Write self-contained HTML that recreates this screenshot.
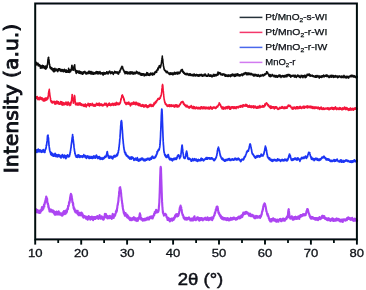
<!DOCTYPE html>
<html><head><meta charset="utf-8"><title>XRD</title>
<style>
html,body{margin:0;padding:0;background:#fff;}
body{width:366px;height:290px;overflow:hidden;}
svg{display:block;font-family:"Liberation Sans",Arial,sans-serif;fill:#0c1216;}
</style></head><body>
<svg width="366" height="290" viewBox="0 0 366 290">
<defs><filter id="b" x="-5%" y="-5%" width="110%" height="110%"><feGaussianBlur stdDeviation="0.5"/></filter></defs>
<rect width="366" height="290" fill="#fff"/>
<g filter="url(#b)">
<polyline fill="none" stroke="#ac44f2" stroke-width="2.1" stroke-linejoin="round" points="36.0,213.0 36.1,211.3 36.2,211.2 36.3,209.4 36.4,211.7 36.5,211.5 36.6,211.4 36.7,212.2 36.8,212.3 36.9,211.0 37.0,211.1 37.1,211.4 37.2,212.2 37.3,212.0 37.4,210.3 37.5,210.3 37.6,211.7 37.7,212.3 37.8,210.9 37.9,210.3 38.0,211.8 38.1,210.7 38.2,211.7 38.3,212.6 38.4,211.9 38.5,211.6 38.6,212.3 38.7,211.3 38.8,211.8 38.9,211.5 39.0,211.9 39.1,211.6 39.2,211.9 39.3,211.7 39.4,212.0 39.5,212.0 39.6,212.1 39.7,213.0 39.8,210.5 39.9,212.8 40.0,211.6 40.1,210.8 40.2,211.7 40.3,211.9 40.4,212.8 40.5,211.0 40.6,212.0 40.7,211.8 40.8,210.1 40.9,210.3 41.0,211.5 41.1,211.2 41.2,211.2 41.3,210.4 41.4,209.9 41.5,209.4 41.6,210.0 41.7,208.1 41.8,208.5 41.9,208.8 42.0,207.1 42.1,209.4 42.2,207.7 42.3,208.3 42.4,210.1 42.5,207.7 42.6,208.0 42.7,209.7 42.8,207.5 42.9,207.9 43.0,208.6 43.1,208.5 43.2,208.4 43.3,208.1 43.4,208.7 43.5,208.2 43.6,207.6 43.7,206.3 43.8,206.1 43.9,204.8 44.0,206.7 44.1,204.3 44.2,206.2 44.3,206.6 44.4,203.9 44.5,203.8 44.6,203.6 44.7,204.2 44.8,202.4 44.9,202.6 45.0,201.9 45.1,201.8 45.2,202.7 45.3,200.5 45.4,201.0 45.5,200.8 45.6,200.9 45.7,198.8 45.8,200.2 45.9,199.3 46.0,199.2 46.1,198.2 46.2,196.5 46.3,197.0 46.4,198.1 46.5,197.5 46.6,197.6 46.7,199.4 46.8,200.2 46.9,198.9 47.0,201.1 47.1,198.6 47.2,199.2 47.3,202.2 47.4,201.9 47.5,203.1 47.6,203.6 47.7,203.5 47.8,204.5 47.9,204.5 48.0,203.5 48.1,205.2 48.2,205.5 48.3,207.2 48.4,205.2 48.5,206.5 48.6,206.5 48.7,207.1 48.8,208.9 48.9,208.3 49.0,208.0 49.1,208.9 49.2,209.8 49.3,208.7 49.4,209.7 49.5,211.4 49.6,211.2 49.7,210.7 49.8,210.5 49.9,210.9 50.0,209.8 50.1,211.7 50.2,211.2 50.3,210.9 50.4,209.6 50.5,209.8 50.6,210.7 50.7,210.4 50.8,209.8 50.9,210.5 51.0,210.9 51.1,209.8 51.2,210.0 51.3,209.9 51.4,209.8 51.5,211.5 51.6,211.3 51.7,211.3 51.8,210.1 51.9,210.2 52.0,211.0 52.1,210.7 52.2,211.1 52.3,210.5 52.4,211.5 52.5,212.3 52.6,212.1 52.7,212.2 52.8,210.9 52.9,211.6 53.0,210.6 53.1,211.7 53.2,210.7 53.3,210.8 53.4,210.7 53.5,211.9 53.6,211.8 53.7,211.9 53.8,211.1 53.9,212.3 54.0,211.2 54.1,213.7 54.2,212.6 54.3,213.0 54.4,213.0 54.5,211.9 54.6,212.2 54.7,213.4 54.8,214.6 54.9,212.7 55.0,213.1 55.1,213.7 55.2,212.5 55.3,212.5 55.4,213.5 55.5,213.8 55.6,213.4 55.7,214.8 55.8,213.4 55.9,213.7 56.0,214.4 56.1,214.4 56.2,211.7 56.3,212.5 56.4,213.7 56.5,211.7 56.6,212.0 56.7,211.8 56.8,211.8 56.9,212.1 57.0,213.2 57.1,214.2 57.2,214.5 57.3,213.4 57.4,212.0 57.5,213.6 57.6,213.4 57.7,214.0 57.8,213.6 57.9,212.3 58.0,213.9 58.1,211.9 58.2,212.9 58.3,213.6 58.4,213.5 58.5,214.4 58.6,211.3 58.7,213.4 58.8,213.6 58.9,212.8 59.0,213.6 59.1,212.3 59.2,213.6 59.3,213.6 59.4,212.4 59.5,212.7 59.6,213.1 59.7,212.8 59.8,214.2 59.9,213.6 60.0,214.6 60.1,214.6 60.2,213.9 60.3,213.8 60.4,213.4 60.5,213.6 60.6,213.7 60.7,214.6 60.8,213.7 60.9,214.4 61.0,214.5 61.1,213.9 61.2,214.0 61.3,215.1 61.4,215.2 61.5,213.3 61.6,213.7 61.7,213.6 61.8,213.7 61.9,215.1 62.0,214.6 62.1,215.2 62.2,215.7 62.3,214.1 62.4,214.4 62.5,214.6 62.6,215.3 62.7,214.4 62.8,214.8 62.9,214.9 63.0,214.7 63.1,213.9 63.2,212.7 63.3,211.8 63.4,213.6 63.5,212.9 63.6,211.7 63.7,211.9 63.8,211.9 63.9,211.0 64.0,212.4 64.1,211.7 64.2,212.1 64.3,212.9 64.4,212.4 64.5,212.9 64.6,212.9 64.7,212.7 64.8,212.8 64.9,214.2 65.0,212.7 65.1,214.0 65.2,212.1 65.3,213.3 65.4,212.8 65.5,212.1 65.6,210.6 65.7,213.7 65.8,211.6 65.9,211.7 66.0,212.4 66.1,212.3 66.2,212.4 66.3,212.0 66.4,210.9 66.5,212.6 66.6,211.1 66.7,211.8 66.8,211.8 66.9,212.0 67.0,210.8 67.1,210.5 67.2,210.2 67.3,208.8 67.4,209.3 67.5,208.8 67.6,208.3 67.7,208.9 67.8,208.2 67.9,209.2 68.0,208.7 68.1,205.9 68.2,206.9 68.3,205.8 68.4,206.5 68.5,205.9 68.6,206.2 68.7,205.4 68.8,205.4 68.9,204.3 69.0,202.3 69.1,202.9 69.2,202.6 69.3,202.4 69.4,201.5 69.5,202.9 69.6,201.0 69.7,201.5 69.8,199.7 69.9,200.6 70.0,197.9 70.1,198.7 70.2,196.7 70.3,197.5 70.4,197.8 70.5,195.0 70.6,195.1 70.7,195.5 70.8,194.9 70.9,193.8 71.0,195.6 71.1,194.8 71.2,195.9 71.3,195.5 71.4,194.8 71.5,195.7 71.6,197.6 71.7,196.1 71.8,197.4 71.9,198.7 72.0,199.6 72.1,200.0 72.2,199.0 72.3,202.1 72.4,201.1 72.5,201.7 72.6,202.3 72.7,202.7 72.8,202.7 72.9,203.6 73.0,205.3 73.1,203.8 73.2,203.5 73.3,206.1 73.4,206.3 73.5,207.0 73.6,208.1 73.7,206.8 73.8,207.8 73.9,208.4 74.0,209.2 74.1,209.4 74.2,208.4 74.3,208.3 74.4,209.3 74.5,208.6 74.6,210.7 74.7,209.9 74.8,210.1 74.9,209.9 75.0,211.8 75.1,211.1 75.2,210.8 75.3,211.7 75.4,211.3 75.5,211.9 75.6,212.4 75.7,211.3 75.8,211.8 75.9,211.7 76.0,212.1 76.1,211.7 76.2,211.3 76.3,210.9 76.4,211.7 76.5,210.8 76.6,212.2 76.7,212.0 76.8,212.5 76.9,211.9 77.0,211.9 77.1,211.9 77.2,213.4 77.3,212.6 77.4,212.7 77.5,211.7 77.6,213.0 77.7,210.8 77.8,214.3 77.9,213.4 78.0,213.7 78.1,212.9 78.2,213.3 78.3,214.6 78.4,214.2 78.5,214.7 78.6,215.3 78.7,214.9 78.8,213.1 78.9,213.7 79.0,213.5 79.1,213.6 79.2,212.7 79.3,212.7 79.4,213.6 79.5,213.6 79.6,214.4 79.7,213.8 79.8,215.1 79.9,212.9 80.0,213.2 80.1,214.4 80.2,214.1 80.3,213.7 80.4,214.9 80.5,215.2 80.6,215.3 80.7,214.1 80.8,214.3 80.9,214.4 81.0,214.2 81.1,214.8 81.2,213.8 81.3,214.3 81.4,212.5 81.5,214.6 81.6,215.2 81.7,214.0 81.8,214.8 81.9,213.0 82.0,213.9 82.1,213.2 82.2,214.5 82.3,214.7 82.4,213.5 82.5,214.0 82.6,214.3 82.7,216.6 82.8,215.1 82.9,215.4 83.0,215.8 83.1,216.0 83.2,215.9 83.3,215.3 83.4,215.9 83.5,217.6 83.6,216.8 83.7,216.4 83.8,215.8 83.9,216.6 84.0,216.7 84.1,216.2 84.2,217.2 84.3,216.1 84.4,216.4 84.5,217.1 84.6,216.6 84.7,217.2 84.8,216.3 84.9,216.2 85.0,216.8 85.1,216.7 85.2,217.5 85.3,217.0 85.4,216.9 85.5,217.3 85.6,217.6 85.7,216.6 85.8,217.4 85.9,217.4 86.0,218.6 86.1,217.5 86.2,218.7 86.3,217.1 86.4,218.0 86.5,218.8 86.6,217.9 86.7,218.8 86.8,216.7 86.9,218.2 87.0,218.3 87.1,218.3 87.2,217.5 87.3,219.1 87.4,217.2 87.5,219.6 87.6,219.3 87.7,219.8 87.8,219.0 87.9,218.3 88.0,218.6 88.1,218.5 88.2,219.0 88.3,218.2 88.4,218.4 88.5,218.2 88.6,218.6 88.7,216.0 88.8,216.9 88.9,217.5 89.0,217.4 89.1,216.6 89.2,216.8 89.3,217.0 89.4,217.3 89.5,217.0 89.6,217.1 89.7,216.9 89.8,217.6 89.9,218.9 90.0,217.5 90.1,218.8 90.2,219.5 90.3,218.3 90.4,219.7 90.5,218.0 90.6,219.1 90.7,217.9 90.8,217.0 90.9,217.9 91.0,218.9 91.1,217.1 91.2,217.8 91.3,216.7 91.4,216.8 91.5,217.6 91.6,217.2 91.7,217.6 91.8,218.1 91.9,216.5 92.0,216.9 92.1,217.4 92.2,219.0 92.3,217.4 92.4,217.4 92.5,218.2 92.6,219.4 92.7,217.8 92.8,218.2 92.9,218.5 93.0,219.1 93.1,220.2 93.2,217.9 93.3,217.6 93.4,218.8 93.5,219.0 93.6,217.0 93.7,218.0 93.8,218.9 93.9,217.8 94.0,218.3 94.1,218.0 94.2,218.2 94.3,217.9 94.4,217.7 94.5,218.3 94.6,217.1 94.7,217.6 94.8,218.2 94.9,217.2 95.0,217.3 95.1,217.1 95.2,217.0 95.3,219.0 95.4,218.0 95.5,218.9 95.6,218.2 95.7,217.7 95.8,217.4 95.9,217.8 96.0,217.5 96.1,218.1 96.2,216.9 96.3,217.5 96.4,217.7 96.5,217.2 96.6,217.1 96.7,217.6 96.8,217.5 96.9,217.0 97.0,217.0 97.1,216.6 97.2,217.3 97.3,216.9 97.4,216.0 97.5,216.9 97.6,217.6 97.7,217.5 97.8,216.9 97.9,218.1 98.0,218.1 98.1,218.2 98.2,218.9 98.3,217.7 98.4,218.3 98.5,217.7 98.6,218.4 98.7,218.4 98.8,217.8 98.9,217.9 99.0,216.7 99.1,217.5 99.2,216.2 99.3,218.3 99.4,217.6 99.5,215.8 99.6,215.1 99.7,217.7 99.8,216.3 99.9,217.3 100.0,216.2 100.1,217.2 100.2,216.9 100.3,217.8 100.4,217.3 100.5,218.6 100.6,217.2 100.7,218.6 100.8,217.8 100.9,218.2 101.0,216.8 101.1,216.6 101.2,218.4 101.3,216.8 101.4,217.3 101.5,217.2 101.6,216.8 101.7,217.5 101.8,216.4 101.9,216.6 102.0,218.0 102.1,217.0 102.2,218.1 102.3,218.2 102.4,218.9 102.5,218.3 102.6,217.0 102.7,218.0 102.8,218.3 102.9,219.5 103.0,219.1 103.1,218.7 103.2,219.4 103.3,218.9 103.4,219.5 103.5,219.2 103.6,219.7 103.7,219.1 103.8,219.3 103.9,218.4 104.0,218.5 104.1,217.6 104.2,217.8 104.3,217.2 104.4,216.6 104.5,216.1 104.6,215.9 104.7,216.1 104.8,214.1 104.9,216.2 105.0,213.8 105.1,215.1 105.2,215.0 105.3,215.7 105.4,215.4 105.5,215.3 105.6,215.4 105.7,216.0 105.8,216.9 105.9,215.7 106.0,214.1 106.1,215.2 106.2,215.8 106.3,217.7 106.4,215.2 106.5,215.6 106.6,216.4 106.7,216.4 106.8,215.6 106.9,217.2 107.0,216.0 107.1,216.9 107.2,218.0 107.3,216.5 107.4,217.2 107.5,218.5 107.6,217.3 107.7,216.7 107.8,217.0 107.9,217.8 108.0,216.2 108.1,216.8 108.2,216.2 108.3,216.4 108.4,218.0 108.5,217.2 108.6,217.0 108.7,217.7 108.8,217.0 108.9,216.8 109.0,218.3 109.1,218.1 109.2,217.0 109.3,217.9 109.4,218.3 109.5,217.6 109.6,217.5 109.7,216.3 109.8,216.9 109.9,215.8 110.0,217.7 110.1,216.9 110.2,217.9 110.3,216.6 110.4,217.8 110.5,216.3 110.6,217.1 110.7,217.7 110.8,217.7 110.9,217.4 111.0,216.5 111.1,218.3 111.2,217.9 111.3,218.2 111.4,218.2 111.5,217.2 111.6,217.6 111.7,219.0 111.8,216.7 111.9,217.3 112.0,216.5 112.1,217.7 112.2,216.5 112.3,215.5 112.4,215.6 112.5,214.9 112.6,214.2 112.7,213.9 112.8,215.1 112.9,214.9 113.0,215.7 113.1,215.2 113.2,216.0 113.3,217.1 113.4,215.4 113.5,215.5 113.6,217.0 113.7,217.9 113.8,215.9 113.9,215.3 114.0,216.2 114.1,216.0 114.2,216.6 114.3,215.3 114.4,215.6 114.5,215.4 114.6,214.5 114.7,214.3 114.8,215.4 114.9,215.3 115.0,214.3 115.1,215.6 115.2,215.0 115.3,214.4 115.4,214.3 115.5,213.8 115.6,213.8 115.7,213.6 115.8,212.9 115.9,211.4 116.0,212.4 116.1,211.7 116.2,211.3 116.3,212.2 116.4,210.5 116.5,211.8 116.6,210.5 116.7,209.6 116.8,209.4 116.9,210.8 117.0,209.7 117.1,208.0 117.2,208.2 117.3,208.0 117.4,205.8 117.5,205.5 117.6,205.7 117.7,204.7 117.8,203.7 117.9,204.3 118.0,203.0 118.1,202.5 118.2,202.8 118.3,200.8 118.4,201.4 118.5,199.0 118.6,197.9 118.7,197.1 118.8,196.6 118.9,195.5 119.0,194.4 119.1,192.3 119.2,191.6 119.3,191.3 119.4,191.1 119.5,190.9 119.6,187.8 119.7,188.7 119.8,188.1 119.9,188.0 120.0,188.1 120.1,187.4 120.2,187.2 120.3,189.0 120.4,189.2 120.5,188.9 120.6,189.7 120.7,190.0 120.8,190.3 120.9,192.4 121.0,192.4 121.1,193.0 121.2,194.2 121.3,196.5 121.4,196.7 121.5,197.6 121.6,198.4 121.7,199.8 121.8,200.6 121.9,200.2 122.0,201.7 122.1,202.3 122.2,203.6 122.3,204.1 122.4,203.7 122.5,206.3 122.6,206.4 122.7,205.9 122.8,208.3 122.9,208.3 123.0,209.2 123.1,209.5 123.2,210.1 123.3,210.3 123.4,210.0 123.5,211.1 123.6,212.1 123.7,212.4 123.8,213.1 123.9,213.0 124.0,211.9 124.1,214.0 124.2,213.3 124.3,213.2 124.4,214.0 124.5,213.5 124.6,214.7 124.7,214.0 124.8,215.8 124.9,214.4 125.0,214.2 125.1,214.1 125.2,213.1 125.3,213.9 125.4,214.0 125.5,214.2 125.6,213.1 125.7,214.5 125.8,215.4 125.9,214.4 126.0,214.8 126.1,215.2 126.2,214.5 126.3,214.9 126.4,215.8 126.5,215.4 126.6,214.6 126.7,214.4 126.8,216.9 126.9,215.9 127.0,214.7 127.1,215.9 127.2,216.4 127.3,216.2 127.4,215.1 127.5,217.6 127.6,217.0 127.7,216.7 127.8,217.4 127.9,216.9 128.0,217.0 128.1,217.8 128.2,216.1 128.3,217.9 128.4,217.6 128.5,217.9 128.6,218.0 128.7,218.5 128.8,218.5 128.9,218.2 129.0,217.6 129.1,218.4 129.2,217.8 129.3,217.6 129.4,218.7 129.5,218.8 129.6,219.4 129.7,217.6 129.8,219.4 129.9,219.5 130.0,219.3 130.1,220.1 130.2,218.7 130.3,219.5 130.4,219.0 130.5,219.2 130.6,218.5 130.7,218.9 130.8,219.3 130.9,218.9 131.0,219.0 131.1,218.3 131.2,219.7 131.3,218.4 131.4,218.9 131.5,219.3 131.6,218.9 131.7,219.6 131.8,219.3 131.9,220.3 132.0,219.7 132.1,219.6 132.2,218.8 132.3,219.6 132.4,219.8 132.5,219.4 132.6,218.4 132.7,218.6 132.8,218.6 132.9,218.7 133.0,217.7 133.1,219.6 133.2,218.3 133.3,218.3 133.4,217.9 133.5,218.1 133.6,219.2 133.7,217.4 133.8,217.7 133.9,217.3 134.0,217.7 134.1,219.0 134.2,217.8 134.3,218.1 134.4,217.5 134.5,218.5 134.6,219.1 134.7,218.9 134.8,219.1 134.9,219.9 135.0,219.9 135.1,219.5 135.2,219.1 135.3,218.6 135.4,220.4 135.5,218.3 135.6,219.5 135.7,219.0 135.8,218.6 135.9,219.5 136.0,218.6 136.1,219.8 136.2,218.5 136.3,219.5 136.4,220.1 136.5,218.9 136.6,220.8 136.7,220.2 136.8,218.5 136.9,220.7 137.0,221.1 137.1,219.9 137.2,220.0 137.3,220.3 137.4,219.0 137.5,220.1 137.6,220.5 137.7,219.5 137.8,220.3 137.9,220.8 138.0,218.1 138.1,218.0 138.2,218.5 138.3,219.1 138.4,218.8 138.5,217.9 138.6,217.7 138.7,217.8 138.8,219.2 138.9,217.5 139.0,217.6 139.1,218.2 139.2,217.2 139.3,216.3 139.4,217.2 139.5,215.9 139.6,214.6 139.7,214.1 139.8,214.4 139.9,213.4 140.0,213.9 140.1,214.8 140.2,215.5 140.3,214.6 140.4,216.0 140.5,216.7 140.6,217.4 140.7,218.2 140.8,218.7 140.9,217.9 141.0,217.7 141.1,218.6 141.2,218.1 141.3,219.6 141.4,218.8 141.5,218.6 141.6,219.2 141.7,218.3 141.8,218.5 141.9,218.7 142.0,219.4 142.1,219.9 142.2,219.8 142.3,219.9 142.4,219.5 142.5,220.0 142.6,219.7 142.7,220.6 142.8,219.5 142.9,219.9 143.0,220.0 143.1,220.3 143.2,219.4 143.3,219.7 143.4,219.3 143.5,219.0 143.6,220.5 143.7,220.1 143.8,219.0 143.9,219.3 144.0,220.2 144.1,219.5 144.2,219.2 144.3,220.4 144.4,219.3 144.5,219.2 144.6,219.7 144.7,218.8 144.8,219.2 144.9,219.2 145.0,219.6 145.1,218.7 145.2,219.8 145.3,219.4 145.4,220.3 145.5,219.5 145.6,219.0 145.7,219.0 145.8,218.6 145.9,219.2 146.0,219.1 146.1,219.6 146.2,219.0 146.3,218.4 146.4,219.5 146.5,218.6 146.6,218.9 146.7,219.6 146.8,219.4 146.9,218.3 147.0,218.6 147.1,219.4 147.2,219.2 147.3,219.0 147.4,219.2 147.5,217.5 147.6,218.6 147.7,218.0 147.8,218.5 147.9,218.6 148.0,219.1 148.1,219.5 148.2,219.3 148.3,218.9 148.4,218.5 148.5,219.4 148.6,218.8 148.7,217.6 148.8,218.6 148.9,218.9 149.0,218.0 149.1,218.7 149.2,219.4 149.3,218.2 149.4,218.2 149.5,218.1 149.6,217.4 149.7,217.5 149.8,217.1 149.9,217.4 150.0,216.9 150.1,217.9 150.2,217.2 150.3,217.7 150.4,216.5 150.5,217.3 150.6,217.7 150.7,217.9 150.8,217.2 150.9,217.6 151.0,217.8 151.1,217.6 151.2,217.6 151.3,218.2 151.4,217.2 151.5,216.8 151.6,217.5 151.7,217.9 151.8,216.3 151.9,218.3 152.0,217.6 152.1,217.8 152.2,216.9 152.3,217.4 152.4,218.5 152.5,218.5 152.6,217.7 152.7,217.2 152.8,217.2 152.9,218.0 153.0,216.6 153.1,216.3 153.2,216.6 153.3,217.0 153.4,215.6 153.5,216.1 153.6,215.9 153.7,215.5 153.8,215.1 153.9,215.5 154.0,215.1 154.1,213.7 154.2,215.3 154.3,214.4 154.4,214.2 154.5,213.6 154.6,213.5 154.7,212.1 154.8,213.2 154.9,213.6 155.0,213.4 155.1,212.6 155.2,211.5 155.3,212.0 155.4,212.3 155.5,213.0 155.6,211.2 155.7,211.9 155.8,212.1 155.9,211.9 156.0,211.3 156.1,209.7 156.2,211.5 156.3,211.2 156.4,211.5 156.5,210.7 156.6,211.0 156.7,212.2 156.8,211.4 156.9,211.5 157.0,211.2 157.1,212.4 157.2,210.7 157.3,211.4 157.4,211.9 157.5,211.6 157.6,212.1 157.7,211.8 157.8,212.3 157.9,211.3 158.0,211.3 158.1,211.4 158.2,210.1 158.3,211.7 158.4,210.2 158.5,211.0 158.6,210.7 158.7,209.8 158.8,208.6 158.9,207.2 159.0,205.2 159.1,205.4 159.2,203.3 159.3,202.6 159.4,199.4 159.5,197.6 159.6,194.5 159.7,192.1 159.8,188.7 159.9,185.7 160.0,181.4 160.1,178.8 160.2,175.9 160.3,173.8 160.4,170.6 160.5,167.7 160.6,168.0 160.7,166.8 160.8,167.6 160.9,167.7 161.0,168.3 161.1,172.2 161.2,175.0 161.3,178.8 161.4,181.0 161.5,184.6 161.6,187.5 161.7,191.4 161.8,193.6 161.9,197.6 162.0,199.6 162.1,201.9 162.2,203.2 162.3,205.2 162.4,207.1 162.5,207.4 162.6,209.7 162.7,209.9 162.8,211.4 162.9,212.7 163.0,212.9 163.1,211.9 163.2,213.6 163.3,213.1 163.4,213.4 163.5,213.9 163.6,213.6 163.7,214.7 163.8,214.4 163.9,215.6 164.0,215.3 164.1,213.8 164.2,214.7 164.3,214.7 164.4,214.8 164.5,214.8 164.6,215.1 164.7,214.8 164.8,214.1 164.9,214.8 165.0,214.9 165.1,214.3 165.2,214.9 165.3,214.4 165.4,213.8 165.5,213.9 165.6,214.2 165.7,214.6 165.8,214.6 165.9,215.2 166.0,215.6 166.1,214.6 166.2,214.9 166.3,215.8 166.4,216.4 166.5,217.0 166.6,217.1 166.7,217.4 166.8,216.7 166.9,217.7 167.0,217.3 167.1,218.1 167.2,218.5 167.3,217.8 167.4,218.2 167.5,219.9 167.6,218.2 167.7,218.5 167.8,218.3 167.9,218.2 168.0,219.7 168.1,218.8 168.2,218.9 168.3,218.9 168.4,217.8 168.5,219.8 168.6,219.1 168.7,219.4 168.8,220.2 168.9,219.4 169.0,219.7 169.1,219.8 169.2,220.5 169.3,219.1 169.4,219.7 169.5,218.9 169.6,220.2 169.7,220.6 169.8,220.0 169.9,221.4 170.0,220.8 170.1,221.3 170.2,220.2 170.3,221.0 170.4,219.6 170.5,220.0 170.6,219.7 170.7,219.2 170.8,220.2 170.9,219.9 171.0,218.7 171.1,219.4 171.2,219.0 171.3,219.1 171.4,219.3 171.5,218.7 171.6,219.2 171.7,219.3 171.8,218.8 171.9,219.0 172.0,219.8 172.1,219.4 172.2,220.8 172.3,220.7 172.4,219.2 172.5,219.8 172.6,218.6 172.7,219.4 172.8,219.2 172.9,219.3 173.0,218.5 173.1,219.8 173.2,219.6 173.3,219.0 173.4,219.3 173.5,219.7 173.6,219.9 173.7,218.2 173.8,219.6 173.9,217.6 174.0,218.0 174.1,218.1 174.2,219.0 174.3,218.4 174.4,218.2 174.5,218.6 174.6,217.6 174.7,217.0 174.8,217.9 174.9,216.7 175.0,216.0 175.1,215.5 175.2,216.3 175.3,217.1 175.4,216.3 175.5,215.7 175.6,216.2 175.7,214.6 175.8,215.5 175.9,214.8 176.0,215.8 176.1,214.5 176.2,215.4 176.3,215.0 176.4,214.9 176.5,215.3 176.6,215.0 176.7,215.9 176.8,215.1 176.9,214.1 177.0,216.2 177.1,216.2 177.2,215.8 177.3,216.4 177.4,216.0 177.5,215.2 177.6,214.5 177.7,215.0 177.8,215.4 177.9,215.7 178.0,214.6 178.1,214.7 178.2,215.9 178.3,214.5 178.4,214.2 178.5,213.9 178.6,215.0 178.7,214.2 178.8,213.9 178.9,213.9 179.0,213.1 179.1,212.8 179.2,211.8 179.3,211.6 179.4,210.9 179.5,210.4 179.6,208.7 179.7,208.7 179.8,208.1 179.9,207.4 180.0,207.3 180.1,207.9 180.2,207.1 180.3,206.4 180.4,206.4 180.5,207.0 180.6,205.6 180.7,206.6 180.8,207.6 180.9,207.9 181.0,207.8 181.1,208.1 181.2,207.2 181.3,208.4 181.4,209.3 181.5,210.1 181.6,210.7 181.7,209.8 181.8,211.3 181.9,212.3 182.0,212.1 182.1,212.8 182.2,213.6 182.3,213.8 182.4,214.0 182.5,214.6 182.6,215.1 182.7,214.6 182.8,214.5 182.9,215.0 183.0,215.4 183.1,215.9 183.2,215.4 183.3,216.1 183.4,216.6 183.5,217.7 183.6,217.5 183.7,217.3 183.8,218.1 183.9,217.9 184.0,218.1 184.1,218.7 184.2,218.4 184.3,218.4 184.4,218.8 184.5,218.2 184.6,218.6 184.7,217.5 184.8,218.4 184.9,219.5 185.0,218.5 185.1,218.8 185.2,218.6 185.3,218.2 185.4,219.0 185.5,218.7 185.6,219.3 185.7,218.2 185.8,218.6 185.9,218.3 186.0,218.1 186.1,219.0 186.2,217.9 186.3,217.9 186.4,219.7 186.5,218.3 186.6,218.3 186.7,218.7 186.8,218.0 186.9,218.8 187.0,218.0 187.1,218.4 187.2,218.3 187.3,219.4 187.4,218.9 187.5,219.5 187.6,219.3 187.7,218.0 187.8,218.6 187.9,218.0 188.0,217.9 188.1,218.9 188.2,219.0 188.3,218.3 188.4,218.4 188.5,218.4 188.6,218.3 188.7,218.3 188.8,217.5 188.9,218.4 189.0,217.7 189.1,217.4 189.2,218.0 189.3,218.3 189.4,218.7 189.5,218.6 189.6,218.7 189.7,218.4 189.8,219.2 189.9,219.2 190.0,219.5 190.1,219.1 190.2,220.5 190.3,220.1 190.4,220.2 190.5,219.9 190.6,219.7 190.7,220.3 190.8,219.1 190.9,219.5 191.0,219.5 191.1,219.9 191.2,219.4 191.3,220.3 191.4,218.6 191.5,220.4 191.6,219.7 191.7,220.1 191.8,219.3 191.9,220.2 192.0,219.5 192.1,219.8 192.2,218.9 192.3,220.1 192.4,219.9 192.5,218.9 192.6,219.9 192.7,219.8 192.8,220.4 192.9,219.5 193.0,219.9 193.1,220.4 193.2,219.0 193.3,220.3 193.4,219.2 193.5,218.7 193.6,217.8 193.7,217.4 193.8,218.6 193.9,217.6 194.0,217.2 194.1,218.0 194.2,217.7 194.3,217.3 194.4,216.5 194.5,216.3 194.6,218.0 194.7,217.6 194.8,217.7 194.9,219.1 195.0,218.1 195.1,218.8 195.2,220.0 195.3,219.4 195.4,218.9 195.5,218.9 195.6,220.1 195.7,218.8 195.8,219.9 195.9,220.3 196.0,219.3 196.1,219.7 196.2,219.2 196.3,219.8 196.4,219.1 196.5,218.5 196.6,218.9 196.7,218.7 196.8,218.2 196.9,218.3 197.0,217.8 197.1,217.9 197.2,218.7 197.3,217.4 197.4,218.5 197.5,218.4 197.6,218.1 197.7,219.2 197.8,218.8 197.9,218.1 198.0,218.5 198.1,218.9 198.2,217.6 198.3,218.6 198.4,218.5 198.5,218.9 198.6,220.0 198.7,218.7 198.8,219.1 198.9,218.8 199.0,219.7 199.1,220.0 199.2,218.4 199.3,220.6 199.4,220.6 199.5,218.2 199.6,218.8 199.7,219.7 199.8,219.4 199.9,219.9 200.0,219.0 200.1,219.8 200.2,218.3 200.3,219.3 200.4,218.8 200.5,218.8 200.6,218.2 200.7,219.0 200.8,220.0 200.9,218.9 201.0,219.1 201.1,219.3 201.2,218.7 201.3,219.3 201.4,219.4 201.5,219.0 201.6,218.0 201.7,219.8 201.8,219.0 201.9,219.0 202.0,218.9 202.1,218.7 202.2,218.2 202.3,219.2 202.4,219.4 202.5,219.9 202.6,220.3 202.7,219.1 202.8,220.4 202.9,219.6 203.0,219.9 203.1,219.0 203.2,219.7 203.3,219.0 203.4,219.8 203.5,218.7 203.6,219.2 203.7,218.9 203.8,219.2 203.9,219.0 204.0,218.9 204.1,218.4 204.2,219.1 204.3,218.9 204.4,218.2 204.5,219.1 204.6,218.4 204.7,218.8 204.8,218.7 204.9,218.8 205.0,219.3 205.1,217.9 205.2,219.5 205.3,217.9 205.4,219.5 205.5,219.1 205.6,218.0 205.7,219.0 205.8,218.7 205.9,218.3 206.0,219.6 206.1,219.5 206.2,219.2 206.3,219.9 206.4,219.1 206.5,218.9 206.6,219.7 206.7,218.6 206.8,219.4 206.9,219.6 207.0,219.1 207.1,219.1 207.2,219.3 207.3,219.2 207.4,218.7 207.5,217.2 207.6,218.8 207.7,218.3 207.8,219.6 207.9,218.8 208.0,219.2 208.1,219.5 208.2,219.6 208.3,218.5 208.4,220.2 208.5,219.5 208.6,219.4 208.7,218.5 208.8,220.1 208.9,219.4 209.0,219.6 209.1,218.8 209.2,219.9 209.3,219.6 209.4,218.7 209.5,219.7 209.6,218.0 209.7,219.0 209.8,218.9 209.9,218.9 210.0,218.2 210.1,218.4 210.2,219.2 210.3,219.2 210.4,218.7 210.5,218.6 210.6,218.4 210.7,219.4 210.8,218.6 210.9,218.4 211.0,217.7 211.1,217.7 211.2,218.1 211.3,217.6 211.4,218.5 211.5,218.6 211.6,218.2 211.7,218.6 211.8,218.8 211.9,218.0 212.0,219.3 212.1,217.5 212.2,220.1 212.3,218.2 212.4,219.0 212.5,218.7 212.6,219.0 212.7,218.3 212.8,218.9 212.9,217.6 213.0,218.7 213.1,218.0 213.2,218.1 213.3,218.3 213.4,216.8 213.5,216.9 213.6,216.5 213.7,216.5 213.8,216.4 213.9,216.3 214.0,215.8 214.1,215.3 214.2,215.3 214.3,215.3 214.4,215.0 214.5,215.4 214.6,213.7 214.7,213.9 214.8,212.8 214.9,212.9 215.0,213.3 215.1,213.4 215.2,212.2 215.3,212.4 215.4,211.9 215.5,211.8 215.6,211.3 215.7,210.6 215.8,209.3 215.9,209.3 216.0,210.0 216.1,209.4 216.2,210.1 216.3,208.7 216.4,208.8 216.5,207.3 216.6,206.9 216.7,207.4 216.8,207.9 216.9,207.1 217.0,206.5 217.1,206.8 217.2,207.0 217.3,207.0 217.4,207.0 217.5,206.7 217.6,207.0 217.7,207.8 217.8,208.5 217.9,208.4 218.0,210.5 218.1,210.5 218.2,210.4 218.3,211.6 218.4,213.0 218.5,212.2 218.6,212.6 218.7,213.3 218.8,212.3 218.9,213.0 219.0,213.1 219.1,214.1 219.2,213.0 219.3,214.2 219.4,214.0 219.5,214.3 219.6,214.3 219.7,215.6 219.8,214.6 219.9,214.7 220.0,215.7 220.1,215.4 220.2,216.1 220.3,216.0 220.4,216.1 220.5,216.3 220.6,215.5 220.7,215.4 220.8,217.6 220.9,216.1 221.0,217.1 221.1,216.4 221.2,217.1 221.3,217.1 221.4,218.2 221.5,217.4 221.6,216.8 221.7,216.9 221.8,217.9 221.9,218.2 222.0,218.8 222.1,218.9 222.2,217.1 222.3,217.9 222.4,217.3 222.5,218.2 222.6,218.5 222.7,217.2 222.8,218.7 222.9,218.8 223.0,218.3 223.1,218.2 223.2,219.5 223.3,218.6 223.4,218.2 223.5,218.9 223.6,219.5 223.7,219.3 223.8,218.0 223.9,218.3 224.0,218.8 224.1,219.1 224.2,219.1 224.3,218.4 224.4,219.5 224.5,219.3 224.6,218.2 224.7,218.5 224.8,218.9 224.9,218.2 225.0,219.0 225.1,219.0 225.2,218.6 225.3,219.1 225.4,219.7 225.5,218.4 225.6,219.0 225.7,218.5 225.8,219.6 225.9,219.4 226.0,218.8 226.1,218.6 226.2,219.3 226.3,218.9 226.4,218.4 226.5,218.5 226.6,219.0 226.7,220.2 226.8,219.6 226.9,219.8 227.0,219.5 227.1,219.7 227.2,219.8 227.3,218.5 227.4,219.4 227.5,219.5 227.6,219.5 227.7,219.6 227.8,218.1 227.9,219.6 228.0,218.9 228.1,220.2 228.2,219.5 228.3,219.7 228.4,219.9 228.5,218.8 228.6,219.8 228.7,219.3 228.8,220.4 228.9,219.6 229.0,219.2 229.1,220.4 229.2,219.5 229.3,219.1 229.4,219.5 229.5,219.4 229.6,219.6 229.7,218.9 229.8,219.9 229.9,219.5 230.0,220.2 230.1,219.6 230.2,218.8 230.3,219.8 230.4,219.1 230.5,219.3 230.6,217.9 230.7,218.5 230.8,219.8 230.9,219.7 231.0,218.2 231.1,219.3 231.2,219.3 231.3,219.8 231.4,218.6 231.5,218.3 231.6,219.3 231.7,218.8 231.8,218.8 231.9,218.6 232.0,219.6 232.1,218.4 232.2,219.2 232.3,218.9 232.4,218.2 232.5,219.0 232.6,219.1 232.7,218.6 232.8,218.3 232.9,218.8 233.0,218.0 233.1,218.7 233.2,219.3 233.3,217.8 233.4,217.5 233.5,218.8 233.6,218.0 233.7,218.2 233.8,218.4 233.9,218.0 234.0,218.3 234.1,217.7 234.2,217.9 234.3,218.1 234.4,218.4 234.5,217.9 234.6,218.3 234.7,218.4 234.8,218.4 234.9,218.2 235.0,219.0 235.1,218.0 235.2,219.1 235.3,219.2 235.4,219.3 235.5,218.7 235.6,219.6 235.7,219.4 235.8,218.6 235.9,219.0 236.0,218.4 236.1,219.2 236.2,219.6 236.3,219.3 236.4,218.2 236.5,218.1 236.6,218.5 236.7,218.4 236.8,218.9 236.9,218.3 237.0,219.1 237.1,218.2 237.2,219.1 237.3,217.8 237.4,218.2 237.5,218.5 237.6,218.8 237.7,218.6 237.8,217.7 237.9,217.4 238.0,217.9 238.1,217.8 238.2,217.6 238.3,217.7 238.4,216.9 238.5,217.8 238.6,218.1 238.7,217.1 238.8,217.1 238.9,218.2 239.0,218.1 239.1,217.1 239.2,217.2 239.3,216.6 239.4,217.8 239.5,217.6 239.6,217.4 239.7,218.5 239.8,217.2 239.9,217.2 240.0,217.3 240.1,216.9 240.2,217.5 240.3,216.8 240.4,216.8 240.5,217.9 240.6,216.3 240.7,216.0 240.8,216.6 240.9,216.1 241.0,216.1 241.1,216.5 241.2,216.8 241.3,215.6 241.4,216.2 241.5,215.2 241.6,216.8 241.7,215.7 241.8,216.5 241.9,217.1 242.0,216.8 242.1,216.2 242.2,214.9 242.3,216.8 242.4,215.5 242.5,215.9 242.6,215.1 242.7,215.1 242.8,215.8 242.9,213.9 243.0,213.9 243.1,214.2 243.2,214.6 243.3,212.6 243.4,214.3 243.5,213.2 243.6,213.6 243.7,214.5 243.8,213.3 243.9,213.5 244.0,213.7 244.1,212.8 244.2,213.1 244.3,213.0 244.4,213.3 244.5,213.1 244.6,213.1 244.7,213.1 244.8,213.8 244.9,212.7 245.0,213.4 245.1,214.0 245.2,212.5 245.3,212.2 245.4,213.4 245.5,212.5 245.6,212.5 245.7,213.1 245.8,212.8 245.9,212.2 246.0,212.3 246.1,211.7 246.2,212.1 246.3,212.4 246.4,212.7 246.5,212.8 246.6,213.4 246.7,212.6 246.8,213.2 246.9,212.9 247.0,212.4 247.1,213.1 247.2,213.2 247.3,213.4 247.4,213.3 247.5,213.2 247.6,212.6 247.7,213.0 247.8,213.3 247.9,213.5 248.0,213.7 248.1,213.5 248.2,213.8 248.3,214.3 248.4,213.8 248.5,213.6 248.6,213.4 248.7,214.3 248.8,214.8 248.9,214.5 249.0,215.7 249.1,214.6 249.2,215.0 249.3,215.2 249.4,214.6 249.5,215.7 249.6,214.7 249.7,214.4 249.8,213.9 249.9,215.2 250.0,215.3 250.1,214.1 250.2,213.8 250.3,214.3 250.4,214.6 250.5,214.4 250.6,215.1 250.7,214.4 250.8,216.1 250.9,215.4 251.0,215.8 251.1,215.1 251.2,215.9 251.3,216.3 251.4,215.1 251.5,215.5 251.6,216.0 251.7,215.8 251.8,215.2 251.9,215.4 252.0,216.0 252.1,215.9 252.2,215.5 252.3,216.0 252.4,214.7 252.5,215.9 252.6,216.3 252.7,216.3 252.8,215.7 252.9,216.0 253.0,216.0 253.1,215.9 253.2,215.7 253.3,215.4 253.4,216.0 253.5,215.8 253.6,215.5 253.7,217.3 253.8,216.1 253.9,216.7 254.0,216.8 254.1,216.4 254.2,217.5 254.3,216.5 254.4,218.3 254.5,216.6 254.6,216.9 254.7,217.2 254.8,217.1 254.9,217.1 255.0,217.6 255.1,217.7 255.2,218.2 255.3,216.4 255.4,217.6 255.5,217.3 255.6,216.8 255.7,216.3 255.8,218.1 255.9,217.5 256.0,215.9 256.1,217.6 256.2,217.0 256.3,216.9 256.4,217.2 256.5,216.4 256.6,216.7 256.7,217.3 256.8,216.3 256.9,216.2 257.0,216.1 257.1,217.5 257.2,216.6 257.3,217.0 257.4,216.9 257.5,217.5 257.6,217.3 257.7,216.7 257.8,217.8 257.9,217.3 258.0,217.3 258.1,216.9 258.2,216.9 258.3,216.9 258.4,217.1 258.5,217.3 258.6,217.2 258.7,216.8 258.8,216.9 258.9,217.2 259.0,217.4 259.1,217.4 259.2,216.7 259.3,216.0 259.4,216.7 259.5,216.8 259.6,216.7 259.7,217.0 259.8,216.5 259.9,216.9 260.0,215.8 260.1,217.9 260.2,217.0 260.3,216.8 260.4,217.2 260.5,216.8 260.6,216.4 260.7,217.0 260.8,216.5 260.9,215.9 261.0,216.4 261.1,216.0 261.2,215.7 261.3,215.1 261.4,215.5 261.5,214.2 261.6,214.7 261.7,214.7 261.8,213.1 261.9,213.3 262.0,211.9 262.1,212.4 262.2,211.1 262.3,210.9 262.4,211.2 262.5,211.2 262.6,210.5 262.7,209.7 262.8,208.9 262.9,208.9 263.0,209.6 263.1,208.7 263.2,206.8 263.3,206.7 263.4,206.0 263.5,206.6 263.6,205.8 263.7,204.9 263.8,205.3 263.9,204.9 264.0,204.3 264.1,204.5 264.2,204.9 264.3,203.9 264.4,204.0 264.5,203.4 264.6,203.8 264.7,204.7 264.8,204.3 264.9,203.7 265.0,204.0 265.1,205.2 265.2,204.8 265.3,205.0 265.4,206.3 265.5,206.0 265.6,206.4 265.7,207.5 265.8,207.1 265.9,208.1 266.0,208.4 266.1,209.3 266.2,209.6 266.3,211.1 266.4,210.9 266.5,211.0 266.6,211.7 266.7,211.7 266.8,212.4 266.9,212.9 267.0,213.2 267.1,214.0 267.2,213.9 267.3,213.5 267.4,214.3 267.5,213.8 267.6,215.6 267.7,213.9 267.8,215.0 267.9,215.5 268.0,215.0 268.1,215.5 268.2,216.4 268.3,215.5 268.4,216.9 268.5,216.5 268.6,216.7 268.7,218.2 268.8,217.9 268.9,218.0 269.0,217.9 269.1,218.4 269.2,218.5 269.3,219.8 269.4,219.2 269.5,219.0 269.6,219.3 269.7,220.0 269.8,219.4 269.9,219.7 270.0,219.3 270.1,219.1 270.2,221.4 270.3,220.2 270.4,221.2 270.5,220.6 270.6,220.4 270.7,219.7 270.8,220.2 270.9,220.3 271.0,219.8 271.1,220.5 271.2,220.8 271.3,220.3 271.4,220.2 271.5,219.1 271.6,221.4 271.7,220.3 271.8,219.3 271.9,219.2 272.0,219.4 272.1,219.1 272.2,219.6 272.3,219.0 272.4,219.4 272.5,219.0 272.6,219.0 272.7,218.5 272.8,219.1 272.9,219.1 273.0,218.6 273.1,218.2 273.2,219.1 273.3,218.3 273.4,218.9 273.5,219.7 273.6,220.2 273.7,219.5 273.8,219.9 273.9,220.5 274.0,219.4 274.1,219.7 274.2,220.1 274.3,220.7 274.4,219.4 274.5,219.4 274.6,220.5 274.7,220.7 274.8,219.8 274.9,220.2 275.0,220.7 275.1,220.1 275.2,219.3 275.3,220.5 275.4,220.9 275.5,219.8 275.6,221.2 275.7,220.4 275.8,219.7 275.9,220.8 276.0,219.9 276.1,221.5 276.2,221.1 276.3,221.8 276.4,220.0 276.5,221.0 276.6,221.7 276.7,221.5 276.8,221.2 276.9,221.0 277.0,221.0 277.1,221.1 277.2,221.4 277.3,219.5 277.4,219.9 277.5,220.0 277.6,220.4 277.7,220.5 277.8,220.1 277.9,220.3 278.0,220.7 278.1,221.0 278.2,220.0 278.3,220.2 278.4,220.4 278.5,221.6 278.6,219.9 278.7,220.4 278.8,220.2 278.9,219.8 279.0,220.5 279.1,219.9 279.2,219.6 279.3,219.8 279.4,219.8 279.5,219.3 279.6,219.2 279.7,220.1 279.8,219.2 279.9,220.0 280.0,219.5 280.1,219.2 280.2,219.1 280.3,218.9 280.4,220.2 280.5,220.3 280.6,219.8 280.7,219.6 280.8,220.0 280.9,220.4 281.0,221.1 281.1,220.2 281.2,219.7 281.3,220.7 281.4,220.4 281.5,220.2 281.6,219.6 281.7,220.8 281.8,221.2 281.9,219.8 282.0,219.5 282.1,219.8 282.2,219.8 282.3,220.2 282.4,219.8 282.5,218.8 282.6,219.8 282.7,219.7 282.8,219.3 282.9,219.7 283.0,218.8 283.1,219.4 283.2,218.9 283.3,219.6 283.4,220.0 283.5,218.6 283.6,219.6 283.7,220.0 283.8,219.7 283.9,220.4 284.0,219.6 284.1,220.8 284.2,219.8 284.3,219.1 284.4,219.7 284.5,219.4 284.6,220.4 284.7,220.6 284.8,220.7 284.9,220.2 285.0,219.7 285.1,219.4 285.2,219.1 285.3,219.9 285.4,218.9 285.5,219.3 285.6,219.5 285.7,219.5 285.8,218.4 285.9,218.4 286.0,218.3 286.1,219.1 286.2,218.0 286.3,217.9 286.4,218.5 286.5,218.5 286.6,218.9 286.7,217.7 286.8,218.1 286.9,216.6 287.0,217.7 287.1,217.7 287.2,217.6 287.3,216.7 287.4,217.6 287.5,217.5 287.6,216.4 287.7,216.1 287.8,215.4 287.9,214.8 288.0,214.2 288.1,212.6 288.2,211.6 288.3,211.1 288.4,210.1 288.5,210.2 288.6,209.4 288.7,209.2 288.8,209.4 288.9,210.9 289.0,211.6 289.1,212.2 289.2,215.0 289.3,213.9 289.4,216.4 289.5,217.7 289.6,216.7 289.7,216.8 289.8,217.6 289.9,217.0 290.0,217.8 290.1,218.2 290.2,217.2 290.3,218.7 290.4,218.0 290.5,218.0 290.6,218.5 290.7,217.1 290.8,217.1 290.9,217.7 291.0,217.7 291.1,217.2 291.2,217.2 291.3,217.0 291.4,216.6 291.5,216.3 291.6,216.6 291.7,217.0 291.8,217.2 291.9,216.4 292.0,218.1 292.1,218.6 292.2,217.8 292.3,217.5 292.4,218.0 292.5,218.7 292.6,218.5 292.7,219.6 292.8,218.6 292.9,219.3 293.0,219.0 293.1,219.8 293.2,218.8 293.3,218.7 293.4,217.8 293.5,218.0 293.6,217.3 293.7,219.5 293.8,217.8 293.9,217.7 294.0,217.8 294.1,218.0 294.2,218.2 294.3,217.1 294.4,218.8 294.5,218.2 294.6,218.2 294.7,219.1 294.8,218.3 294.9,217.6 295.0,217.5 295.1,218.1 295.2,217.6 295.3,217.5 295.4,216.7 295.5,217.3 295.6,216.9 295.7,216.8 295.8,217.9 295.9,217.5 296.0,217.3 296.1,218.0 296.2,218.6 296.3,217.0 296.4,218.3 296.5,218.1 296.6,218.0 296.7,218.9 296.8,218.7 296.9,218.0 297.0,218.9 297.1,218.2 297.2,218.2 297.3,217.5 297.4,218.1 297.5,218.3 297.6,217.8 297.7,217.8 297.8,218.4 297.9,217.6 298.0,217.3 298.1,218.5 298.2,217.2 298.3,216.3 298.4,216.9 298.5,217.4 298.6,216.9 298.7,216.9 298.8,217.2 298.9,217.3 299.0,217.3 299.1,217.4 299.2,217.9 299.3,219.0 299.4,217.8 299.5,217.5 299.6,216.7 299.7,216.9 299.8,216.2 299.9,216.5 300.0,215.8 300.1,216.7 300.2,217.0 300.3,216.3 300.4,217.0 300.5,215.0 300.6,216.0 300.7,215.5 300.8,215.6 300.9,215.0 301.0,215.6 301.1,215.6 301.2,215.3 301.3,216.3 301.4,216.2 301.5,216.4 301.6,215.5 301.7,215.5 301.8,215.2 301.9,216.1 302.0,216.1 302.1,215.6 302.2,215.1 302.3,215.5 302.4,215.6 302.5,215.5 302.6,215.0 302.7,215.6 302.8,215.6 302.9,214.4 303.0,214.9 303.1,214.7 303.2,214.0 303.3,214.4 303.4,214.8 303.5,215.3 303.6,214.4 303.7,214.6 303.8,214.8 303.9,214.7 304.0,214.2 304.1,215.4 304.2,214.9 304.3,215.2 304.4,215.3 304.5,214.7 304.6,214.4 304.7,214.5 304.8,214.6 304.9,214.4 305.0,214.6 305.1,214.1 305.2,214.5 305.3,214.4 305.4,214.7 305.5,214.8 305.6,215.3 305.7,214.7 305.8,214.2 305.9,213.6 306.0,213.4 306.1,213.2 306.2,212.6 306.3,212.4 306.4,211.6 306.5,211.9 306.6,210.9 306.7,210.8 306.8,210.4 306.9,211.7 307.0,210.2 307.1,210.4 307.2,209.0 307.3,209.8 307.4,209.3 307.5,209.9 307.6,209.3 307.7,209.1 307.8,210.3 307.9,210.2 308.0,209.8 308.1,210.8 308.2,210.7 308.3,212.0 308.4,212.0 308.5,212.5 308.6,212.2 308.7,213.7 308.8,213.1 308.9,213.8 309.0,213.8 309.1,214.3 309.2,213.9 309.3,214.8 309.4,215.2 309.5,214.7 309.6,216.1 309.7,215.3 309.8,215.8 309.9,216.0 310.0,217.2 310.1,216.5 310.2,216.8 310.3,217.4 310.4,217.5 310.5,218.2 310.6,217.6 310.7,217.6 310.8,217.7 310.9,217.8 311.0,218.6 311.1,218.6 311.2,218.2 311.3,218.2 311.4,217.1 311.5,218.6 311.6,218.3 311.7,216.9 311.8,217.6 311.9,217.8 312.0,218.5 312.1,217.9 312.2,218.3 312.3,218.5 312.4,218.1 312.5,217.3 312.6,217.1 312.7,217.7 312.8,218.2 312.9,218.1 313.0,217.3 313.1,218.4 313.2,217.7 313.3,218.0 313.4,218.8 313.5,218.5 313.6,218.2 313.7,218.2 313.8,218.6 313.9,218.8 314.0,218.6 314.1,218.3 314.2,218.9 314.3,219.0 314.4,218.0 314.5,218.9 314.6,218.3 314.7,218.5 314.8,219.1 314.9,218.0 315.0,218.6 315.1,219.6 315.2,219.5 315.3,218.5 315.4,218.3 315.5,219.4 315.6,218.9 315.7,218.9 315.8,218.0 315.9,218.8 316.0,218.0 316.1,218.6 316.2,219.6 316.3,219.3 316.4,219.5 316.5,218.8 316.6,218.9 316.7,218.5 316.8,219.7 316.9,218.5 317.0,218.0 317.1,218.5 317.2,219.3 317.3,218.6 317.4,219.0 317.5,218.3 317.6,218.7 317.7,218.5 317.8,218.6 317.9,219.1 318.0,219.5 318.1,220.1 318.2,219.4 318.3,218.5 318.4,218.4 318.5,218.0 318.6,218.6 318.7,218.0 318.8,218.2 318.9,217.7 319.0,218.9 319.1,217.8 319.2,218.3 319.3,217.7 319.4,219.0 319.5,217.1 319.6,218.1 319.7,218.6 319.8,217.9 319.9,218.5 320.0,218.1 320.1,218.8 320.2,218.4 320.3,219.3 320.4,217.8 320.5,219.0 320.6,218.4 320.7,218.4 320.8,218.9 320.9,218.2 321.0,218.1 321.1,218.6 321.2,217.6 321.3,217.9 321.4,218.4 321.5,217.3 321.6,218.2 321.7,216.8 321.8,217.3 321.9,217.1 322.0,216.1 322.1,217.1 322.2,215.9 322.3,217.2 322.4,217.2 322.5,216.1 322.6,216.5 322.7,216.4 322.8,215.9 322.9,216.3 323.0,216.9 323.1,217.0 323.2,217.8 323.3,217.0 323.4,217.1 323.5,217.7 323.6,217.8 323.7,217.3 323.8,217.5 323.9,217.0 324.0,217.1 324.1,216.1 324.2,216.2 324.3,217.5 324.4,216.7 324.5,216.5 324.6,217.4 324.7,218.3 324.8,217.9 324.9,217.8 325.0,217.7 325.1,218.8 325.2,218.9 325.3,218.3 325.4,218.1 325.5,218.4 325.6,218.7 325.7,218.5 325.8,218.4 325.9,218.5 326.0,218.2 326.1,218.8 326.2,219.2 326.3,218.5 326.4,218.7 326.5,219.7 326.6,218.8 326.7,219.4 326.8,218.7 326.9,218.3 327.0,219.4 327.1,219.6 327.2,219.4 327.3,219.3 327.4,220.1 327.5,219.3 327.6,219.1 327.7,219.7 327.8,220.1 327.9,219.7 328.0,220.0 328.1,220.2 328.2,219.0 328.3,219.2 328.4,219.0 328.5,219.4 328.6,218.2 328.7,219.4 328.8,218.3 328.9,219.2 329.0,218.9 329.1,219.0 329.2,219.6 329.3,218.8 329.4,219.9 329.5,219.5 329.6,219.1 329.7,220.4 329.8,219.3 329.9,220.3 330.0,219.8 330.1,219.9 330.2,220.7 330.3,220.2 330.4,220.0 330.5,220.5 330.6,219.9 330.7,220.9 330.8,219.8 330.9,220.3 331.0,219.7 331.1,220.3 331.2,219.4 331.3,219.7 331.4,220.0 331.5,218.9 331.6,219.3 331.7,219.5 331.8,219.0 331.9,219.1 332.0,219.6 332.1,219.7 332.2,218.6 332.3,219.0 332.4,218.3 332.5,219.6 332.6,220.1 332.7,219.4 332.8,219.3 332.9,220.1 333.0,219.7 333.1,220.9 333.2,220.6 333.3,218.9 333.4,220.2 333.5,220.2 333.6,220.2 333.7,219.8 333.8,219.1 333.9,220.0 334.0,219.7 334.1,220.9 334.2,220.4 334.3,220.8 334.4,219.7 334.5,220.3 334.6,220.2 334.7,219.9 334.8,220.1 334.9,219.6 335.0,220.4 335.1,219.9 335.2,220.4 335.3,220.5 335.4,220.2 335.5,220.0 335.6,220.7 335.7,220.7 335.8,220.0 335.9,220.6 336.0,218.7 336.1,219.9 336.2,220.0 336.3,219.6 336.4,218.6 336.5,219.4 336.6,219.7 336.7,219.4 336.8,218.5 336.9,219.2 337.0,220.1 337.1,219.9 337.2,220.1 337.3,219.4 337.4,219.9 337.5,219.6 337.6,219.6 337.7,219.2 337.8,219.7 337.9,220.2 338.0,219.8 338.1,218.8 338.2,220.0 338.3,219.1 338.4,219.9 338.5,219.3 338.6,220.4 338.7,219.6 338.8,220.2 338.9,219.0 339.0,219.7 339.1,219.9 339.2,219.2 339.3,219.7 339.4,219.8 339.5,220.3 339.6,220.3 339.7,219.6 339.8,221.1 339.9,221.0 340.0,220.5 340.1,221.4 340.2,220.8 340.3,220.7 340.4,220.4 340.5,219.7 340.6,221.1 340.7,221.5 340.8,221.1 340.9,221.0 341.0,221.5 341.1,219.7 341.2,220.7 341.3,221.2 341.4,220.2 341.5,221.2 341.6,220.2 341.7,220.2 341.8,219.6 341.9,221.0 342.0,221.2 342.1,221.2 342.2,221.0 342.3,221.3 342.4,220.8 342.5,220.0 342.6,221.0 342.7,221.0 342.8,222.0 342.9,220.3 343.0,220.5 343.1,219.4 343.2,219.3 343.3,219.5 343.4,220.7 343.5,220.0 343.6,219.9 343.7,219.6 343.8,219.9 343.9,220.2 344.0,220.0 344.1,219.7 344.2,219.9 344.3,220.0 344.4,220.2 344.5,220.1 344.6,219.9 344.7,219.4 344.8,220.2 344.9,220.2 345.0,220.2 345.1,220.0 345.2,219.7 345.3,220.7 345.4,219.9 345.5,220.1 345.6,219.9 345.7,219.4 345.8,220.3 345.9,219.2 346.0,219.9 346.1,219.6 346.2,219.7 346.3,219.1 346.4,220.0 346.5,220.1 346.6,219.7 346.7,219.0 346.8,218.5 346.9,220.1 347.0,218.0 347.1,218.3 347.2,219.0 347.3,219.0 347.4,218.1 347.5,218.8 347.6,217.8 347.7,218.8 347.8,218.6 347.9,218.4 348.0,218.9 348.1,218.6 348.2,217.2 348.3,218.8 348.4,218.6 348.5,218.9 348.6,218.3 348.7,218.8 348.8,218.2 348.9,218.5 349.0,218.7 349.1,218.0 349.2,217.9 349.3,218.3 349.4,218.7 349.5,218.5 349.6,218.5 349.7,218.8 349.8,218.7 349.9,218.1 350.0,219.4 350.1,219.5 350.2,219.5 350.3,218.2 350.4,219.7 350.5,218.5 350.6,219.1 350.7,219.0 350.8,219.9 350.9,219.5 351.0,219.0 351.1,219.2 351.2,218.6 351.3,218.3 351.4,219.2 351.5,219.2 351.6,218.8 351.7,219.5 351.8,219.6 351.9,218.5 352.0,218.9 352.1,219.1 352.2,217.9 352.3,219.5 352.4,219.5 352.5,219.3 352.6,219.2 352.7,219.2 352.8,220.2 352.9,219.3 353.0,219.9 353.1,219.8 353.2,220.6 353.3,220.8 353.4,220.3 353.5,220.3 353.6,219.8 353.7,219.9 353.8,220.7 353.9,220.7 354.0,220.5 354.1,219.9 354.2,219.9 354.3,218.9 354.4,220.1 354.5,218.9 354.6,219.1 354.7,219.4 354.8,220.3 354.9,219.2 355.0,220.0 355.1,220.6 355.2,220.0 355.3,219.9 355.4,219.0 355.5,219.4 355.6,218.7 355.7,219.9 355.8,219.9 355.9,220.4 356.0,219.8 356.1,220.0 356.2,219.5 356.3,220.2 356.4,220.7 356.5,220.4 356.6,220.6 356.7,220.4 356.8,220.6 356.9,220.5 357.0,220.1 357.1,220.5 357.2,220.9 357.3,220.7"/>
<polyline fill="none" stroke="#1c34f4" stroke-width="1.7" stroke-linejoin="round" points="36.0,150.7 36.1,151.1 36.2,151.0 36.3,151.7 36.4,150.0 36.5,151.7 36.6,151.0 36.7,152.4 36.8,152.0 36.9,151.5 37.0,152.5 37.1,149.9 37.2,151.3 37.3,152.0 37.4,150.7 37.5,149.9 37.6,150.6 37.7,150.4 37.8,150.6 37.9,150.4 38.0,149.4 38.1,150.2 38.2,150.2 38.3,149.2 38.4,150.2 38.5,151.0 38.6,151.4 38.7,151.2 38.8,151.5 38.9,151.8 39.0,149.8 39.1,150.6 39.2,151.4 39.3,151.6 39.4,151.3 39.5,151.3 39.6,150.5 39.7,149.9 39.8,150.3 39.9,151.5 40.0,151.8 40.1,151.4 40.2,150.9 40.3,151.0 40.4,151.3 40.5,150.0 40.6,150.5 40.7,151.1 40.8,150.8 40.9,150.8 41.0,151.7 41.1,151.6 41.2,152.2 41.3,150.9 41.4,151.1 41.5,150.8 41.6,152.3 41.7,151.0 41.8,150.5 41.9,151.1 42.0,151.4 42.1,151.5 42.2,151.0 42.3,151.1 42.4,151.9 42.5,151.7 42.6,150.8 42.7,150.3 42.8,150.1 42.9,151.9 43.0,151.8 43.1,151.2 43.2,151.6 43.3,149.6 43.4,152.0 43.5,150.3 43.6,151.3 43.7,150.3 43.8,150.4 43.9,150.8 44.0,151.6 44.1,151.9 44.2,151.8 44.3,150.8 44.4,151.7 44.5,151.5 44.6,152.0 44.7,152.5 44.8,150.7 44.9,152.4 45.0,151.0 45.1,150.2 45.2,150.5 45.3,149.4 45.4,149.6 45.5,149.2 45.6,149.2 45.7,149.1 45.8,149.1 45.9,148.3 46.0,147.7 46.1,148.1 46.2,146.9 46.3,145.0 46.4,145.0 46.5,145.0 46.6,145.4 46.7,144.6 46.8,142.6 46.9,143.3 47.0,141.9 47.1,140.8 47.2,140.2 47.3,139.1 47.4,137.7 47.5,135.9 47.6,136.4 47.7,135.7 47.8,136.2 47.9,136.6 48.0,135.0 48.1,135.7 48.2,136.9 48.3,137.8 48.4,138.4 48.5,138.0 48.6,141.0 48.7,141.3 48.8,141.8 48.9,144.5 49.0,145.4 49.1,145.4 49.2,146.9 49.3,147.4 49.4,148.3 49.5,148.7 49.6,150.1 49.7,149.7 49.8,150.1 49.9,150.9 50.0,151.3 50.1,152.2 50.2,151.9 50.3,152.4 50.4,152.7 50.5,151.5 50.6,153.1 50.7,153.8 50.8,154.2 50.9,152.8 51.0,153.1 51.1,153.7 51.2,155.0 51.3,154.0 51.4,153.2 51.5,154.2 51.6,152.8 51.7,154.1 51.8,153.9 51.9,153.2 52.0,155.4 52.1,153.3 52.2,154.3 52.3,154.4 52.4,154.0 52.5,154.2 52.6,154.3 52.7,154.0 52.8,155.2 52.9,155.9 53.0,156.0 53.1,154.9 53.2,154.6 53.3,156.0 53.4,154.4 53.5,155.4 53.6,155.4 53.7,154.9 53.8,156.1 53.9,154.2 54.0,154.7 54.1,154.9 54.2,154.4 54.3,155.0 54.4,154.7 54.5,155.0 54.6,154.1 54.7,154.8 54.8,154.5 54.9,154.2 55.0,155.1 55.1,153.3 55.2,155.4 55.3,156.3 55.4,155.2 55.5,156.0 55.6,154.8 55.7,155.6 55.8,156.0 55.9,156.5 56.0,154.7 56.1,155.3 56.2,154.5 56.3,155.0 56.4,156.5 56.5,156.0 56.6,156.1 56.7,156.7 56.8,156.6 56.9,154.9 57.0,156.3 57.1,156.0 57.2,156.4 57.3,156.3 57.4,155.7 57.5,156.9 57.6,155.6 57.7,156.3 57.8,156.7 57.9,156.2 58.0,156.2 58.1,155.2 58.2,156.2 58.3,154.6 58.4,155.4 58.5,155.5 58.6,155.9 58.7,155.6 58.8,156.3 58.9,155.8 59.0,155.7 59.1,155.0 59.2,155.3 59.3,155.5 59.4,155.4 59.5,155.6 59.6,155.1 59.7,155.2 59.8,156.1 59.9,156.6 60.0,156.8 60.1,156.0 60.2,156.7 60.3,157.1 60.4,156.4 60.5,156.7 60.6,157.3 60.7,157.6 60.8,157.5 60.9,157.4 61.0,158.0 61.1,157.4 61.2,156.9 61.3,157.0 61.4,155.6 61.5,156.9 61.6,155.4 61.7,156.4 61.8,156.0 61.9,156.6 62.0,155.2 62.1,155.4 62.2,156.0 62.3,155.9 62.4,154.6 62.5,156.3 62.6,155.3 62.7,155.9 62.8,155.6 62.9,155.8 63.0,155.9 63.1,155.5 63.2,156.2 63.3,157.5 63.4,156.1 63.5,157.5 63.6,157.3 63.7,156.9 63.8,156.7 63.9,157.8 64.0,156.4 64.1,156.8 64.2,156.2 64.3,157.2 64.4,155.0 64.5,155.7 64.6,155.5 64.7,156.3 64.8,155.6 64.9,157.0 65.0,156.8 65.1,156.0 65.2,155.6 65.3,156.9 65.4,156.1 65.5,156.4 65.6,157.8 65.7,158.3 65.8,158.6 65.9,157.1 66.0,157.4 66.1,156.9 66.2,156.7 66.3,156.6 66.4,157.8 66.5,157.2 66.6,156.6 66.7,155.5 66.8,155.9 66.9,156.2 67.0,155.7 67.1,155.3 67.2,155.3 67.3,155.2 67.4,155.1 67.5,155.3 67.6,154.9 67.7,155.9 67.8,155.2 67.9,156.3 68.0,156.7 68.1,156.7 68.2,155.9 68.3,156.3 68.4,157.0 68.5,156.0 68.6,155.9 68.7,156.5 68.8,155.9 68.9,156.6 69.0,155.5 69.1,156.7 69.2,155.3 69.3,156.1 69.4,156.4 69.5,155.8 69.6,154.9 69.7,154.7 69.8,154.9 69.9,154.3 70.0,152.8 70.1,152.8 70.2,152.4 70.3,152.6 70.4,151.0 70.5,150.7 70.6,150.5 70.7,149.5 70.8,148.7 70.9,147.9 71.0,147.8 71.1,147.0 71.2,145.3 71.3,144.6 71.4,144.4 71.5,143.1 71.6,142.4 71.7,142.4 71.8,140.8 71.9,140.3 72.0,139.7 72.1,138.2 72.2,137.7 72.3,137.3 72.4,137.0 72.5,136.0 72.6,134.7 72.7,135.7 72.8,136.1 72.9,136.6 73.0,137.1 73.1,138.4 73.2,139.2 73.3,140.5 73.4,140.9 73.5,142.1 73.6,143.1 73.7,144.3 73.8,144.2 73.9,145.2 74.0,147.0 74.1,147.7 74.2,148.0 74.3,149.2 74.4,149.9 74.5,150.5 74.6,151.3 74.7,152.0 74.8,151.9 74.9,153.6 75.0,153.0 75.1,153.3 75.2,154.3 75.3,154.3 75.4,155.0 75.5,154.8 75.6,155.9 75.7,155.5 75.8,155.7 75.9,155.8 76.0,155.7 76.1,155.9 76.2,157.1 76.3,157.1 76.4,155.9 76.5,156.8 76.6,156.7 76.7,156.9 76.8,155.9 76.9,156.8 77.0,156.4 77.1,156.3 77.2,155.9 77.3,157.4 77.4,155.4 77.5,155.2 77.6,156.1 77.7,155.9 77.8,155.9 77.9,156.0 78.0,155.1 78.1,155.4 78.2,156.1 78.3,156.7 78.4,155.9 78.5,156.0 78.6,157.0 78.7,156.0 78.8,154.9 78.9,156.3 79.0,156.4 79.1,156.2 79.2,157.2 79.3,157.0 79.4,155.6 79.5,156.4 79.6,156.4 79.7,157.3 79.8,157.4 79.9,156.9 80.0,157.0 80.1,156.2 80.2,156.8 80.3,156.4 80.4,155.9 80.5,156.6 80.6,156.1 80.7,156.5 80.8,156.3 80.9,156.2 81.0,156.3 81.1,156.0 81.2,156.8 81.3,156.1 81.4,156.7 81.5,156.5 81.6,156.0 81.7,156.5 81.8,156.2 81.9,156.9 82.0,156.4 82.1,156.5 82.2,156.3 82.3,157.1 82.4,156.6 82.5,156.4 82.6,155.8 82.7,157.4 82.8,156.9 82.9,157.0 83.0,156.7 83.1,156.8 83.2,156.0 83.3,156.1 83.4,156.4 83.5,156.5 83.6,156.2 83.7,155.9 83.8,154.7 83.9,156.2 84.0,155.8 84.1,155.7 84.2,155.4 84.3,155.9 84.4,156.4 84.5,156.4 84.6,155.7 84.7,155.9 84.8,156.7 84.9,156.2 85.0,156.5 85.1,157.3 85.2,157.2 85.3,156.3 85.4,155.7 85.5,156.7 85.6,157.1 85.7,157.7 85.8,157.5 85.9,157.3 86.0,157.1 86.1,157.0 86.2,157.0 86.3,156.7 86.4,157.1 86.5,158.4 86.6,157.3 86.7,157.3 86.8,156.3 86.9,156.0 87.0,157.2 87.1,157.0 87.2,157.1 87.3,157.0 87.4,156.6 87.5,156.7 87.6,156.5 87.7,156.7 87.8,157.1 87.9,155.9 88.0,157.1 88.1,156.7 88.2,156.7 88.3,157.7 88.4,157.0 88.5,157.7 88.6,157.1 88.7,157.1 88.8,158.3 88.9,157.9 89.0,158.0 89.1,157.2 89.2,158.1 89.3,158.0 89.4,157.3 89.5,156.9 89.6,157.7 89.7,158.3 89.8,157.5 89.9,156.4 90.0,157.3 90.1,157.1 90.2,157.2 90.3,157.6 90.4,158.1 90.5,157.1 90.6,157.9 90.7,157.5 90.8,157.3 90.9,158.2 91.0,157.0 91.1,157.7 91.2,157.1 91.3,157.1 91.4,157.2 91.5,157.1 91.6,156.6 91.7,156.9 91.8,156.7 91.9,157.5 92.0,157.5 92.1,158.5 92.2,157.2 92.3,157.4 92.4,158.3 92.5,157.3 92.6,157.4 92.7,158.3 92.8,157.3 92.9,157.4 93.0,157.7 93.1,157.8 93.2,157.1 93.3,157.3 93.4,156.1 93.5,156.2 93.6,156.9 93.7,156.0 93.8,156.2 93.9,157.0 94.0,156.3 94.1,157.2 94.2,156.7 94.3,157.8 94.4,156.8 94.5,156.0 94.6,156.2 94.7,157.3 94.8,156.9 94.9,157.4 95.0,157.1 95.1,157.6 95.2,156.7 95.3,157.1 95.4,158.1 95.5,157.2 95.6,156.9 95.7,157.2 95.8,156.6 95.9,155.9 96.0,156.1 96.1,155.6 96.2,156.2 96.3,156.2 96.4,155.1 96.5,156.1 96.6,156.6 96.7,155.7 96.8,157.4 96.9,156.4 97.0,157.2 97.1,156.3 97.2,156.7 97.3,157.3 97.4,157.3 97.5,157.2 97.6,156.7 97.7,158.4 97.8,157.8 97.9,158.6 98.0,158.3 98.1,157.8 98.2,158.0 98.3,157.9 98.4,156.9 98.5,158.1 98.6,157.6 98.7,157.4 98.8,157.6 98.9,157.0 99.0,156.8 99.1,157.0 99.2,157.7 99.3,156.6 99.4,157.9 99.5,157.8 99.6,158.1 99.7,157.9 99.8,157.3 99.9,158.4 100.0,158.3 100.1,159.5 100.2,158.0 100.3,158.6 100.4,157.9 100.5,158.2 100.6,158.6 100.7,158.2 100.8,157.7 100.9,158.5 101.0,158.0 101.1,158.6 101.2,158.2 101.3,158.8 101.4,158.3 101.5,158.6 101.6,158.0 101.7,158.4 101.8,158.9 101.9,158.8 102.0,159.2 102.1,159.2 102.2,158.7 102.3,159.4 102.4,158.3 102.5,158.1 102.6,158.4 102.7,158.3 102.8,158.2 102.9,158.4 103.0,157.6 103.1,159.0 103.2,159.0 103.3,158.1 103.4,157.8 103.5,158.2 103.6,158.1 103.7,158.8 103.8,158.6 103.9,158.2 104.0,158.5 104.1,158.4 104.2,157.9 104.3,158.0 104.4,158.0 104.5,157.9 104.6,157.4 104.7,156.6 104.8,157.4 104.9,156.3 105.0,156.9 105.1,156.4 105.2,156.4 105.3,157.3 105.4,156.3 105.5,156.2 105.6,156.9 105.7,156.1 105.8,156.3 105.9,156.4 106.0,156.6 106.1,157.0 106.2,156.2 106.3,155.2 106.4,155.9 106.5,155.6 106.6,154.2 106.7,154.2 106.8,154.1 106.9,153.3 107.0,152.3 107.1,151.9 107.2,153.4 107.3,151.7 107.4,152.3 107.5,153.2 107.6,153.4 107.7,155.0 107.8,154.6 107.9,155.8 108.0,155.1 108.1,155.1 108.2,156.4 108.3,156.9 108.4,156.9 108.5,156.9 108.6,157.8 108.7,157.4 108.8,156.9 108.9,157.7 109.0,157.1 109.1,157.0 109.2,158.0 109.3,158.2 109.4,157.2 109.5,156.9 109.6,157.2 109.7,157.7 109.8,156.2 109.9,156.7 110.0,156.4 110.1,157.8 110.2,157.1 110.3,156.7 110.4,157.7 110.5,157.4 110.6,156.6 110.7,157.0 110.8,157.2 110.9,156.3 111.0,157.0 111.1,156.5 111.2,157.1 111.3,156.7 111.4,156.8 111.5,157.4 111.6,156.6 111.7,157.1 111.8,157.6 111.9,158.4 112.0,157.5 112.1,158.0 112.2,158.0 112.3,157.7 112.4,157.9 112.5,158.2 112.6,157.9 112.7,159.0 112.8,157.5 112.9,157.1 113.0,157.9 113.1,156.9 113.2,157.8 113.3,157.1 113.4,156.2 113.5,157.0 113.6,157.4 113.7,156.2 113.8,156.3 113.9,156.2 114.0,156.7 114.1,155.7 114.2,155.8 114.3,155.5 114.4,155.7 114.5,155.9 114.6,155.5 114.7,156.5 114.8,156.5 114.9,156.4 115.0,156.8 115.1,156.3 115.2,156.9 115.3,156.2 115.4,156.0 115.5,155.5 115.6,156.5 115.7,155.5 115.8,156.1 115.9,155.5 116.0,155.4 116.1,156.4 116.2,155.4 116.3,156.2 116.4,155.3 116.5,155.7 116.6,154.7 116.7,154.5 116.8,155.7 116.9,155.2 117.0,154.5 117.1,154.4 117.2,154.5 117.3,155.0 117.4,155.6 117.5,154.3 117.6,153.7 117.7,153.8 117.8,154.1 117.9,152.9 118.0,152.6 118.1,152.5 118.2,152.2 118.3,152.6 118.4,150.7 118.5,150.5 118.6,150.5 118.7,149.9 118.8,149.8 118.9,147.7 119.0,147.1 119.1,147.1 119.2,146.0 119.3,144.5 119.4,144.7 119.5,142.9 119.6,142.1 119.7,140.6 119.8,138.9 119.9,138.5 120.0,137.9 120.1,135.4 120.2,134.2 120.3,133.0 120.4,130.7 120.5,129.7 120.6,128.7 120.7,126.1 120.8,125.2 120.9,124.7 121.0,122.5 121.1,121.5 121.2,121.1 121.3,121.1 121.4,121.2 121.5,120.7 121.6,122.8 121.7,121.8 121.8,122.4 121.9,124.2 122.0,126.0 122.1,126.8 122.2,128.5 122.3,129.9 122.4,130.9 122.5,133.1 122.6,133.9 122.7,136.0 122.8,137.3 122.9,139.1 123.0,139.1 123.1,140.8 123.2,141.4 123.3,143.4 123.4,143.6 123.5,144.5 123.6,145.6 123.7,146.4 123.8,147.8 123.9,147.6 124.0,149.1 124.1,149.2 124.2,149.8 124.3,150.0 124.4,150.1 124.5,151.7 124.6,151.2 124.7,152.7 124.8,152.2 124.9,152.3 125.0,152.0 125.1,152.1 125.2,152.8 125.3,153.0 125.4,154.2 125.5,153.5 125.6,154.6 125.7,152.8 125.8,154.5 125.9,154.3 126.0,154.0 126.1,154.6 126.2,155.0 126.3,154.7 126.4,154.9 126.5,155.9 126.6,155.6 126.7,155.5 126.8,155.3 126.9,155.6 127.0,156.2 127.1,155.9 127.2,156.0 127.3,156.1 127.4,155.6 127.5,156.7 127.6,155.8 127.7,156.3 127.8,156.9 127.9,156.0 128.0,157.1 128.1,156.8 128.2,157.1 128.3,156.3 128.4,156.6 128.5,158.0 128.6,157.4 128.7,156.5 128.8,157.4 128.9,157.1 129.0,157.8 129.1,157.5 129.2,157.3 129.3,157.4 129.4,157.6 129.5,158.0 129.6,158.5 129.7,158.5 129.8,157.7 129.9,158.9 130.0,159.1 130.1,157.9 130.2,158.1 130.3,158.4 130.4,157.6 130.5,158.6 130.6,158.1 130.7,157.6 130.8,158.0 130.9,157.9 131.0,157.3 131.1,156.9 131.2,158.2 131.3,159.2 131.4,158.4 131.5,158.8 131.6,158.3 131.7,158.2 131.8,158.6 131.9,157.8 132.0,158.4 132.1,158.2 132.2,158.2 132.3,157.8 132.4,158.5 132.5,157.0 132.6,158.4 132.7,157.9 132.8,158.5 132.9,157.8 133.0,157.7 133.1,158.0 133.2,157.9 133.3,158.6 133.4,158.2 133.5,158.6 133.6,159.3 133.7,159.1 133.8,160.3 133.9,159.4 134.0,160.4 134.1,159.6 134.2,159.8 134.3,159.6 134.4,159.2 134.5,159.8 134.6,159.1 134.7,159.0 134.8,158.9 134.9,159.6 135.0,159.4 135.1,158.3 135.2,158.9 135.3,158.6 135.4,159.0 135.5,158.6 135.6,158.2 135.7,159.0 135.8,159.2 135.9,159.7 136.0,158.5 136.1,160.2 136.2,159.8 136.3,159.2 136.4,158.8 136.5,159.8 136.6,159.4 136.7,159.5 136.8,158.5 136.9,158.8 137.0,159.3 137.1,158.7 137.2,159.7 137.3,157.6 137.4,159.4 137.5,159.2 137.6,160.2 137.7,160.3 137.8,160.2 137.9,160.5 138.0,159.5 138.1,160.2 138.2,160.6 138.3,160.6 138.4,161.0 138.5,159.9 138.6,160.7 138.7,160.7 138.8,161.2 138.9,160.8 139.0,159.2 139.1,160.1 139.2,159.5 139.3,159.6 139.4,160.1 139.5,159.3 139.6,159.8 139.7,160.0 139.8,160.1 139.9,159.9 140.0,159.3 140.1,159.6 140.2,159.3 140.3,160.4 140.4,159.1 140.5,158.8 140.6,159.3 140.7,159.5 140.8,158.9 140.9,159.6 141.0,158.6 141.1,159.3 141.2,158.4 141.3,158.6 141.4,159.0 141.5,158.4 141.6,159.5 141.7,159.3 141.8,158.5 141.9,158.9 142.0,159.6 142.1,158.6 142.2,158.3 142.3,158.3 142.4,158.9 142.5,158.4 142.6,159.0 142.7,158.4 142.8,159.6 142.9,159.4 143.0,159.8 143.1,159.7 143.2,159.7 143.3,159.7 143.4,159.7 143.5,159.5 143.6,159.6 143.7,160.7 143.8,159.4 143.9,159.6 144.0,159.7 144.1,159.5 144.2,159.4 144.3,159.6 144.4,159.6 144.5,159.4 144.6,159.4 144.7,159.6 144.8,159.8 144.9,160.7 145.0,160.8 145.1,159.7 145.2,160.1 145.3,160.5 145.4,159.6 145.5,159.2 145.6,160.5 145.7,159.4 145.8,160.2 145.9,160.2 146.0,159.9 146.1,159.9 146.2,159.1 146.3,160.2 146.4,159.9 146.5,159.6 146.6,158.9 146.7,160.2 146.8,158.8 146.9,159.4 147.0,159.6 147.1,158.7 147.2,159.3 147.3,158.9 147.4,158.4 147.5,158.9 147.6,158.7 147.7,158.7 147.8,158.9 147.9,159.3 148.0,158.9 148.1,158.6 148.2,158.7 148.3,158.9 148.4,158.3 148.5,158.8 148.6,158.5 148.7,158.7 148.8,159.7 148.9,159.4 149.0,159.8 149.1,159.4 149.2,159.1 149.3,159.4 149.4,158.6 149.5,159.5 149.6,160.1 149.7,159.1 149.8,159.7 149.9,159.3 150.0,159.2 150.1,159.4 150.2,159.6 150.3,158.1 150.4,159.1 150.5,158.5 150.6,159.0 150.7,158.6 150.8,158.7 150.9,158.6 151.0,158.8 151.1,158.7 151.2,158.4 151.3,158.1 151.4,159.1 151.5,157.2 151.6,158.2 151.7,157.1 151.8,157.1 151.9,157.1 152.0,156.8 152.1,156.7 152.2,156.3 152.3,157.3 152.4,156.9 152.5,157.1 152.6,157.2 152.7,156.3 152.8,157.1 152.9,157.1 153.0,156.9 153.1,158.2 153.2,157.7 153.3,157.9 153.4,157.4 153.5,157.6 153.6,157.9 153.7,157.8 153.8,157.8 153.9,157.7 154.0,158.3 154.1,157.7 154.2,157.5 154.3,157.5 154.4,157.6 154.5,157.5 154.6,157.2 154.7,157.1 154.8,157.0 154.9,157.5 155.0,157.6 155.1,157.2 155.2,157.6 155.3,156.9 155.4,156.8 155.5,156.7 155.6,155.9 155.7,156.4 155.8,156.8 155.9,156.3 156.0,155.5 156.1,156.2 156.2,154.8 156.3,154.9 156.4,154.7 156.5,154.6 156.6,154.0 156.7,154.8 156.8,154.8 156.9,153.6 157.0,153.8 157.1,151.6 157.2,153.1 157.3,152.1 157.4,152.8 157.5,151.7 157.6,151.0 157.7,151.0 157.8,150.8 157.9,150.8 158.0,150.0 158.1,151.2 158.2,150.6 158.3,150.1 158.4,149.8 158.5,150.4 158.6,150.0 158.7,149.4 158.8,149.4 158.9,149.5 159.0,150.1 159.1,148.9 159.2,149.3 159.3,149.4 159.4,148.0 159.5,147.8 159.6,147.9 159.7,147.4 159.8,146.5 159.9,145.7 160.0,144.7 160.1,143.4 160.2,141.5 160.3,140.7 160.4,139.2 160.5,137.3 160.6,134.9 160.7,132.0 160.8,130.3 160.9,127.9 161.0,124.7 161.1,121.9 161.2,120.5 161.3,116.3 161.4,114.8 161.5,112.5 161.6,111.2 161.7,109.5 161.8,109.0 161.9,110.0 162.0,109.7 162.1,112.0 162.2,113.8 162.3,116.6 162.4,119.7 162.5,122.8 162.6,125.5 162.7,128.5 162.8,131.1 162.9,133.8 163.0,136.7 163.1,138.5 163.2,141.4 163.3,142.5 163.4,144.6 163.5,145.3 163.6,146.8 163.7,148.3 163.8,149.6 163.9,151.1 164.0,151.2 164.1,152.0 164.2,152.9 164.3,152.5 164.4,153.2 164.5,153.7 164.6,154.3 164.7,154.8 164.8,154.4 164.9,155.0 165.0,155.6 165.1,155.1 165.2,155.3 165.3,155.7 165.4,154.5 165.5,155.2 165.6,156.7 165.7,156.0 165.8,155.8 165.9,155.7 166.0,156.5 166.1,156.9 166.2,157.4 166.3,156.5 166.4,156.8 166.5,157.0 166.6,156.9 166.7,157.5 166.8,156.9 166.9,156.9 167.0,156.9 167.1,156.8 167.2,157.2 167.3,156.1 167.4,155.9 167.5,156.1 167.6,155.3 167.7,155.7 167.8,155.5 167.9,155.2 168.0,154.8 168.1,154.5 168.2,155.3 168.3,154.5 168.4,155.7 168.5,156.5 168.6,156.2 168.7,157.2 168.8,156.3 168.9,157.7 169.0,158.3 169.1,157.8 169.2,157.8 169.3,159.3 169.4,159.1 169.5,158.3 169.6,159.7 169.7,159.3 169.8,158.9 169.9,159.2 170.0,158.8 170.1,159.4 170.2,159.1 170.3,159.4 170.4,158.4 170.5,158.8 170.6,158.9 170.7,159.2 170.8,159.9 170.9,159.0 171.0,158.9 171.1,159.2 171.2,159.6 171.3,159.2 171.4,159.2 171.5,159.8 171.6,158.7 171.7,159.1 171.8,159.7 171.9,160.4 172.0,160.3 172.1,160.4 172.2,160.4 172.3,160.2 172.4,160.1 172.5,160.8 172.6,159.1 172.7,160.0 172.8,160.1 172.9,159.7 173.0,159.8 173.1,159.7 173.2,159.2 173.3,160.0 173.4,158.9 173.5,159.1 173.6,158.7 173.7,158.5 173.8,158.7 173.9,159.6 174.0,158.5 174.1,159.6 174.2,159.1 174.3,158.6 174.4,158.8 174.5,158.7 174.6,158.9 174.7,158.5 174.8,159.1 174.9,158.1 175.0,158.3 175.1,158.7 175.2,159.5 175.3,158.3 175.4,158.3 175.5,158.5 175.6,158.1 175.7,158.6 175.8,158.9 175.9,158.6 176.0,158.3 176.1,158.5 176.2,158.9 176.3,157.9 176.4,159.3 176.5,158.3 176.6,158.0 176.7,158.8 176.8,158.1 176.9,157.2 177.0,158.4 177.1,157.1 177.2,157.4 177.3,157.5 177.4,156.5 177.5,156.7 177.6,155.7 177.7,156.5 177.8,155.4 177.9,155.9 178.0,155.8 178.1,155.5 178.2,155.9 178.3,155.5 178.4,155.7 178.5,155.1 178.6,156.0 178.7,154.9 178.8,155.6 178.9,155.8 179.0,155.7 179.1,156.5 179.2,156.1 179.3,157.0 179.4,157.1 179.5,157.1 179.6,158.6 179.7,157.7 179.8,158.0 179.9,157.4 180.0,157.1 180.1,156.8 180.2,157.5 180.3,156.7 180.4,157.0 180.5,156.9 180.6,156.9 180.7,156.3 180.8,155.3 180.9,154.9 181.0,153.6 181.1,153.3 181.2,152.6 181.3,151.3 181.4,150.5 181.5,149.8 181.6,148.7 181.7,147.9 181.8,147.0 181.9,145.7 182.0,146.5 182.1,145.0 182.2,145.5 182.3,146.5 182.4,147.5 182.5,148.4 182.6,149.8 182.7,149.4 182.8,151.4 182.9,151.9 183.0,152.6 183.1,153.8 183.2,153.9 183.3,154.2 183.4,155.2 183.5,155.8 183.6,156.3 183.7,156.8 183.8,157.6 183.9,157.7 184.0,157.5 184.1,157.7 184.2,158.3 184.3,158.3 184.4,157.8 184.5,158.5 184.6,158.5 184.7,158.5 184.8,158.3 184.9,158.2 185.0,158.5 185.1,158.2 185.2,157.8 185.3,157.5 185.4,157.0 185.5,156.6 185.6,156.5 185.7,156.4 185.8,155.3 185.9,154.4 186.0,153.6 186.1,153.4 186.2,153.1 186.3,152.3 186.4,151.9 186.5,151.7 186.6,151.1 186.7,152.0 186.8,152.8 186.9,152.1 187.0,153.7 187.1,154.2 187.2,154.1 187.3,155.2 187.4,156.1 187.5,155.8 187.6,156.9 187.7,157.3 187.8,158.8 187.9,157.8 188.0,158.6 188.1,159.1 188.2,158.5 188.3,159.5 188.4,158.4 188.5,158.9 188.6,158.7 188.7,158.7 188.8,159.2 188.9,159.0 189.0,158.5 189.1,158.2 189.2,158.4 189.3,158.6 189.4,158.4 189.5,158.3 189.6,158.8 189.7,158.7 189.8,158.9 189.9,159.1 190.0,159.4 190.1,159.1 190.2,159.3 190.3,159.0 190.4,159.3 190.5,159.7 190.6,159.2 190.7,159.6 190.8,159.7 190.9,159.6 191.0,160.0 191.1,161.1 191.2,160.1 191.3,160.6 191.4,160.7 191.5,160.6 191.6,160.6 191.7,160.9 191.8,160.9 191.9,161.0 192.0,159.7 192.1,160.3 192.2,159.7 192.3,160.1 192.4,159.1 192.5,159.8 192.6,158.5 192.7,159.2 192.8,159.3 192.9,159.7 193.0,159.0 193.1,159.4 193.2,159.8 193.3,159.6 193.4,160.2 193.5,160.7 193.6,159.6 193.7,160.1 193.8,159.3 193.9,159.8 194.0,160.1 194.1,160.4 194.2,159.0 194.3,159.4 194.4,159.3 194.5,159.7 194.6,159.1 194.7,158.7 194.8,159.7 194.9,158.9 195.0,159.2 195.1,159.2 195.2,159.8 195.3,159.0 195.4,159.7 195.5,160.2 195.6,159.6 195.7,160.3 195.8,160.6 195.9,160.0 196.0,159.9 196.1,160.3 196.2,160.6 196.3,159.1 196.4,160.8 196.5,160.4 196.6,160.5 196.7,160.1 196.8,160.4 196.9,159.9 197.0,160.3 197.1,160.2 197.2,160.6 197.3,160.5 197.4,160.4 197.5,161.4 197.6,160.8 197.7,159.9 197.8,160.8 197.9,160.7 198.0,159.7 198.1,160.7 198.2,160.8 198.3,160.3 198.4,159.8 198.5,159.5 198.6,160.1 198.7,160.4 198.8,160.1 198.9,159.7 199.0,160.3 199.1,160.7 199.2,160.4 199.3,159.8 199.4,160.5 199.5,160.7 199.6,160.4 199.7,160.6 199.8,160.7 199.9,160.4 200.0,160.3 200.1,160.3 200.2,159.5 200.3,160.7 200.4,160.3 200.5,160.0 200.6,160.3 200.7,159.8 200.8,159.1 200.9,158.7 201.0,159.4 201.1,158.4 201.2,160.3 201.3,160.4 201.4,159.8 201.5,158.3 201.6,159.4 201.7,158.6 201.8,159.0 201.9,159.5 202.0,159.0 202.1,159.3 202.2,159.0 202.3,159.8 202.4,159.4 202.5,158.8 202.6,158.8 202.7,159.5 202.8,159.7 202.9,159.8 203.0,160.3 203.1,160.1 203.2,159.5 203.3,160.8 203.4,160.3 203.5,160.2 203.6,160.1 203.7,160.6 203.8,160.5 203.9,159.8 204.0,159.8 204.1,160.1 204.2,159.9 204.3,159.9 204.4,159.5 204.5,160.0 204.6,159.2 204.7,159.4 204.8,159.6 204.9,159.5 205.0,159.0 205.1,159.3 205.2,158.5 205.3,159.2 205.4,158.7 205.5,158.6 205.6,158.4 205.7,158.3 205.8,158.2 205.9,158.4 206.0,158.4 206.1,159.0 206.2,157.6 206.3,157.9 206.4,159.1 206.5,157.8 206.6,158.4 206.7,157.9 206.8,158.4 206.9,158.0 207.0,158.3 207.1,157.7 207.2,158.1 207.3,158.6 207.4,158.5 207.5,159.1 207.6,158.1 207.7,158.6 207.8,158.2 207.9,158.4 208.0,158.6 208.1,158.0 208.2,157.9 208.3,158.0 208.4,158.2 208.5,158.2 208.6,158.1 208.7,158.2 208.8,158.4 208.9,157.9 209.0,158.5 209.1,158.6 209.2,158.6 209.3,158.0 209.4,157.8 209.5,158.6 209.6,158.4 209.7,159.0 209.8,158.5 209.9,158.6 210.0,158.6 210.1,159.1 210.2,158.4 210.3,159.0 210.4,158.6 210.5,158.8 210.6,158.9 210.7,158.6 210.8,158.9 210.9,158.8 211.0,157.9 211.1,159.0 211.2,158.7 211.3,158.8 211.4,158.7 211.5,158.5 211.6,158.2 211.7,158.0 211.8,158.5 211.9,157.9 212.0,158.7 212.1,158.1 212.2,158.2 212.3,159.0 212.4,158.4 212.5,158.3 212.6,158.7 212.7,159.1 212.8,159.2 212.9,158.8 213.0,159.2 213.1,159.6 213.2,159.6 213.3,159.7 213.4,159.2 213.5,159.2 213.6,159.8 213.7,160.5 213.8,159.5 213.9,160.6 214.0,160.1 214.1,160.1 214.2,160.7 214.3,160.0 214.4,160.1 214.5,159.3 214.6,159.4 214.7,159.1 214.8,160.0 214.9,159.4 215.0,160.0 215.1,158.8 215.2,158.7 215.3,159.4 215.4,159.0 215.5,158.7 215.6,158.7 215.7,158.6 215.8,158.1 215.9,157.6 216.0,157.6 216.1,157.5 216.2,157.2 216.3,157.4 216.4,156.4 216.5,156.2 216.6,155.9 216.7,155.3 216.8,155.8 216.9,154.3 217.0,154.2 217.1,153.3 217.2,153.8 217.3,152.2 217.4,150.9 217.5,150.5 217.6,150.1 217.7,150.0 217.8,148.9 217.9,148.7 218.0,148.4 218.1,149.0 218.2,148.4 218.3,148.4 218.4,147.2 218.5,148.0 218.6,148.7 218.7,148.2 218.8,148.3 218.9,149.3 219.0,149.6 219.1,150.0 219.2,150.4 219.3,151.2 219.4,150.5 219.5,151.5 219.6,151.7 219.7,152.9 219.8,153.1 219.9,153.1 220.0,154.5 220.1,154.6 220.2,155.4 220.3,154.9 220.4,155.9 220.5,156.2 220.6,156.0 220.7,156.4 220.8,156.2 220.9,157.0 221.0,156.9 221.1,157.5 221.2,157.7 221.3,157.8 221.4,158.2 221.5,158.3 221.6,158.5 221.7,158.2 221.8,158.5 221.9,158.5 222.0,158.2 222.1,159.4 222.2,158.4 222.3,158.3 222.4,158.7 222.5,158.1 222.6,158.8 222.7,158.6 222.8,159.8 222.9,159.1 223.0,158.9 223.1,159.2 223.2,159.2 223.3,159.4 223.4,159.8 223.5,160.2 223.6,159.7 223.7,159.3 223.8,159.9 223.9,160.0 224.0,160.1 224.1,159.9 224.2,160.7 224.3,160.5 224.4,161.2 224.5,160.6 224.6,160.4 224.7,160.9 224.8,160.2 224.9,160.9 225.0,160.6 225.1,160.1 225.2,161.2 225.3,160.4 225.4,159.8 225.5,160.1 225.6,161.0 225.7,159.7 225.8,160.2 225.9,160.1 226.0,160.4 226.1,160.4 226.2,159.7 226.3,159.9 226.4,160.3 226.5,159.6 226.6,159.7 226.7,160.5 226.8,160.5 226.9,159.8 227.0,159.9 227.1,159.6 227.2,160.3 227.3,159.7 227.4,159.7 227.5,159.7 227.6,160.0 227.7,159.6 227.8,159.3 227.9,159.2 228.0,159.6 228.1,159.0 228.2,158.7 228.3,159.2 228.4,159.2 228.5,159.1 228.6,158.9 228.7,159.1 228.8,159.8 228.9,159.1 229.0,159.5 229.1,159.2 229.2,159.3 229.3,159.4 229.4,158.7 229.5,159.2 229.6,159.6 229.7,159.7 229.8,159.2 229.9,160.5 230.0,160.5 230.1,159.8 230.2,159.3 230.3,159.8 230.4,160.4 230.5,159.9 230.6,159.7 230.7,160.5 230.8,160.3 230.9,159.9 231.0,159.4 231.1,160.0 231.2,159.5 231.3,159.2 231.4,159.7 231.5,159.7 231.6,160.0 231.7,159.8 231.8,159.6 231.9,159.8 232.0,159.1 232.1,159.9 232.2,159.6 232.3,159.4 232.4,159.0 232.5,158.8 232.6,159.0 232.7,159.3 232.8,159.6 232.9,159.9 233.0,159.6 233.1,160.0 233.2,159.3 233.3,159.8 233.4,159.6 233.5,160.2 233.6,159.5 233.7,159.6 233.8,160.1 233.9,160.1 234.0,159.2 234.1,159.3 234.2,159.4 234.3,159.6 234.4,159.6 234.5,159.0 234.6,159.6 234.7,159.5 234.8,159.5 234.9,159.0 235.0,158.7 235.1,158.0 235.2,159.1 235.3,158.7 235.4,159.3 235.5,158.6 235.6,159.0 235.7,159.1 235.8,159.4 235.9,159.0 236.0,159.3 236.1,159.5 236.2,158.9 236.3,160.0 236.4,159.1 236.5,158.9 236.6,159.6 236.7,158.7 236.8,159.2 236.9,159.4 237.0,158.9 237.1,159.9 237.2,159.2 237.3,159.6 237.4,158.9 237.5,159.4 237.6,158.7 237.7,159.4 237.8,158.9 237.9,159.1 238.0,158.7 238.1,159.7 238.2,158.0 238.3,159.0 238.4,159.0 238.5,158.4 238.6,159.0 238.7,159.1 238.8,158.8 238.9,158.7 239.0,159.0 239.1,158.9 239.2,159.1 239.3,159.2 239.4,159.6 239.5,159.8 239.6,159.7 239.7,160.2 239.8,159.5 239.9,160.3 240.0,160.4 240.1,160.7 240.2,160.7 240.3,161.0 240.4,160.8 240.5,160.4 240.6,160.9 240.7,161.7 240.8,160.9 240.9,160.7 241.0,160.4 241.1,160.9 241.2,161.1 241.3,160.2 241.4,160.7 241.5,160.5 241.6,159.3 241.7,159.9 241.8,159.6 241.9,159.6 242.0,159.9 242.1,159.6 242.2,159.5 242.3,159.3 242.4,159.5 242.5,159.5 242.6,159.3 242.7,159.1 242.8,159.4 242.9,159.7 243.0,159.1 243.1,159.6 243.2,159.4 243.3,159.3 243.4,159.8 243.5,159.2 243.6,158.9 243.7,158.6 243.8,158.2 243.9,158.8 244.0,158.8 244.1,158.7 244.2,157.0 244.3,157.5 244.4,157.6 244.5,157.4 244.6,156.6 244.7,157.3 244.8,157.2 244.9,156.6 245.0,156.6 245.1,156.3 245.2,156.3 245.3,156.6 245.4,156.5 245.5,155.6 245.6,155.0 245.7,155.4 245.8,154.9 245.9,154.5 246.0,154.4 246.1,154.2 246.2,154.0 246.3,153.7 246.4,153.2 246.5,153.1 246.6,152.2 246.7,151.8 246.8,152.5 246.9,152.3 247.0,151.6 247.1,151.6 247.2,151.5 247.3,151.7 247.4,150.5 247.5,150.8 247.6,150.5 247.7,150.7 247.8,150.8 247.9,151.1 248.0,150.4 248.1,150.3 248.2,150.8 248.3,150.4 248.4,151.2 248.5,150.3 248.6,150.1 248.7,149.5 248.8,148.8 248.9,148.9 249.0,148.6 249.1,148.1 249.2,147.8 249.3,146.6 249.4,146.7 249.5,146.0 249.6,145.9 249.7,145.2 249.8,144.6 249.9,144.0 250.0,144.5 250.1,145.0 250.2,144.4 250.3,144.1 250.4,145.1 250.5,144.8 250.6,145.0 250.7,146.3 250.8,146.4 250.9,146.4 251.0,147.0 251.1,147.4 251.2,148.5 251.3,148.9 251.4,149.0 251.5,149.8 251.6,149.9 251.7,151.1 251.8,151.6 251.9,151.8 252.0,153.1 252.1,152.5 252.2,153.4 252.3,153.6 252.4,153.3 252.5,153.6 252.6,154.5 252.7,153.9 252.8,154.5 252.9,153.9 253.0,154.2 253.1,154.9 253.2,154.5 253.3,154.5 253.4,155.2 253.5,154.9 253.6,155.1 253.7,155.6 253.8,155.4 253.9,155.7 254.0,156.4 254.1,156.4 254.2,156.0 254.3,156.5 254.4,156.2 254.5,157.2 254.6,156.2 254.7,157.2 254.8,157.2 254.9,157.2 255.0,157.3 255.1,157.9 255.2,157.7 255.3,157.6 255.4,157.6 255.5,157.5 255.6,158.2 255.7,157.3 255.8,157.1 255.9,157.5 256.0,156.5 256.1,157.2 256.2,157.4 256.3,157.3 256.4,156.9 256.5,156.8 256.6,156.9 256.7,156.5 256.8,156.5 256.9,156.3 257.0,156.9 257.1,155.5 257.2,156.6 257.3,156.7 257.4,156.7 257.5,156.5 257.6,156.5 257.7,156.2 257.8,157.1 257.9,156.8 258.0,155.8 258.1,156.4 258.2,156.7 258.3,156.5 258.4,156.2 258.5,156.0 258.6,155.6 258.7,156.4 258.8,156.2 258.9,156.5 259.0,156.3 259.1,155.8 259.2,156.0 259.3,156.4 259.4,155.9 259.5,156.5 259.6,157.0 259.7,157.2 259.8,157.2 259.9,156.0 260.0,156.4 260.1,156.7 260.2,155.6 260.3,156.3 260.4,156.3 260.5,155.6 260.6,155.5 260.7,155.4 260.8,155.0 260.9,155.4 261.0,155.6 261.1,155.8 261.2,154.1 261.3,154.5 261.4,155.1 261.5,155.1 261.6,155.1 261.7,154.9 261.8,155.2 261.9,155.9 262.0,155.0 262.1,155.4 262.2,155.3 262.3,155.7 262.4,155.0 262.5,155.0 262.6,155.4 262.7,155.4 262.8,155.4 262.9,156.0 263.0,155.5 263.1,155.5 263.2,154.3 263.3,154.9 263.4,155.1 263.5,154.7 263.6,154.7 263.7,154.5 263.8,154.2 263.9,153.1 264.0,153.5 264.1,152.6 264.2,152.0 264.3,151.8 264.4,151.3 264.5,150.8 264.6,151.1 264.7,150.3 264.8,149.2 264.9,149.0 265.0,148.6 265.1,147.7 265.2,148.1 265.3,147.1 265.4,146.2 265.5,147.6 265.6,147.0 265.7,147.1 265.8,147.9 265.9,147.5 266.0,148.1 266.1,148.5 266.2,149.3 266.3,150.4 266.4,150.3 266.5,150.1 266.6,150.7 266.7,152.3 266.8,153.1 266.9,152.8 267.0,153.7 267.1,154.9 267.2,154.5 267.3,154.5 267.4,155.4 267.5,156.9 267.6,156.0 267.7,156.6 267.8,157.1 267.9,157.6 268.0,157.4 268.1,157.5 268.2,158.2 268.3,157.4 268.4,157.6 268.5,157.8 268.6,158.2 268.7,158.2 268.8,158.5 268.9,158.7 269.0,158.9 269.1,159.1 269.2,158.8 269.3,159.1 269.4,158.5 269.5,159.7 269.6,157.9 269.7,158.3 269.8,159.2 269.9,158.9 270.0,158.9 270.1,159.4 270.2,159.1 270.3,159.6 270.4,160.0 270.5,159.8 270.6,159.9 270.7,160.3 270.8,160.1 270.9,160.3 271.0,159.9 271.1,160.7 271.2,160.0 271.3,160.9 271.4,159.6 271.5,160.2 271.6,160.7 271.7,159.6 271.8,160.3 271.9,160.3 272.0,160.3 272.1,159.6 272.2,159.8 272.3,161.4 272.4,161.2 272.5,160.6 272.6,160.5 272.7,161.2 272.8,160.6 272.9,160.4 273.0,160.4 273.1,161.0 273.2,159.8 273.3,161.0 273.4,160.1 273.5,160.2 273.6,159.8 273.7,159.5 273.8,159.9 273.9,160.4 274.0,160.0 274.1,160.1 274.2,160.0 274.3,159.7 274.4,159.5 274.5,160.5 274.6,160.2 274.7,159.6 274.8,160.1 274.9,160.1 275.0,160.0 275.1,160.0 275.2,160.2 275.3,160.1 275.4,159.8 275.5,160.2 275.6,160.2 275.7,159.8 275.8,160.9 275.9,160.0 276.0,159.7 276.1,160.5 276.2,160.3 276.3,160.3 276.4,160.2 276.5,160.5 276.6,160.3 276.7,160.0 276.8,160.3 276.9,160.1 277.0,160.8 277.1,160.7 277.2,160.3 277.3,159.9 277.4,160.7 277.5,159.8 277.6,158.9 277.7,159.4 277.8,159.7 277.9,159.8 278.0,159.8 278.1,159.5 278.2,160.0 278.3,159.5 278.4,159.4 278.5,160.0 278.6,159.8 278.7,160.3 278.8,160.4 278.9,160.5 279.0,160.2 279.1,159.9 279.2,160.0 279.3,159.5 279.4,160.0 279.5,160.1 279.6,160.0 279.7,159.7 279.8,160.1 279.9,160.4 280.0,160.3 280.1,160.3 280.2,160.2 280.3,160.2 280.4,160.2 280.5,161.3 280.6,160.5 280.7,160.5 280.8,160.5 280.9,160.7 281.0,160.0 281.1,160.5 281.2,160.3 281.3,160.5 281.4,160.3 281.5,160.4 281.6,160.6 281.7,160.2 281.8,159.7 281.9,159.7 282.0,159.8 282.1,160.2 282.2,159.6 282.3,160.2 282.4,160.4 282.5,160.6 282.6,160.4 282.7,159.5 282.8,160.1 282.9,160.2 283.0,160.6 283.1,160.3 283.2,159.8 283.3,160.1 283.4,160.0 283.5,160.6 283.6,160.0 283.7,160.8 283.8,160.0 283.9,160.8 284.0,160.8 284.1,160.3 284.2,159.5 284.3,160.0 284.4,159.6 284.5,159.5 284.6,159.6 284.7,159.5 284.8,159.1 284.9,159.9 285.0,159.1 285.1,160.4 285.2,159.7 285.3,159.8 285.4,159.4 285.5,160.2 285.6,159.8 285.7,160.1 285.8,159.8 285.9,159.5 286.0,160.4 286.1,160.5 286.2,159.9 286.3,160.3 286.4,159.5 286.5,160.5 286.6,160.2 286.7,160.3 286.8,161.0 286.9,159.7 287.0,159.9 287.1,159.5 287.2,159.8 287.3,160.2 287.4,160.6 287.5,159.9 287.6,159.1 287.7,159.6 287.8,159.9 287.9,158.7 288.0,158.4 288.1,158.6 288.2,158.9 288.3,158.9 288.4,157.9 288.5,157.9 288.6,156.9 288.7,157.5 288.8,156.2 288.9,155.8 289.0,155.5 289.1,155.3 289.2,154.5 289.3,154.5 289.4,154.1 289.5,154.2 289.6,154.1 289.7,154.6 289.8,155.2 289.9,155.2 290.0,156.1 290.1,156.2 290.2,155.4 290.3,156.5 290.4,155.9 290.5,157.3 290.6,157.8 290.7,157.7 290.8,158.1 290.9,157.9 291.0,158.9 291.1,159.2 291.2,159.3 291.3,159.7 291.4,160.1 291.5,159.9 291.6,160.1 291.7,159.7 291.8,160.5 291.9,159.6 292.0,160.1 292.1,160.4 292.2,159.7 292.3,159.5 292.4,159.2 292.5,159.3 292.6,160.2 292.7,159.2 292.8,159.5 292.9,159.4 293.0,159.2 293.1,160.1 293.2,159.1 293.3,160.0 293.4,159.9 293.5,159.4 293.6,159.1 293.7,159.3 293.8,159.1 293.9,159.4 294.0,159.1 294.1,158.6 294.2,158.8 294.3,159.0 294.4,158.7 294.5,159.3 294.6,158.5 294.7,158.8 294.8,158.2 294.9,159.3 295.0,158.6 295.1,158.7 295.2,159.1 295.3,158.6 295.4,158.3 295.5,158.2 295.6,159.4 295.7,159.4 295.8,158.5 295.9,158.7 296.0,158.5 296.1,159.2 296.2,159.6 296.3,159.3 296.4,158.6 296.5,159.3 296.6,158.9 296.7,159.3 296.8,159.3 296.9,158.6 297.0,160.1 297.1,158.6 297.2,159.4 297.3,158.9 297.4,159.0 297.5,158.9 297.6,159.0 297.7,159.6 297.8,159.1 297.9,157.8 298.0,158.8 298.1,159.1 298.2,159.1 298.3,158.9 298.4,159.2 298.5,158.8 298.6,159.3 298.7,159.3 298.8,158.9 298.9,158.7 299.0,159.4 299.1,159.2 299.2,159.6 299.3,159.9 299.4,160.1 299.5,160.1 299.6,160.5 299.7,160.1 299.8,160.5 299.9,161.3 300.0,160.2 300.1,160.0 300.2,160.5 300.3,159.8 300.4,159.5 300.5,159.4 300.6,159.2 300.7,159.2 300.8,159.3 300.9,158.9 301.0,158.3 301.1,158.6 301.2,158.5 301.3,158.6 301.4,158.3 301.5,157.5 301.6,158.0 301.7,158.2 301.8,158.2 301.9,157.6 302.0,157.8 302.1,158.6 302.2,157.8 302.3,158.0 302.4,157.7 302.5,158.2 302.6,158.2 302.7,158.5 302.8,158.1 302.9,158.0 303.0,158.0 303.1,158.4 303.2,158.2 303.3,157.5 303.4,157.2 303.5,158.1 303.6,157.7 303.7,157.8 303.8,158.1 303.9,158.5 304.0,158.3 304.1,157.7 304.2,157.1 304.3,157.2 304.4,157.7 304.5,157.6 304.6,157.7 304.7,157.2 304.8,157.3 304.9,156.9 305.0,156.8 305.1,156.9 305.2,157.6 305.3,157.2 305.4,157.2 305.5,156.0 305.6,157.1 305.7,156.9 305.8,157.6 305.9,157.7 306.0,157.7 306.1,157.3 306.2,157.1 306.3,157.5 306.4,158.3 306.5,157.4 306.6,157.4 306.7,157.9 306.8,157.4 306.9,156.6 307.0,157.6 307.1,156.8 307.2,156.4 307.3,156.0 307.4,156.6 307.5,156.8 307.6,156.1 307.7,155.4 307.8,155.5 307.9,154.8 308.0,154.5 308.1,154.5 308.2,154.0 308.3,154.3 308.4,153.3 308.5,153.5 308.6,152.7 308.7,152.3 308.8,153.3 308.9,152.5 309.0,152.6 309.1,152.6 309.2,152.7 309.3,152.8 309.4,152.6 309.5,153.0 309.6,153.4 309.7,152.7 309.8,153.7 309.9,154.0 310.0,154.2 310.1,154.3 310.2,155.4 310.3,155.5 310.4,155.7 310.5,156.0 310.6,156.6 310.7,156.3 310.8,156.5 310.9,157.1 311.0,157.8 311.1,157.7 311.2,158.3 311.3,157.9 311.4,159.1 311.5,158.7 311.6,158.6 311.7,157.4 311.8,158.9 311.9,159.0 312.0,159.4 312.1,158.2 312.2,158.2 312.3,158.3 312.4,159.1 312.5,158.3 312.6,158.6 312.7,158.4 312.8,159.7 312.9,159.0 313.0,158.7 313.1,159.0 313.2,159.0 313.3,158.5 313.4,159.5 313.5,159.3 313.6,159.1 313.7,158.9 313.8,159.3 313.9,159.4 314.0,159.7 314.1,160.6 314.2,159.9 314.3,159.3 314.4,158.9 314.5,159.2 314.6,159.2 314.7,159.0 314.8,159.6 314.9,160.0 315.0,158.7 315.1,159.7 315.2,159.2 315.3,159.4 315.4,158.3 315.5,159.0 315.6,158.8 315.7,158.8 315.8,158.6 315.9,158.3 316.0,158.7 316.1,158.3 316.2,158.5 316.3,159.0 316.4,159.3 316.5,158.7 316.6,158.9 316.7,159.2 316.8,158.5 316.9,159.0 317.0,159.2 317.1,159.4 317.2,159.9 317.3,160.1 317.4,159.4 317.5,159.3 317.6,158.6 317.7,159.6 317.8,159.5 317.9,159.6 318.0,159.1 318.1,159.6 318.2,160.3 318.3,160.2 318.4,159.8 318.5,159.9 318.6,159.3 318.7,160.4 318.8,159.4 318.9,159.6 319.0,159.6 319.1,160.3 319.2,159.8 319.3,160.0 319.4,160.5 319.5,160.0 319.6,159.2 319.7,159.7 319.8,159.3 319.9,159.3 320.0,159.0 320.1,159.7 320.2,159.3 320.3,159.4 320.4,159.0 320.5,160.0 320.6,158.8 320.7,159.0 320.8,158.5 320.9,159.5 321.0,159.4 321.1,158.7 321.2,158.8 321.3,158.8 321.4,158.2 321.5,158.7 321.6,158.4 321.7,157.8 321.8,157.3 321.9,157.8 322.0,158.0 322.1,157.4 322.2,157.8 322.3,157.6 322.4,157.4 322.5,157.4 322.6,157.4 322.7,157.3 322.8,157.9 322.9,157.4 323.0,157.3 323.1,157.8 323.2,156.9 323.3,157.1 323.4,157.5 323.5,157.3 323.6,156.3 323.7,157.1 323.8,156.9 323.9,157.4 324.0,157.4 324.1,157.2 324.2,156.4 324.3,156.8 324.4,157.4 324.5,157.2 324.6,157.9 324.7,157.9 324.8,157.4 324.9,157.7 325.0,157.8 325.1,157.7 325.2,157.6 325.3,158.7 325.4,157.6 325.5,158.2 325.6,157.9 325.7,157.8 325.8,158.8 325.9,158.4 326.0,159.8 326.1,158.8 326.2,159.7 326.3,158.9 326.4,159.1 326.5,159.3 326.6,159.8 326.7,158.9 326.8,159.0 326.9,159.2 327.0,158.9 327.1,159.2 327.2,159.1 327.3,158.8 327.4,159.1 327.5,158.8 327.6,159.6 327.7,159.2 327.8,159.3 327.9,159.3 328.0,160.1 328.1,159.6 328.2,159.4 328.3,159.2 328.4,160.2 328.5,159.0 328.6,160.0 328.7,159.9 328.8,159.5 328.9,159.8 329.0,160.1 329.1,159.9 329.2,160.2 329.3,159.3 329.4,159.7 329.5,159.7 329.6,159.8 329.7,160.1 329.8,161.0 329.9,161.0 330.0,160.6 330.1,160.4 330.2,160.6 330.3,161.4 330.4,161.4 330.5,160.7 330.6,161.3 330.7,160.9 330.8,160.7 330.9,160.8 331.0,161.3 331.1,161.0 331.2,160.5 331.3,161.3 331.4,160.8 331.5,160.6 331.6,160.9 331.7,161.2 331.8,160.6 331.9,160.5 332.0,161.0 332.1,161.0 332.2,161.5 332.3,160.9 332.4,161.3 332.5,160.8 332.6,161.0 332.7,160.7 332.8,160.6 332.9,161.1 333.0,160.4 333.1,160.7 333.2,160.8 333.3,160.5 333.4,160.2 333.5,160.6 333.6,160.1 333.7,160.4 333.8,160.9 333.9,160.4 334.0,159.5 334.1,160.2 334.2,160.5 334.3,160.5 334.4,160.4 334.5,161.4 334.6,161.0 334.7,160.5 334.8,160.2 334.9,160.8 335.0,159.9 335.1,160.3 335.2,160.3 335.3,160.6 335.4,160.8 335.5,160.5 335.6,161.2 335.7,160.9 335.8,160.3 335.9,160.3 336.0,160.9 336.1,160.3 336.2,160.4 336.3,160.7 336.4,160.4 336.5,159.7 336.6,160.4 336.7,160.1 336.8,159.6 336.9,160.0 337.0,159.7 337.1,160.4 337.2,159.1 337.3,159.6 337.4,160.3 337.5,160.2 337.6,160.6 337.7,160.2 337.8,160.5 337.9,160.9 338.0,161.2 338.1,161.0 338.2,160.9 338.3,161.5 338.4,161.0 338.5,161.1 338.6,161.2 338.7,161.3 338.8,161.3 338.9,161.3 339.0,161.7 339.1,161.4 339.2,161.7 339.3,161.5 339.4,161.8 339.5,160.8 339.6,161.2 339.7,162.0 339.8,161.5 339.9,161.4 340.0,160.7 340.1,160.4 340.2,160.2 340.3,160.2 340.4,160.3 340.5,160.4 340.6,160.3 340.7,160.0 340.8,161.5 340.9,160.8 341.0,161.5 341.1,159.9 341.2,161.1 341.3,161.5 341.4,161.8 341.5,162.0 341.6,161.6 341.7,161.3 341.8,162.0 341.9,162.0 342.0,161.8 342.1,162.0 342.2,161.4 342.3,161.0 342.4,161.0 342.5,161.4 342.6,161.1 342.7,161.0 342.8,161.5 342.9,161.2 343.0,160.4 343.1,161.2 343.2,161.7 343.3,161.5 343.4,162.2 343.5,161.9 343.6,160.8 343.7,161.5 343.8,161.6 343.9,161.6 344.0,161.4 344.1,161.0 344.2,160.8 344.3,160.9 344.4,161.8 344.5,161.2 344.6,161.4 344.7,161.3 344.8,160.6 344.9,160.6 345.0,160.6 345.1,161.2 345.2,161.0 345.3,160.4 345.4,161.1 345.5,160.6 345.6,160.7 345.7,160.6 345.8,160.4 345.9,160.6 346.0,160.8 346.1,159.9 346.2,160.3 346.3,160.1 346.4,160.1 346.5,160.1 346.6,160.9 346.7,160.4 346.8,160.7 346.9,160.9 347.0,160.4 347.1,160.5 347.2,161.1 347.3,160.7 347.4,161.3 347.5,161.4 347.6,161.2 347.7,160.5 347.8,160.4 347.9,161.3 348.0,161.4 348.1,161.0 348.2,161.3 348.3,161.1 348.4,161.4 348.5,161.2 348.6,161.1 348.7,161.2 348.8,161.4 348.9,160.8 349.0,161.7 349.1,161.1 349.2,161.7 349.3,161.8 349.4,161.6 349.5,161.4 349.6,161.9 349.7,161.6 349.8,161.8 349.9,161.8 350.0,161.7 350.1,162.2 350.2,161.9 350.3,161.6 350.4,162.2 350.5,161.9 350.6,161.7 350.7,161.8 350.8,160.9 350.9,161.7 351.0,161.5 351.1,161.2 351.2,161.2 351.3,161.2 351.4,161.4 351.5,161.5 351.6,161.0 351.7,161.8 351.8,162.0 351.9,162.5 352.0,161.1 352.1,161.5 352.2,161.0 352.3,162.0 352.4,161.9 352.5,162.0 352.6,160.8 352.7,161.1 352.8,161.6 352.9,162.1 353.0,161.7 353.1,161.2 353.2,161.2 353.3,161.7 353.4,161.3 353.5,160.7 353.6,161.6 353.7,161.0 353.8,161.2 353.9,160.8 354.0,160.7 354.1,161.0 354.2,160.5 354.3,159.8 354.4,161.1 354.5,160.3 354.6,160.7 354.7,160.3 354.8,161.3 354.9,160.5 355.0,160.8 355.1,161.7 355.2,161.0 355.3,161.4 355.4,161.0 355.5,160.9 355.6,161.0 355.7,161.3 355.8,160.6 355.9,160.6 356.0,161.3 356.1,161.5 356.2,161.0 356.3,161.3 356.4,161.8 356.5,160.8 356.6,160.6 356.7,161.6 356.8,160.8 356.9,160.8 357.0,161.5 357.1,160.6 357.2,161.0 357.3,161.0"/>
<polyline fill="none" stroke="#f4143a" stroke-width="1.55" stroke-linejoin="round" points="36.0,97.4 36.1,97.8 36.2,97.6 36.3,97.9 36.4,98.3 36.5,96.8 36.6,96.7 36.7,97.5 36.8,97.4 36.9,98.1 37.0,98.0 37.1,98.6 37.2,98.1 37.3,96.6 37.4,97.5 37.5,99.2 37.6,98.8 37.7,97.6 37.8,97.9 37.9,98.6 38.0,99.6 38.1,98.2 38.2,98.4 38.3,97.7 38.4,98.5 38.5,98.8 38.6,98.7 38.7,97.7 38.8,97.5 38.9,99.7 39.0,99.5 39.1,98.0 39.2,99.8 39.3,98.8 39.4,99.6 39.5,98.6 39.6,98.6 39.7,99.4 39.8,98.4 39.9,99.0 40.0,99.2 40.1,97.1 40.2,99.0 40.3,98.9 40.4,98.8 40.5,97.5 40.6,97.4 40.7,98.0 40.8,98.3 40.9,98.2 41.0,98.1 41.1,98.2 41.2,98.8 41.3,99.1 41.4,98.6 41.5,99.6 41.6,99.2 41.7,99.4 41.8,98.1 41.9,97.7 42.0,99.3 42.1,99.4 42.2,98.9 42.3,99.7 42.4,98.9 42.5,99.1 42.6,98.9 42.7,99.6 42.8,99.1 42.9,98.4 43.0,100.7 43.1,99.7 43.2,99.7 43.3,100.1 43.4,100.3 43.5,100.2 43.6,100.9 43.7,100.1 43.8,100.0 43.9,99.7 44.0,99.4 44.1,101.1 44.2,101.0 44.3,98.8 44.4,99.9 44.5,100.5 44.6,99.6 44.7,98.4 44.8,99.6 44.9,100.6 45.0,99.4 45.1,100.7 45.2,98.5 45.3,99.1 45.4,99.7 45.5,99.6 45.6,100.5 45.7,99.2 45.8,99.1 45.9,97.9 46.0,97.8 46.1,98.9 46.2,99.0 46.3,99.2 46.4,98.3 46.5,98.9 46.6,98.5 46.7,98.6 46.8,99.9 46.9,98.4 47.0,98.6 47.1,98.3 47.2,98.6 47.3,98.8 47.4,98.1 47.5,97.8 47.6,97.9 47.7,98.2 47.8,98.9 47.9,96.9 48.0,98.5 48.1,96.9 48.2,95.8 48.3,96.0 48.4,95.9 48.5,93.1 48.6,92.7 48.7,92.5 48.8,91.3 48.9,91.2 49.0,91.6 49.1,89.7 49.2,89.6 49.3,89.3 49.4,90.6 49.5,92.5 49.6,92.4 49.7,93.1 49.8,93.9 49.9,95.6 50.0,96.7 50.1,95.9 50.2,97.5 50.3,97.5 50.4,98.3 50.5,98.1 50.6,99.9 50.7,101.0 50.8,100.2 50.9,100.8 51.0,101.6 51.1,101.2 51.2,100.5 51.3,101.3 51.4,102.1 51.5,102.6 51.6,101.7 51.7,102.1 51.8,102.5 51.9,101.6 52.0,102.2 52.1,101.8 52.2,101.7 52.3,102.3 52.4,102.7 52.5,103.0 52.6,102.7 52.7,102.5 52.8,102.3 52.9,101.3 53.0,101.6 53.1,102.3 53.2,101.5 53.3,101.5 53.4,102.1 53.5,102.6 53.6,101.9 53.7,101.8 53.8,102.1 53.9,102.1 54.0,101.5 54.1,101.9 54.2,101.8 54.3,102.7 54.4,102.1 54.5,102.8 54.6,102.1 54.7,104.0 54.8,102.3 54.9,102.3 55.0,101.4 55.1,104.3 55.2,104.0 55.3,102.7 55.4,103.4 55.5,102.9 55.6,102.9 55.7,103.4 55.8,102.9 55.9,102.1 56.0,103.5 56.1,103.6 56.2,102.7 56.3,102.8 56.4,103.2 56.5,101.5 56.6,103.4 56.7,102.8 56.8,101.0 56.9,103.6 57.0,102.9 57.1,102.7 57.2,101.8 57.3,102.6 57.4,102.7 57.5,103.0 57.6,103.1 57.7,101.6 57.8,103.4 57.9,103.0 58.0,102.4 58.1,102.6 58.2,103.6 58.3,102.0 58.4,103.1 58.5,101.8 58.6,103.9 58.7,103.0 58.8,103.0 58.9,103.2 59.0,103.4 59.1,103.9 59.2,104.0 59.3,104.3 59.4,103.3 59.5,103.3 59.6,103.4 59.7,103.4 59.8,103.7 59.9,102.8 60.0,104.0 60.1,103.6 60.2,104.0 60.3,103.6 60.4,103.2 60.5,102.5 60.6,101.6 60.7,103.3 60.8,103.0 60.9,103.4 61.0,102.5 61.1,101.8 61.2,103.3 61.3,101.8 61.4,103.7 61.5,104.7 61.6,103.6 61.7,101.9 61.8,102.6 61.9,102.8 62.0,103.5 62.1,102.0 62.2,104.4 62.3,104.6 62.4,102.5 62.5,104.5 62.6,103.7 62.7,103.7 62.8,105.2 62.9,103.3 63.0,103.9 63.1,102.5 63.2,104.1 63.3,103.9 63.4,103.2 63.5,103.6 63.6,102.7 63.7,104.3 63.8,103.9 63.9,102.8 64.0,104.8 64.1,104.0 64.2,103.5 64.3,103.4 64.4,104.0 64.5,103.1 64.6,103.4 64.7,103.8 64.8,104.4 64.9,104.6 65.0,104.3 65.1,103.9 65.2,103.7 65.3,104.1 65.4,103.7 65.5,103.9 65.6,103.8 65.7,103.6 65.8,103.3 65.9,102.1 66.0,104.2 66.1,102.9 66.2,103.0 66.3,103.6 66.4,103.4 66.5,104.7 66.6,102.6 66.7,102.7 66.8,103.1 66.9,102.7 67.0,103.7 67.1,102.4 67.2,103.0 67.3,103.5 67.4,105.1 67.5,102.6 67.6,104.2 67.7,104.1 67.8,103.3 67.9,103.2 68.0,103.4 68.1,103.6 68.2,103.8 68.3,102.0 68.4,104.7 68.5,103.5 68.6,103.6 68.7,104.3 68.8,104.6 68.9,104.6 69.0,103.8 69.1,103.4 69.2,104.6 69.3,103.2 69.4,103.8 69.5,104.3 69.6,104.7 69.7,104.0 69.8,104.6 69.9,104.4 70.0,105.6 70.1,105.3 70.2,104.2 70.3,102.7 70.4,103.1 70.5,104.4 70.6,103.8 70.7,105.0 70.8,103.0 70.9,103.6 71.0,102.7 71.1,101.6 71.2,102.8 71.3,101.8 71.4,100.7 71.5,100.6 71.6,100.2 71.7,98.5 71.8,97.7 71.9,97.0 72.0,96.9 72.1,94.5 72.2,95.1 72.3,95.4 72.4,95.7 72.5,97.1 72.6,99.2 72.7,97.3 72.8,99.2 72.9,100.2 73.0,101.3 73.1,101.4 73.2,100.9 73.3,103.2 73.4,102.3 73.5,100.7 73.6,103.1 73.7,102.5 73.8,101.5 73.9,101.2 74.0,100.2 74.1,99.2 74.2,98.5 74.3,97.9 74.4,96.4 74.5,95.4 74.6,96.6 74.7,96.1 74.8,96.3 74.9,97.8 75.0,100.0 75.1,99.4 75.2,100.9 75.3,101.5 75.4,102.6 75.5,104.4 75.6,102.8 75.7,102.8 75.8,103.6 75.9,103.7 76.0,105.0 76.1,104.9 76.2,103.9 76.3,103.8 76.4,104.2 76.5,103.9 76.6,103.9 76.7,103.3 76.8,103.9 76.9,104.0 77.0,103.8 77.1,103.8 77.2,104.2 77.3,103.1 77.4,104.1 77.5,104.6 77.6,105.0 77.7,104.1 77.8,104.8 77.9,103.6 78.0,104.2 78.1,104.9 78.2,105.1 78.3,104.8 78.4,104.2 78.5,104.0 78.6,104.4 78.7,103.4 78.8,103.3 78.9,104.6 79.0,102.9 79.1,104.3 79.2,103.2 79.3,104.6 79.4,104.3 79.5,104.8 79.6,104.6 79.7,103.2 79.8,102.9 79.9,103.7 80.0,105.0 80.1,104.5 80.2,104.7 80.3,104.3 80.4,105.0 80.5,103.2 80.6,104.7 80.7,104.6 80.8,104.2 80.9,105.1 81.0,103.4 81.1,104.5 81.2,104.4 81.3,103.7 81.4,104.8 81.5,104.0 81.6,105.5 81.7,104.5 81.8,104.7 81.9,104.7 82.0,105.3 82.1,104.3 82.2,105.6 82.3,105.0 82.4,105.3 82.5,104.6 82.6,105.0 82.7,105.5 82.8,104.7 82.9,105.3 83.0,104.6 83.1,105.7 83.2,105.1 83.3,104.6 83.4,105.3 83.5,105.6 83.6,105.9 83.7,105.4 83.8,105.4 83.9,104.8 84.0,104.8 84.1,106.5 84.2,105.5 84.3,105.6 84.4,105.6 84.5,105.3 84.6,106.0 84.7,105.3 84.8,105.2 84.9,105.5 85.0,104.5 85.1,104.9 85.2,104.5 85.3,103.9 85.4,106.5 85.5,105.5 85.6,106.4 85.7,106.3 85.8,105.5 85.9,105.1 86.0,106.3 86.1,105.7 86.2,105.9 86.3,106.9 86.4,106.1 86.5,105.4 86.6,104.9 86.7,105.8 86.8,105.3 86.9,105.1 87.0,105.6 87.1,104.9 87.2,105.1 87.3,105.2 87.4,104.7 87.5,104.2 87.6,104.6 87.7,104.7 87.8,104.6 87.9,104.2 88.0,104.0 88.1,103.3 88.2,104.3 88.3,104.9 88.4,105.2 88.5,104.0 88.6,104.1 88.7,103.9 88.8,103.9 88.9,104.3 89.0,104.4 89.1,104.9 89.2,104.1 89.3,106.5 89.4,106.0 89.5,105.4 89.6,104.3 89.7,104.1 89.8,104.0 89.9,103.8 90.0,105.0 90.1,104.8 90.2,104.0 90.3,104.7 90.4,103.8 90.5,104.9 90.6,105.2 90.7,104.5 90.8,105.3 90.9,105.5 91.0,105.5 91.1,105.0 91.2,105.2 91.3,105.3 91.4,105.1 91.5,104.7 91.6,104.5 91.7,105.1 91.8,104.0 91.9,104.8 92.0,104.0 92.1,105.0 92.2,103.9 92.3,103.2 92.4,104.9 92.5,103.8 92.6,104.8 92.7,104.8 92.8,104.0 92.9,105.8 93.0,104.1 93.1,105.3 93.2,105.5 93.3,105.4 93.4,105.5 93.5,105.6 93.6,105.8 93.7,106.1 93.8,105.3 93.9,105.1 94.0,104.8 94.1,105.5 94.2,105.7 94.3,105.3 94.4,105.9 94.5,105.6 94.6,105.2 94.7,104.5 94.8,105.0 94.9,106.0 95.0,106.3 95.1,105.3 95.2,105.2 95.3,105.8 95.4,105.1 95.5,104.8 95.6,105.8 95.7,105.5 95.8,105.6 95.9,105.3 96.0,104.4 96.1,104.7 96.2,104.9 96.3,104.1 96.4,103.4 96.5,104.1 96.6,104.2 96.7,103.7 96.8,103.4 96.9,104.8 97.0,104.0 97.1,104.2 97.2,104.2 97.3,104.2 97.4,104.3 97.5,105.3 97.6,104.4 97.7,104.3 97.8,104.3 97.9,104.1 98.0,103.6 98.1,104.3 98.2,105.2 98.3,105.3 98.4,104.6 98.5,104.7 98.6,104.7 98.7,104.0 98.8,104.3 98.9,103.8 99.0,104.7 99.1,104.5 99.2,103.0 99.3,105.8 99.4,105.1 99.5,104.0 99.6,104.4 99.7,103.5 99.8,104.1 99.9,104.5 100.0,104.8 100.1,105.3 100.2,104.1 100.3,105.4 100.4,105.2 100.5,105.2 100.6,104.9 100.7,104.5 100.8,104.9 100.9,105.3 101.0,105.3 101.1,104.1 101.2,104.3 101.3,105.0 101.4,104.0 101.5,104.7 101.6,104.5 101.7,105.1 101.8,105.2 101.9,104.9 102.0,105.7 102.1,104.5 102.2,105.4 102.3,105.3 102.4,105.0 102.5,104.5 102.6,104.5 102.7,104.7 102.8,106.0 102.9,105.1 103.0,104.7 103.1,104.7 103.2,105.2 103.3,104.8 103.4,105.0 103.5,105.4 103.6,104.6 103.7,104.5 103.8,105.5 103.9,104.6 104.0,104.4 104.1,104.6 104.2,104.2 104.3,104.1 104.4,104.1 104.5,105.0 104.6,103.3 104.7,104.2 104.8,104.7 104.9,103.5 105.0,103.8 105.1,103.9 105.2,104.0 105.3,103.5 105.4,104.8 105.5,104.7 105.6,104.8 105.7,104.7 105.8,103.9 105.9,105.3 106.0,104.9 106.1,104.4 106.2,103.3 106.3,104.8 106.4,104.7 106.5,105.0 106.6,105.0 106.7,105.0 106.8,104.1 106.9,105.7 107.0,104.2 107.1,105.8 107.2,106.8 107.3,105.3 107.4,105.0 107.5,105.6 107.6,104.6 107.7,104.7 107.8,104.6 107.9,105.4 108.0,105.6 108.1,105.2 108.2,104.6 108.3,105.1 108.4,104.7 108.5,104.0 108.6,103.6 108.7,104.1 108.8,103.6 108.9,104.6 109.0,104.1 109.1,105.1 109.2,104.1 109.3,103.0 109.4,104.9 109.5,105.3 109.6,105.1 109.7,104.4 109.8,104.6 109.9,104.3 110.0,105.1 110.1,104.4 110.2,104.6 110.3,104.3 110.4,104.3 110.5,105.0 110.6,104.2 110.7,105.7 110.8,104.9 110.9,104.7 111.0,105.2 111.1,104.8 111.2,105.0 111.3,104.4 111.4,105.2 111.5,105.1 111.6,104.0 111.7,103.7 111.8,104.7 111.9,103.9 112.0,104.7 112.1,103.6 112.2,104.2 112.3,104.6 112.4,104.7 112.5,104.2 112.6,103.7 112.7,104.1 112.8,104.6 112.9,103.2 113.0,104.8 113.1,104.1 113.2,105.4 113.3,104.1 113.4,104.9 113.5,104.3 113.6,104.6 113.7,104.1 113.8,105.1 113.9,104.0 114.0,104.8 114.1,104.1 114.2,104.0 114.3,103.6 114.4,104.1 114.5,105.0 114.6,103.4 114.7,104.7 114.8,104.2 114.9,104.2 115.0,104.5 115.1,103.3 115.2,104.4 115.3,103.7 115.4,103.7 115.5,105.3 115.6,103.7 115.7,103.6 115.8,105.2 115.9,103.7 116.0,103.6 116.1,104.0 116.2,103.8 116.3,103.3 116.4,104.7 116.5,102.3 116.6,103.9 116.7,103.6 116.8,103.6 116.9,103.8 117.0,103.8 117.1,104.1 117.2,104.4 117.3,104.4 117.4,104.0 117.5,104.3 117.6,103.1 117.7,103.1 117.8,104.5 117.9,103.6 118.0,104.3 118.1,103.6 118.2,104.7 118.3,103.7 118.4,103.7 118.5,103.9 118.6,104.6 118.7,103.3 118.8,103.6 118.9,103.3 119.0,103.6 119.1,104.3 119.2,104.2 119.3,103.2 119.4,104.4 119.5,103.7 119.6,104.1 119.7,103.8 119.8,103.1 119.9,103.1 120.0,103.4 120.1,103.5 120.2,102.3 120.3,101.9 120.4,102.5 120.5,102.2 120.6,101.9 120.7,100.5 120.8,99.4 120.9,98.9 121.0,99.5 121.1,99.9 121.2,99.1 121.3,99.0 121.4,98.1 121.5,97.6 121.6,97.5 121.7,96.5 121.8,95.6 121.9,96.2 122.0,96.5 122.1,95.8 122.2,95.1 122.3,96.2 122.4,95.9 122.5,95.0 122.6,95.8 122.7,95.5 122.8,96.3 122.9,96.4 123.0,96.7 123.1,97.6 123.2,96.6 123.3,97.2 123.4,97.8 123.5,97.5 123.6,98.1 123.7,98.5 123.8,99.7 123.9,100.2 124.0,99.9 124.1,99.2 124.2,98.9 124.3,100.9 124.4,100.4 124.5,101.9 124.6,101.4 124.7,102.4 124.8,101.7 124.9,102.0 125.0,103.0 125.1,102.5 125.2,103.3 125.3,102.8 125.4,102.4 125.5,103.7 125.6,103.7 125.7,103.0 125.8,103.8 125.9,104.2 126.0,103.1 126.1,104.1 126.2,104.5 126.3,104.5 126.4,104.2 126.5,104.3 126.6,103.6 126.7,103.6 126.8,102.9 126.9,104.1 127.0,103.2 127.1,102.4 127.2,104.0 127.3,103.9 127.4,102.9 127.5,103.4 127.6,104.0 127.7,104.0 127.8,102.9 127.9,102.8 128.0,103.0 128.1,103.2 128.2,102.9 128.3,103.6 128.4,103.6 128.5,103.6 128.6,103.7 128.7,104.2 128.8,102.1 128.9,103.8 129.0,103.7 129.1,102.8 129.2,104.0 129.3,103.1 129.4,104.0 129.5,104.5 129.6,104.5 129.7,103.7 129.8,103.9 129.9,104.5 130.0,104.1 130.1,104.4 130.2,104.2 130.3,104.9 130.4,105.9 130.5,104.7 130.6,104.8 130.7,104.6 130.8,103.3 130.9,103.6 131.0,104.3 131.1,103.0 131.2,104.7 131.3,104.1 131.4,104.1 131.5,104.2 131.6,103.6 131.7,103.3 131.8,104.1 131.9,104.8 132.0,103.2 132.1,104.1 132.2,102.9 132.3,103.3 132.4,103.6 132.5,103.3 132.6,103.4 132.7,103.9 132.8,103.2 132.9,103.8 133.0,103.5 133.1,102.9 133.2,103.6 133.3,103.9 133.4,104.1 133.5,102.1 133.6,102.8 133.7,103.4 133.8,103.1 133.9,104.1 134.0,103.3 134.1,102.4 134.2,102.3 134.3,103.2 134.4,103.8 134.5,103.8 134.6,103.5 134.7,104.2 134.8,103.3 134.9,104.1 135.0,104.0 135.1,103.8 135.2,103.0 135.3,104.5 135.4,104.6 135.5,103.8 135.6,103.7 135.7,103.7 135.8,102.3 135.9,104.0 136.0,102.9 136.1,103.1 136.2,103.6 136.3,102.3 136.4,104.2 136.5,104.2 136.6,104.0 136.7,104.5 136.8,103.8 136.9,104.3 137.0,103.8 137.1,103.6 137.2,103.8 137.3,103.1 137.4,104.4 137.5,103.4 137.6,104.6 137.7,103.7 137.8,103.5 137.9,103.6 138.0,104.1 138.1,104.3 138.2,105.5 138.3,104.8 138.4,103.6 138.5,103.2 138.6,104.0 138.7,104.0 138.8,104.7 138.9,105.1 139.0,104.1 139.1,103.6 139.2,104.4 139.3,104.3 139.4,105.6 139.5,104.9 139.6,103.8 139.7,105.0 139.8,104.6 139.9,103.9 140.0,103.8 140.1,105.1 140.2,104.8 140.3,105.8 140.4,105.6 140.5,104.9 140.6,105.7 140.7,105.5 140.8,106.0 140.9,105.9 141.0,106.0 141.1,106.3 141.2,105.6 141.3,106.1 141.4,105.2 141.5,105.7 141.6,105.3 141.7,105.6 141.8,106.5 141.9,105.3 142.0,105.9 142.1,105.5 142.2,104.8 142.3,105.4 142.4,104.8 142.5,105.6 142.6,106.0 142.7,104.5 142.8,106.3 142.9,106.1 143.0,104.8 143.1,105.8 143.2,105.3 143.3,106.1 143.4,105.7 143.5,105.4 143.6,105.7 143.7,105.7 143.8,106.0 143.9,107.2 144.0,105.1 144.1,106.9 144.2,105.9 144.3,105.6 144.4,106.1 144.5,105.6 144.6,105.3 144.7,106.4 144.8,106.8 144.9,106.1 145.0,106.4 145.1,105.3 145.2,105.5 145.3,105.1 145.4,105.7 145.5,105.1 145.6,105.6 145.7,105.6 145.8,104.9 145.9,105.1 146.0,105.7 146.1,105.8 146.2,105.2 146.3,104.9 146.4,106.8 146.5,106.3 146.6,105.4 146.7,106.2 146.8,105.7 146.9,105.9 147.0,106.5 147.1,107.4 147.2,106.5 147.3,107.1 147.4,105.9 147.5,106.2 147.6,106.3 147.7,106.9 147.8,107.5 147.9,106.5 148.0,106.7 148.1,105.8 148.2,107.2 148.3,106.2 148.4,105.7 148.5,106.7 148.6,106.7 148.7,106.7 148.8,106.4 148.9,105.8 149.0,106.1 149.1,105.0 149.2,106.0 149.3,106.1 149.4,105.3 149.5,106.4 149.6,105.6 149.7,105.0 149.8,104.5 149.9,105.2 150.0,105.1 150.1,105.4 150.2,105.1 150.3,105.5 150.4,105.5 150.5,105.7 150.6,104.9 150.7,105.9 150.8,104.4 150.9,105.6 151.0,104.9 151.1,104.6 151.2,105.1 151.3,106.1 151.4,106.5 151.5,105.3 151.6,105.6 151.7,105.2 151.8,105.7 151.9,105.5 152.0,105.9 152.1,105.4 152.2,105.3 152.3,105.9 152.4,105.5 152.5,105.1 152.6,106.1 152.7,106.0 152.8,106.1 152.9,105.5 153.0,105.9 153.1,106.4 153.2,104.9 153.3,104.8 153.4,104.4 153.5,105.4 153.6,104.9 153.7,104.6 153.8,104.5 153.9,103.1 154.0,104.3 154.1,104.2 154.2,104.8 154.3,104.0 154.4,103.5 154.5,104.1 154.6,103.1 154.7,103.5 154.8,103.4 154.9,103.4 155.0,102.5 155.1,103.6 155.2,103.1 155.3,102.6 155.4,101.6 155.5,102.4 155.6,103.1 155.7,102.2 155.8,102.6 155.9,102.7 156.0,102.0 156.1,101.4 156.2,101.3 156.3,101.7 156.4,101.5 156.5,101.8 156.6,101.8 156.7,100.9 156.8,100.4 156.9,100.3 157.0,100.3 157.1,100.4 157.2,100.4 157.3,100.5 157.4,99.8 157.5,99.4 157.6,99.4 157.7,99.1 157.8,100.0 157.9,98.5 158.0,98.6 158.1,98.6 158.2,98.7 158.3,98.4 158.4,98.9 158.5,98.6 158.6,98.9 158.7,99.0 158.8,98.8 158.9,99.0 159.0,98.7 159.1,98.4 159.2,98.7 159.3,99.3 159.4,98.8 159.5,98.2 159.6,98.1 159.7,98.5 159.8,98.3 159.9,98.0 160.0,97.6 160.1,98.5 160.2,97.7 160.3,97.0 160.4,98.0 160.5,96.5 160.6,95.8 160.7,96.3 160.8,96.5 160.9,96.4 161.0,95.5 161.1,95.3 161.2,95.4 161.3,94.5 161.4,94.5 161.5,92.8 161.6,92.7 161.7,92.3 161.8,90.7 161.9,89.7 162.0,88.3 162.1,87.9 162.2,86.4 162.3,85.3 162.4,85.4 162.5,85.7 162.6,84.4 162.7,85.6 162.8,85.3 162.9,86.2 163.0,87.7 163.1,89.3 163.2,90.2 163.3,90.8 163.4,91.8 163.5,93.6 163.6,94.5 163.7,94.9 163.8,97.0 163.9,96.5 164.0,98.2 164.1,98.6 164.2,99.9 164.3,99.4 164.4,100.7 164.5,100.5 164.6,101.9 164.7,101.3 164.8,102.6 164.9,101.8 165.0,102.6 165.1,102.9 165.2,103.5 165.3,103.2 165.4,103.2 165.5,104.5 165.6,104.2 165.7,103.7 165.8,104.2 165.9,104.6 166.0,104.7 166.1,104.7 166.2,104.8 166.3,104.1 166.4,104.9 166.5,104.9 166.6,104.5 166.7,105.8 166.8,105.0 166.9,105.3 167.0,105.1 167.1,105.9 167.2,105.1 167.3,106.4 167.4,105.5 167.5,105.7 167.6,105.9 167.7,105.2 167.8,105.6 167.9,106.0 168.0,106.1 168.1,106.1 168.2,105.5 168.3,105.9 168.4,105.4 168.5,105.7 168.6,105.2 168.7,105.5 168.8,105.4 168.9,105.6 169.0,104.8 169.1,104.9 169.2,106.5 169.3,105.6 169.4,105.3 169.5,105.9 169.6,104.7 169.7,105.9 169.8,105.4 169.9,106.6 170.0,105.7 170.1,105.8 170.2,105.3 170.3,106.1 170.4,105.9 170.5,105.0 170.6,105.1 170.7,105.2 170.8,106.1 170.9,105.8 171.0,104.9 171.1,104.7 171.2,105.7 171.3,104.7 171.4,106.4 171.5,105.7 171.6,106.5 171.7,105.0 171.8,106.1 171.9,105.8 172.0,105.7 172.1,105.5 172.2,105.3 172.3,105.7 172.4,105.5 172.5,106.1 172.6,105.8 172.7,105.5 172.8,106.1 172.9,105.8 173.0,105.4 173.1,105.8 173.2,105.0 173.3,105.3 173.4,106.3 173.5,105.9 173.6,105.2 173.7,106.0 173.8,106.0 173.9,106.8 174.0,106.5 174.1,105.7 174.2,105.5 174.3,105.2 174.4,105.2 174.5,106.3 174.6,106.3 174.7,105.5 174.8,107.2 174.9,105.4 175.0,105.8 175.1,106.3 175.2,105.0 175.3,105.6 175.4,105.3 175.5,106.2 175.6,105.1 175.7,106.0 175.8,104.8 175.9,105.9 176.0,105.3 176.1,105.3 176.2,106.3 176.3,105.8 176.4,106.4 176.5,106.2 176.6,106.4 176.7,104.9 176.8,106.1 176.9,107.0 177.0,105.8 177.1,106.4 177.2,105.1 177.3,105.5 177.4,105.9 177.5,106.6 177.6,106.4 177.7,106.3 177.8,106.2 177.9,105.8 178.0,106.4 178.1,107.0 178.2,106.1 178.3,105.7 178.4,106.6 178.5,106.1 178.6,106.1 178.7,105.9 178.8,105.9 178.9,105.7 179.0,106.5 179.1,106.0 179.2,105.2 179.3,105.2 179.4,105.1 179.5,104.4 179.6,104.2 179.7,105.2 179.8,105.0 179.9,104.2 180.0,105.0 180.1,104.3 180.2,104.2 180.3,104.0 180.4,104.0 180.5,104.3 180.6,103.2 180.7,103.5 180.8,102.7 180.9,102.9 181.0,102.3 181.1,102.2 181.2,102.3 181.3,102.0 181.4,102.5 181.5,102.3 181.6,102.0 181.7,101.9 181.8,102.6 181.9,102.5 182.0,102.4 182.1,102.2 182.2,101.9 182.3,102.0 182.4,102.4 182.5,102.4 182.6,102.3 182.7,102.3 182.8,102.5 182.9,102.7 183.0,101.4 183.1,102.9 183.2,102.9 183.3,103.4 183.4,103.6 183.5,104.1 183.6,102.5 183.7,103.3 183.8,103.1 183.9,103.6 184.0,103.8 184.1,103.7 184.2,104.5 184.3,104.9 184.4,104.2 184.5,104.5 184.6,105.5 184.7,104.2 184.8,105.5 184.9,105.3 185.0,105.5 185.1,104.8 185.2,105.3 185.3,105.5 185.4,105.9 185.5,105.6 185.6,105.3 185.7,106.1 185.8,105.4 185.9,106.7 186.0,106.4 186.1,105.3 186.2,105.9 186.3,106.9 186.4,106.0 186.5,105.5 186.6,106.6 186.7,105.9 186.8,105.6 186.9,105.8 187.0,105.2 187.1,106.3 187.2,106.2 187.3,106.0 187.4,106.8 187.5,106.5 187.6,106.0 187.7,106.6 187.8,106.2 187.9,107.2 188.0,106.3 188.1,107.4 188.2,106.9 188.3,107.6 188.4,107.0 188.5,106.9 188.6,107.1 188.7,107.7 188.8,107.0 188.9,107.2 189.0,107.4 189.1,106.9 189.2,107.3 189.3,108.1 189.4,106.6 189.5,107.5 189.6,106.9 189.7,107.2 189.8,107.0 189.9,107.2 190.0,106.8 190.1,107.4 190.2,106.5 190.3,107.5 190.4,106.7 190.5,106.3 190.6,106.7 190.7,106.5 190.8,106.7 190.9,107.0 191.0,106.3 191.1,106.2 191.2,105.6 191.3,106.1 191.4,106.6 191.5,105.8 191.6,106.5 191.7,106.9 191.8,106.5 191.9,107.1 192.0,107.8 192.1,107.7 192.2,108.5 192.3,107.8 192.4,107.5 192.5,107.2 192.6,107.5 192.7,107.6 192.8,108.0 192.9,107.9 193.0,107.2 193.1,107.8 193.2,106.9 193.3,107.2 193.4,107.4 193.5,106.4 193.6,107.5 193.7,107.3 193.8,108.6 193.9,107.3 194.0,107.3 194.1,106.9 194.2,107.3 194.3,108.0 194.4,107.9 194.5,106.8 194.6,107.6 194.7,108.0 194.8,108.4 194.9,108.0 195.0,108.0 195.1,108.0 195.2,108.2 195.3,108.8 195.4,108.0 195.5,108.4 195.6,108.0 195.7,107.8 195.8,108.5 195.9,107.3 196.0,108.0 196.1,107.4 196.2,107.4 196.3,107.7 196.4,107.2 196.5,107.1 196.6,107.3 196.7,107.8 196.8,108.0 196.9,107.4 197.0,108.3 197.1,107.8 197.2,108.5 197.3,108.6 197.4,107.6 197.5,108.6 197.6,108.3 197.7,108.3 197.8,108.0 197.9,108.2 198.0,108.5 198.1,107.8 198.2,108.4 198.3,107.6 198.4,108.8 198.5,108.3 198.6,108.1 198.7,107.8 198.8,108.5 198.9,107.3 199.0,108.5 199.1,108.4 199.2,108.3 199.3,108.8 199.4,108.6 199.5,108.1 199.6,108.0 199.7,107.9 199.8,108.2 199.9,108.7 200.0,107.9 200.1,108.9 200.2,107.9 200.3,108.3 200.4,107.5 200.5,108.9 200.6,107.9 200.7,107.2 200.8,107.3 200.9,107.1 201.0,106.8 201.1,107.3 201.2,107.0 201.3,107.1 201.4,106.9 201.5,107.1 201.6,107.1 201.7,106.9 201.8,107.8 201.9,108.0 202.0,108.1 202.1,107.9 202.2,108.8 202.3,108.5 202.4,108.4 202.5,108.4 202.6,107.3 202.7,107.6 202.8,107.3 202.9,108.6 203.0,107.5 203.1,107.1 203.2,107.6 203.3,107.0 203.4,107.0 203.5,108.2 203.6,108.3 203.7,107.5 203.8,108.8 203.9,108.0 204.0,108.2 204.1,107.8 204.2,107.7 204.3,108.8 204.4,107.3 204.5,107.0 204.6,108.2 204.7,108.0 204.8,107.5 204.9,107.9 205.0,107.7 205.1,107.4 205.2,107.8 205.3,107.4 205.4,107.8 205.5,108.1 205.6,107.3 205.7,107.4 205.8,108.9 205.9,107.8 206.0,107.9 206.1,107.8 206.2,107.3 206.3,108.0 206.4,107.7 206.5,108.2 206.6,108.3 206.7,108.1 206.8,107.4 206.9,107.7 207.0,107.7 207.1,107.4 207.2,107.7 207.3,108.3 207.4,108.7 207.5,107.9 207.6,107.8 207.7,107.8 207.8,108.1 207.9,108.4 208.0,107.9 208.1,107.9 208.2,107.3 208.3,107.5 208.4,107.6 208.5,107.9 208.6,107.2 208.7,108.9 208.8,107.6 208.9,108.5 209.0,107.7 209.1,107.9 209.2,107.6 209.3,107.3 209.4,107.5 209.5,107.9 209.6,108.9 209.7,108.8 209.8,108.2 209.9,107.9 210.0,108.6 210.1,107.5 210.2,107.8 210.3,108.4 210.4,108.2 210.5,108.2 210.6,107.6 210.7,106.6 210.8,107.6 210.9,107.6 211.0,107.9 211.1,107.9 211.2,108.4 211.3,108.1 211.4,108.3 211.5,107.5 211.6,108.9 211.7,108.4 211.8,108.1 211.9,108.5 212.0,109.0 212.1,108.4 212.2,109.2 212.3,109.0 212.4,108.5 212.5,108.3 212.6,107.9 212.7,107.7 212.8,107.4 212.9,107.9 213.0,107.7 213.1,107.9 213.2,107.9 213.3,107.8 213.4,107.1 213.5,107.5 213.6,107.5 213.7,107.7 213.8,108.1 213.9,107.5 214.0,107.4 214.1,107.5 214.2,107.5 214.3,107.8 214.4,107.3 214.5,107.1 214.6,107.4 214.7,107.8 214.8,107.2 214.9,108.3 215.0,108.0 215.1,107.6 215.2,107.5 215.3,108.5 215.4,107.7 215.5,107.5 215.6,107.7 215.7,107.6 215.8,107.8 215.9,108.2 216.0,108.4 216.1,108.2 216.2,107.4 216.3,107.2 216.4,107.4 216.5,106.5 216.6,107.2 216.7,107.5 216.8,107.4 216.9,106.9 217.0,106.2 217.1,106.7 217.2,106.9 217.3,107.2 217.4,106.7 217.5,106.7 217.6,106.5 217.7,106.8 217.8,106.1 217.9,106.4 218.0,106.1 218.1,105.3 218.2,105.3 218.3,105.7 218.4,105.4 218.5,105.0 218.6,104.4 218.7,104.8 218.8,105.2 218.9,104.3 219.0,104.7 219.1,104.3 219.2,102.9 219.3,104.5 219.4,103.1 219.5,104.2 219.6,103.3 219.7,104.0 219.8,104.7 219.9,104.5 220.0,104.1 220.1,104.8 220.2,104.5 220.3,104.6 220.4,104.5 220.5,105.0 220.6,105.5 220.7,105.7 220.8,106.3 220.9,106.3 221.0,106.0 221.1,106.7 221.2,107.4 221.3,107.3 221.4,107.6 221.5,107.3 221.6,107.9 221.7,106.6 221.8,108.0 221.9,108.6 222.0,108.5 222.1,108.0 222.2,108.9 222.3,107.5 222.4,107.7 222.5,107.9 222.6,107.8 222.7,107.8 222.8,108.2 222.9,107.0 223.0,108.0 223.1,108.0 223.2,107.9 223.3,107.6 223.4,107.7 223.5,109.2 223.6,107.6 223.7,108.2 223.8,108.4 223.9,107.6 224.0,108.3 224.1,108.0 224.2,107.8 224.3,108.8 224.4,107.7 224.5,108.4 224.6,107.7 224.7,108.3 224.8,107.8 224.9,107.5 225.0,107.3 225.1,108.4 225.2,107.5 225.3,109.0 225.4,108.0 225.5,107.2 225.6,108.3 225.7,107.7 225.8,107.5 225.9,107.1 226.0,107.3 226.1,107.3 226.2,106.8 226.3,107.8 226.4,107.8 226.5,107.9 226.6,108.0 226.7,107.1 226.8,107.3 226.9,107.4 227.0,107.7 227.1,108.7 227.2,108.3 227.3,107.8 227.4,107.6 227.5,107.9 227.6,106.6 227.7,107.3 227.8,107.3 227.9,106.8 228.0,107.7 228.1,106.3 228.2,106.3 228.3,107.3 228.4,107.7 228.5,107.9 228.6,107.3 228.7,107.5 228.8,107.2 228.9,107.8 229.0,108.1 229.1,107.9 229.2,106.5 229.3,107.6 229.4,108.1 229.5,108.7 229.6,109.1 229.7,108.0 229.8,109.2 229.9,107.2 230.0,108.2 230.1,107.1 230.2,108.5 230.3,107.5 230.4,107.5 230.5,109.0 230.6,109.2 230.7,107.3 230.8,108.2 230.9,107.7 231.0,107.5 231.1,107.8 231.2,108.3 231.3,108.0 231.4,108.0 231.5,107.8 231.6,106.9 231.7,107.2 231.8,107.6 231.9,107.7 232.0,107.9 232.1,106.7 232.2,107.1 232.3,107.1 232.4,107.3 232.5,107.6 232.6,107.1 232.7,107.7 232.8,106.9 232.9,106.7 233.0,107.4 233.1,107.2 233.2,108.5 233.3,107.9 233.4,108.3 233.5,107.6 233.6,108.0 233.7,107.3 233.8,107.0 233.9,107.6 234.0,107.3 234.1,107.5 234.2,108.5 234.3,107.1 234.4,107.7 234.5,107.8 234.6,107.5 234.7,107.1 234.8,107.0 234.9,108.3 235.0,106.8 235.1,108.1 235.2,107.4 235.3,107.1 235.4,108.1 235.5,108.1 235.6,107.9 235.7,107.7 235.8,107.8 235.9,107.4 236.0,107.5 236.1,108.7 236.2,108.1 236.3,107.5 236.4,107.3 236.5,106.9 236.6,107.3 236.7,106.7 236.8,107.4 236.9,107.6 237.0,107.4 237.1,107.6 237.2,107.1 237.3,107.2 237.4,106.9 237.5,107.1 237.6,107.0 237.7,107.5 237.8,106.9 237.9,107.0 238.0,107.4 238.1,107.1 238.2,108.0 238.3,106.4 238.4,107.3 238.5,107.0 238.6,106.9 238.7,107.1 238.8,107.1 238.9,106.5 239.0,106.5 239.1,107.1 239.2,106.7 239.3,106.9 239.4,106.6 239.5,106.8 239.6,106.5 239.7,106.0 239.8,106.8 239.9,106.8 240.0,106.3 240.1,106.0 240.2,107.2 240.3,107.1 240.4,106.7 240.5,107.0 240.6,107.2 240.7,105.6 240.8,106.5 240.9,106.5 241.0,106.5 241.1,106.0 241.2,106.4 241.3,106.5 241.4,106.8 241.5,106.5 241.6,106.3 241.7,106.1 241.8,106.4 241.9,105.6 242.0,106.2 242.1,105.6 242.2,106.0 242.3,105.9 242.4,105.5 242.5,106.0 242.6,105.7 242.7,107.1 242.8,105.8 242.9,106.4 243.0,105.9 243.1,106.2 243.2,104.8 243.3,105.8 243.4,105.3 243.5,105.5 243.6,105.3 243.7,105.7 243.8,106.0 243.9,105.0 244.0,105.1 244.1,105.3 244.2,105.7 244.3,105.4 244.4,105.2 244.5,106.1 244.6,105.8 244.7,105.3 244.8,106.0 244.9,105.2 245.0,105.1 245.1,105.4 245.2,105.6 245.3,105.8 245.4,105.8 245.5,105.8 245.6,104.4 245.7,105.4 245.8,106.1 245.9,104.7 246.0,104.8 246.1,104.9 246.2,106.1 246.3,104.9 246.4,105.2 246.5,104.6 246.6,105.5 246.7,106.1 246.8,104.9 246.9,104.7 247.0,106.2 247.1,105.8 247.2,105.2 247.3,105.3 247.4,105.5 247.5,106.1 247.6,105.9 247.7,106.4 247.8,107.0 247.9,106.0 248.0,106.5 248.1,106.2 248.2,106.5 248.3,106.2 248.4,106.5 248.5,106.2 248.6,106.5 248.7,105.7 248.8,107.2 248.9,106.9 249.0,106.8 249.1,106.5 249.2,106.5 249.3,106.1 249.4,106.2 249.5,105.3 249.6,105.8 249.7,106.7 249.8,106.3 249.9,106.6 250.0,106.4 250.1,106.3 250.2,107.5 250.3,106.7 250.4,106.6 250.5,106.1 250.6,106.7 250.7,106.3 250.8,107.3 250.9,107.1 251.0,106.6 251.1,107.2 251.2,106.8 251.3,106.6 251.4,106.2 251.5,106.9 251.6,105.9 251.7,107.7 251.8,106.5 251.9,107.3 252.0,106.9 252.1,106.7 252.2,106.8 252.3,107.3 252.4,106.2 252.5,106.6 252.6,106.7 252.7,106.7 252.8,106.9 252.9,106.6 253.0,106.9 253.1,106.1 253.2,107.3 253.3,106.0 253.4,105.9 253.5,107.2 253.6,107.5 253.7,107.1 253.8,107.0 253.9,108.1 254.0,106.9 254.1,107.5 254.2,107.6 254.3,107.0 254.4,106.9 254.5,107.0 254.6,106.9 254.7,106.7 254.8,106.4 254.9,106.6 255.0,106.5 255.1,105.9 255.2,107.2 255.3,106.8 255.4,106.3 255.5,106.3 255.6,106.4 255.7,107.7 255.8,107.7 255.9,107.2 256.0,107.5 256.1,106.9 256.2,107.6 256.3,108.3 256.4,108.2 256.5,107.4 256.6,108.0 256.7,107.8 256.8,107.5 256.9,108.2 257.0,107.9 257.1,108.1 257.2,107.6 257.3,108.3 257.4,106.9 257.5,106.5 257.6,107.1 257.7,107.6 257.8,107.8 257.9,107.1 258.0,107.3 258.1,107.5 258.2,106.7 258.3,107.6 258.4,108.0 258.5,107.9 258.6,107.2 258.7,106.4 258.8,107.4 258.9,106.8 259.0,107.4 259.1,106.4 259.2,106.8 259.3,107.7 259.4,106.7 259.5,107.2 259.6,107.0 259.7,106.9 259.8,107.0 259.9,105.6 260.0,106.9 260.1,106.8 260.2,107.7 260.3,106.8 260.4,107.1 260.5,107.4 260.6,106.6 260.7,107.2 260.8,107.3 260.9,107.1 261.0,106.9 261.1,107.0 261.2,107.2 261.3,106.9 261.4,107.0 261.5,106.8 261.6,106.6 261.7,106.4 261.8,106.3 261.9,106.4 262.0,106.5 262.1,106.4 262.2,106.4 262.3,106.3 262.4,105.6 262.5,105.9 262.6,106.8 262.7,106.3 262.8,107.2 262.9,107.1 263.0,106.2 263.1,106.6 263.2,106.3 263.3,105.8 263.4,106.9 263.5,105.7 263.6,106.8 263.7,106.9 263.8,106.6 263.9,106.7 264.0,105.8 264.1,106.9 264.2,105.8 264.3,105.7 264.4,106.2 264.5,106.0 264.6,105.9 264.7,105.5 264.8,104.1 264.9,104.6 265.0,105.3 265.1,105.5 265.2,105.1 265.3,104.7 265.4,105.7 265.5,104.8 265.6,104.5 265.7,104.2 265.8,103.6 265.9,104.1 266.0,103.3 266.1,103.3 266.2,103.5 266.3,103.7 266.4,102.8 266.5,102.9 266.6,103.7 266.7,103.6 266.8,103.2 266.9,103.8 267.0,103.2 267.1,103.7 267.2,103.6 267.3,103.8 267.4,104.2 267.5,104.5 267.6,104.5 267.7,105.0 267.8,104.7 267.9,105.8 268.0,105.1 268.1,104.6 268.2,105.4 268.3,105.1 268.4,105.3 268.5,104.7 268.6,105.9 268.7,106.3 268.8,106.3 268.9,106.2 269.0,106.0 269.1,106.3 269.2,106.7 269.3,106.6 269.4,106.4 269.5,106.5 269.6,107.4 269.7,106.9 269.8,107.0 269.9,106.8 270.0,107.4 270.1,107.0 270.2,106.0 270.3,107.4 270.4,106.4 270.5,106.7 270.6,108.4 270.7,107.1 270.8,106.8 270.9,106.1 271.0,107.0 271.1,107.0 271.2,106.5 271.3,106.2 271.4,106.4 271.5,107.5 271.6,107.3 271.7,107.3 271.8,108.3 271.9,106.7 272.0,108.2 272.1,107.6 272.2,106.8 272.3,106.9 272.4,107.3 272.5,106.7 272.6,106.9 272.7,107.0 272.8,107.1 272.9,107.0 273.0,107.4 273.1,106.9 273.2,106.8 273.3,107.7 273.4,107.9 273.5,106.7 273.6,107.4 273.7,108.1 273.8,107.9 273.9,108.1 274.0,108.5 274.1,108.5 274.2,107.7 274.3,108.3 274.4,108.9 274.5,108.1 274.6,108.1 274.7,107.7 274.8,107.1 274.9,106.8 275.0,107.3 275.1,108.1 275.2,107.7 275.3,107.0 275.4,107.8 275.5,108.1 275.6,106.8 275.7,107.3 275.8,107.5 275.9,107.8 276.0,107.4 276.1,107.5 276.2,107.6 276.3,107.3 276.4,107.2 276.5,107.5 276.6,106.7 276.7,108.2 276.8,107.4 276.9,108.3 277.0,108.5 277.1,107.5 277.2,108.7 277.3,108.9 277.4,108.2 277.5,108.3 277.6,108.2 277.7,109.1 277.8,109.3 277.9,109.5 278.0,109.1 278.1,109.2 278.2,108.6 278.3,109.0 278.4,108.9 278.5,108.7 278.6,109.2 278.7,108.6 278.8,109.1 278.9,108.9 279.0,108.8 279.1,108.5 279.2,109.0 279.3,108.0 279.4,107.6 279.5,107.9 279.6,108.4 279.7,108.4 279.8,107.6 279.9,107.9 280.0,108.1 280.1,107.4 280.2,107.4 280.3,107.6 280.4,107.9 280.5,108.4 280.6,107.9 280.7,107.8 280.8,107.7 280.9,108.0 281.0,107.6 281.1,108.0 281.2,108.1 281.3,107.0 281.4,107.7 281.5,108.2 281.6,107.1 281.7,107.2 281.8,107.5 281.9,106.9 282.0,106.6 282.1,107.7 282.2,106.8 282.3,107.1 282.4,106.9 282.5,108.1 282.6,107.6 282.7,107.7 282.8,107.8 282.9,107.1 283.0,107.9 283.1,107.3 283.2,107.8 283.3,108.1 283.4,108.2 283.5,107.2 283.6,108.4 283.7,108.1 283.8,108.6 283.9,108.0 284.0,107.9 284.1,108.0 284.2,108.0 284.3,107.6 284.4,107.8 284.5,108.3 284.6,107.2 284.7,108.0 284.8,106.9 284.9,108.6 285.0,107.3 285.1,107.7 285.2,107.8 285.3,107.4 285.4,107.1 285.5,107.4 285.6,107.9 285.7,107.2 285.8,107.9 285.9,107.9 286.0,107.3 286.1,108.1 286.2,107.8 286.3,107.3 286.4,107.7 286.5,107.3 286.6,108.1 286.7,108.0 286.8,108.0 286.9,108.0 287.0,107.0 287.1,107.1 287.2,108.1 287.3,106.2 287.4,106.4 287.5,106.4 287.6,106.4 287.7,106.6 287.8,106.0 287.9,105.7 288.0,106.1 288.1,105.7 288.2,105.9 288.3,105.1 288.4,106.2 288.5,106.5 288.6,105.5 288.7,106.2 288.8,106.3 288.9,105.7 289.0,106.0 289.1,106.2 289.2,105.5 289.3,105.5 289.4,105.9 289.5,106.1 289.6,105.6 289.7,106.2 289.8,105.3 289.9,106.0 290.0,105.9 290.1,105.4 290.2,106.7 290.3,106.6 290.4,106.0 290.5,106.5 290.6,106.0 290.7,106.9 290.8,106.4 290.9,106.8 291.0,106.7 291.1,107.3 291.2,107.7 291.3,107.7 291.4,107.4 291.5,107.3 291.6,107.5 291.7,108.2 291.8,108.2 291.9,108.3 292.0,108.0 292.1,108.2 292.2,109.2 292.3,107.6 292.4,107.6 292.5,107.3 292.6,107.3 292.7,108.0 292.8,108.2 292.9,108.1 293.0,109.0 293.1,108.6 293.2,108.8 293.3,108.4 293.4,107.8 293.5,108.2 293.6,107.2 293.7,108.9 293.8,107.9 293.9,108.2 294.0,107.9 294.1,107.6 294.2,108.0 294.3,107.1 294.4,108.3 294.5,107.8 294.6,108.2 294.7,108.0 294.8,108.2 294.9,107.9 295.0,107.7 295.1,107.4 295.2,108.0 295.3,107.6 295.4,107.5 295.5,107.6 295.6,108.9 295.7,108.4 295.8,108.3 295.9,107.7 296.0,108.1 296.1,108.1 296.2,108.5 296.3,107.3 296.4,108.2 296.5,108.6 296.6,106.7 296.7,107.9 296.8,107.6 296.9,107.6 297.0,106.8 297.1,107.5 297.2,106.8 297.3,107.8 297.4,107.6 297.5,107.0 297.6,108.6 297.7,108.7 297.8,108.2 297.9,107.3 298.0,107.9 298.1,108.2 298.2,106.9 298.3,107.8 298.4,107.8 298.5,107.6 298.6,108.0 298.7,108.4 298.8,107.5 298.9,107.8 299.0,108.4 299.1,107.4 299.2,107.3 299.3,107.3 299.4,107.6 299.5,107.1 299.6,106.8 299.7,106.6 299.8,106.9 299.9,108.2 300.0,108.0 300.1,106.3 300.2,107.5 300.3,107.2 300.4,107.6 300.5,108.1 300.6,107.8 300.7,107.7 300.8,106.8 300.9,107.6 301.0,107.0 301.1,107.4 301.2,107.7 301.3,107.4 301.4,108.4 301.5,107.8 301.6,107.8 301.7,107.8 301.8,108.5 301.9,107.7 302.0,107.3 302.1,107.8 302.2,107.1 302.3,107.1 302.4,107.5 302.5,107.8 302.6,106.9 302.7,107.6 302.8,107.1 302.9,107.8 303.0,107.7 303.1,107.0 303.2,106.2 303.3,107.2 303.4,107.7 303.5,107.9 303.6,107.7 303.7,106.7 303.8,106.2 303.9,107.3 304.0,107.8 304.1,108.2 304.2,107.8 304.3,107.8 304.4,108.2 304.5,107.6 304.6,106.6 304.7,107.3 304.8,107.9 304.9,106.5 305.0,106.6 305.1,107.3 305.2,107.4 305.3,106.7 305.4,106.7 305.5,107.1 305.6,106.6 305.7,106.5 305.8,106.5 305.9,107.0 306.0,107.0 306.1,106.3 306.2,106.8 306.3,106.4 306.4,107.3 306.5,106.8 306.6,107.2 306.7,106.9 306.8,106.2 306.9,107.6 307.0,106.7 307.1,106.2 307.2,105.9 307.3,106.0 307.4,108.0 307.5,106.7 307.6,107.1 307.7,107.0 307.8,106.5 307.9,106.8 308.0,106.2 308.1,106.4 308.2,107.1 308.3,106.3 308.4,106.4 308.5,106.9 308.6,107.0 308.7,107.5 308.8,106.8 308.9,107.4 309.0,107.6 309.1,107.3 309.2,106.3 309.3,107.6 309.4,106.9 309.5,107.5 309.6,107.0 309.7,107.4 309.8,106.7 309.9,106.4 310.0,106.5 310.1,106.5 310.2,106.8 310.3,106.7 310.4,107.0 310.5,107.8 310.6,107.0 310.7,106.6 310.8,106.8 310.9,106.1 311.0,107.0 311.1,107.1 311.2,107.2 311.3,107.9 311.4,107.3 311.5,106.7 311.6,107.1 311.7,106.9 311.8,107.4 311.9,106.8 312.0,106.9 312.1,107.2 312.2,106.7 312.3,107.3 312.4,106.9 312.5,106.8 312.6,108.5 312.7,106.9 312.8,107.8 312.9,106.6 313.0,107.9 313.1,107.9 313.2,107.0 313.3,107.4 313.4,107.3 313.5,107.8 313.6,107.3 313.7,107.5 313.8,108.5 313.9,107.9 314.0,108.4 314.1,107.6 314.2,108.6 314.3,108.1 314.4,107.6 314.5,107.1 314.6,108.3 314.7,108.3 314.8,107.6 314.9,107.8 315.0,107.0 315.1,108.5 315.2,108.4 315.3,107.3 315.4,107.8 315.5,107.4 315.6,107.3 315.7,107.4 315.8,107.6 315.9,107.3 316.0,107.9 316.1,107.8 316.2,107.3 316.3,107.7 316.4,107.3 316.5,108.2 316.6,107.7 316.7,107.2 316.8,108.1 316.9,107.7 317.0,107.4 317.1,107.3 317.2,108.0 317.3,107.7 317.4,108.5 317.5,108.2 317.6,108.5 317.7,108.6 317.8,108.5 317.9,108.7 318.0,108.5 318.1,108.4 318.2,107.0 318.3,107.5 318.4,107.8 318.5,108.4 318.6,107.4 318.7,108.6 318.8,108.4 318.9,108.4 319.0,108.2 319.1,108.4 319.2,108.7 319.3,107.9 319.4,108.7 319.5,107.7 319.6,108.5 319.7,109.4 319.8,108.3 319.9,108.1 320.0,108.5 320.1,108.1 320.2,107.5 320.3,108.8 320.4,108.1 320.5,108.6 320.6,108.0 320.7,107.8 320.8,107.7 320.9,107.7 321.0,107.8 321.1,107.9 321.2,107.1 321.3,107.9 321.4,108.2 321.5,108.0 321.6,109.3 321.7,108.3 321.8,108.1 321.9,108.8 322.0,109.1 322.1,108.7 322.2,109.4 322.3,108.8 322.4,108.9 322.5,108.3 322.6,108.5 322.7,108.7 322.8,109.0 322.9,109.0 323.0,109.1 323.1,108.8 323.2,107.7 323.3,108.6 323.4,109.2 323.5,109.2 323.6,109.1 323.7,108.9 323.8,108.3 323.9,109.4 324.0,109.5 324.1,108.2 324.2,108.8 324.3,108.9 324.4,109.0 324.5,109.3 324.6,108.8 324.7,108.7 324.8,108.4 324.9,108.8 325.0,108.8 325.1,108.8 325.2,108.7 325.3,108.8 325.4,108.4 325.5,108.9 325.6,108.7 325.7,108.2 325.8,108.6 325.9,108.8 326.0,108.4 326.1,109.1 326.2,108.9 326.3,108.5 326.4,108.8 326.5,108.3 326.6,108.2 326.7,108.6 326.8,108.1 326.9,108.2 327.0,108.2 327.1,108.4 327.2,107.7 327.3,108.0 327.4,108.2 327.5,108.8 327.6,109.1 327.7,108.9 327.8,108.4 327.9,109.3 328.0,109.3 328.1,108.1 328.2,109.1 328.3,108.9 328.4,108.3 328.5,108.0 328.6,108.6 328.7,108.9 328.8,109.5 328.9,109.5 329.0,109.8 329.1,108.8 329.2,109.6 329.3,108.5 329.4,109.0 329.5,109.0 329.6,109.2 329.7,108.5 329.8,108.1 329.9,109.3 330.0,109.3 330.1,108.7 330.2,108.4 330.3,108.3 330.4,109.2 330.5,108.6 330.6,108.3 330.7,108.9 330.8,107.9 330.9,108.2 331.0,107.9 331.1,108.2 331.2,108.8 331.3,108.8 331.4,107.5 331.5,108.0 331.6,108.1 331.7,107.6 331.8,108.2 331.9,107.6 332.0,108.0 332.1,108.0 332.2,107.9 332.3,109.1 332.4,108.7 332.5,109.0 332.6,109.2 332.7,107.5 332.8,108.7 332.9,108.7 333.0,108.2 333.1,108.0 333.2,109.5 333.3,109.1 333.4,107.9 333.5,109.4 333.6,108.1 333.7,108.4 333.8,107.9 333.9,109.4 334.0,108.9 334.1,107.9 334.2,108.4 334.3,108.2 334.4,108.4 334.5,107.9 334.6,107.7 334.7,108.4 334.8,107.5 334.9,108.0 335.0,108.2 335.1,108.9 335.2,108.1 335.3,108.0 335.4,106.7 335.5,107.7 335.6,107.7 335.7,108.2 335.8,107.9 335.9,107.5 336.0,108.8 336.1,108.3 336.2,109.0 336.3,109.0 336.4,108.2 336.5,108.5 336.6,109.1 336.7,109.6 336.8,109.1 336.9,108.9 337.0,108.1 337.1,108.1 337.2,108.2 337.3,109.1 337.4,108.5 337.5,108.6 337.6,108.6 337.7,108.8 337.8,108.6 337.9,108.8 338.0,108.1 338.1,109.0 338.2,109.2 338.3,109.4 338.4,109.4 338.5,108.5 338.6,108.8 338.7,109.2 338.8,109.1 338.9,108.4 339.0,109.0 339.1,109.1 339.2,108.5 339.3,108.5 339.4,108.1 339.5,108.7 339.6,108.0 339.7,109.4 339.8,107.5 339.9,108.6 340.0,108.7 340.1,108.6 340.2,108.3 340.3,108.4 340.4,107.8 340.5,109.1 340.6,108.9 340.7,109.3 340.8,109.0 340.9,108.9 341.0,109.1 341.1,108.7 341.2,108.7 341.3,108.3 341.4,108.6 341.5,108.8 341.6,109.3 341.7,109.7 341.8,109.2 341.9,108.8 342.0,108.8 342.1,109.0 342.2,108.9 342.3,109.0 342.4,109.1 342.5,108.7 342.6,109.0 342.7,107.9 342.8,109.6 342.9,108.8 343.0,108.9 343.1,108.1 343.2,108.5 343.3,109.1 343.4,108.2 343.5,108.5 343.6,109.3 343.7,108.6 343.8,109.0 343.9,108.7 344.0,108.2 344.1,107.9 344.2,108.2 344.3,108.9 344.4,108.0 344.5,107.1 344.6,107.6 344.7,107.5 344.8,107.2 344.9,107.3 345.0,107.8 345.1,108.7 345.2,108.5 345.3,107.8 345.4,107.7 345.5,108.3 345.6,109.4 345.7,108.5 345.8,109.2 345.9,109.6 346.0,109.2 346.1,109.3 346.2,107.5 346.3,109.4 346.4,108.5 346.5,108.4 346.6,108.4 346.7,109.0 346.8,109.3 346.9,108.2 347.0,108.3 347.1,108.5 347.2,108.0 347.3,108.5 347.4,108.0 347.5,108.9 347.6,109.3 347.7,109.2 347.8,109.4 347.9,109.2 348.0,109.5 348.1,109.3 348.2,110.4 348.3,109.6 348.4,109.5 348.5,108.7 348.6,109.1 348.7,109.1 348.8,109.7 348.9,109.2 349.0,109.1 349.1,108.8 349.2,109.8 349.3,108.7 349.4,109.4 349.5,109.0 349.6,110.3 349.7,108.9 349.8,109.0 349.9,108.7 350.0,109.5 350.1,110.2 350.2,108.7 350.3,109.4 350.4,107.9 350.5,108.9 350.6,108.8 350.7,109.5 350.8,109.0 350.9,108.4 351.0,109.2 351.1,109.0 351.2,108.9 351.3,109.3 351.4,108.7 351.5,108.6 351.6,109.3 351.7,109.1 351.8,109.1 351.9,110.1 352.0,108.9 352.1,109.0 352.2,109.5 352.3,108.9 352.4,109.6 352.5,108.6 352.6,109.5 352.7,108.5 352.8,108.4 352.9,109.3 353.0,108.4 353.1,108.5 353.2,108.5 353.3,108.9 353.4,109.1 353.5,110.2 353.6,109.1 353.7,109.4 353.8,109.3 353.9,108.8 354.0,109.4 354.1,108.8 354.2,109.4 354.3,108.7 354.4,108.9 354.5,108.1 354.6,108.7 354.7,109.0 354.8,108.9 354.9,108.8 355.0,109.1 355.1,108.2 355.2,109.1 355.3,108.7 355.4,108.5 355.5,108.8 355.6,109.1 355.7,107.7 355.8,107.9 355.9,108.5 356.0,109.1 356.1,108.7 356.2,109.1 356.3,109.1 356.4,107.8 356.5,108.2 356.6,108.3 356.7,109.0 356.8,108.3 356.9,108.7 357.0,108.5 357.1,108.5 357.2,109.1 357.3,108.8"/>
<polyline fill="none" stroke="#101010" stroke-width="1.55" stroke-linejoin="round" points="36.0,64.4 36.1,64.5 36.2,62.2 36.3,65.0 36.4,65.0 36.5,63.8 36.6,64.5 36.7,64.0 36.8,64.8 36.9,63.7 37.0,64.4 37.1,64.4 37.2,63.3 37.3,64.7 37.4,64.4 37.5,63.8 37.6,63.2 37.7,64.1 37.8,63.6 37.9,64.3 38.0,64.7 38.1,63.3 38.2,63.9 38.3,66.0 38.4,65.2 38.5,64.4 38.6,64.5 38.7,65.5 38.8,65.1 38.9,64.9 39.0,64.9 39.1,64.6 39.2,64.8 39.3,65.1 39.4,64.9 39.5,65.6 39.6,64.7 39.7,66.2 39.8,65.8 39.9,65.7 40.0,65.1 40.1,67.0 40.2,65.8 40.3,65.9 40.4,68.3 40.5,65.5 40.6,65.9 40.7,66.9 40.8,66.5 40.9,67.3 41.0,67.4 41.1,67.3 41.2,67.7 41.3,66.8 41.4,66.6 41.5,67.5 41.6,67.6 41.7,66.7 41.8,68.1 41.9,67.6 42.0,65.5 42.1,66.7 42.2,66.3 42.3,68.0 42.4,66.2 42.5,66.4 42.6,66.2 42.7,65.4 42.8,66.0 42.9,67.1 43.0,67.6 43.1,66.1 43.2,67.3 43.3,65.7 43.4,67.7 43.5,67.2 43.6,66.6 43.7,67.7 43.8,66.7 43.9,67.9 44.0,67.2 44.1,66.8 44.2,66.3 44.3,66.7 44.4,68.1 44.5,67.1 44.6,67.3 44.7,67.8 44.8,68.4 44.9,68.1 45.0,66.9 45.1,67.0 45.2,68.3 45.3,68.9 45.4,67.9 45.5,69.0 45.6,66.0 45.7,67.2 45.8,67.1 45.9,69.1 46.0,68.4 46.1,68.2 46.2,67.4 46.3,68.1 46.4,68.1 46.5,68.2 46.6,68.0 46.7,65.8 46.8,66.7 46.9,67.6 47.0,66.0 47.1,67.5 47.2,65.8 47.3,65.3 47.4,64.0 47.5,64.3 47.6,64.9 47.7,62.5 47.8,61.2 47.9,60.1 48.0,59.1 48.1,59.8 48.2,58.8 48.3,57.5 48.4,58.6 48.5,57.5 48.6,57.3 48.7,57.5 48.8,58.9 48.9,59.3 49.0,60.7 49.1,61.3 49.2,62.3 49.3,63.1 49.4,64.2 49.5,64.7 49.6,64.3 49.7,64.6 49.8,65.7 49.9,67.4 50.0,67.0 50.1,66.5 50.2,67.8 50.3,68.4 50.4,67.1 50.5,66.7 50.6,68.4 50.7,68.3 50.8,68.1 50.9,68.3 51.0,69.0 51.1,68.5 51.2,68.1 51.3,67.7 51.4,68.6 51.5,68.2 51.6,69.0 51.7,68.6 51.8,69.7 51.9,67.7 52.0,68.7 52.1,69.8 52.2,69.5 52.3,68.8 52.4,69.6 52.5,70.0 52.6,70.1 52.7,69.3 52.8,70.3 52.9,70.3 53.0,71.0 53.1,69.7 53.2,70.5 53.3,68.7 53.4,71.5 53.5,69.9 53.6,71.8 53.7,70.4 53.8,70.0 53.9,68.7 54.0,69.8 54.1,69.4 54.2,69.9 54.3,70.5 54.4,71.6 54.5,69.7 54.6,71.0 54.7,71.4 54.8,71.1 54.9,68.2 55.0,70.6 55.1,69.2 55.2,69.8 55.3,70.2 55.4,69.4 55.5,69.8 55.6,70.7 55.7,70.5 55.8,69.7 55.9,69.2 56.0,70.4 56.1,70.3 56.2,69.3 56.3,69.8 56.4,69.1 56.5,69.1 56.6,69.5 56.7,69.5 56.8,69.5 56.9,70.0 57.0,69.3 57.1,69.8 57.2,70.1 57.3,70.1 57.4,71.5 57.5,70.1 57.6,69.9 57.7,70.0 57.8,71.6 57.9,70.8 58.0,70.1 58.1,69.4 58.2,70.9 58.3,70.7 58.4,70.3 58.5,68.9 58.6,69.8 58.7,69.8 58.8,68.8 58.9,70.1 59.0,69.4 59.1,69.0 59.2,69.3 59.3,69.3 59.4,68.8 59.5,69.1 59.6,68.7 59.7,69.1 59.8,69.1 59.9,69.9 60.0,69.8 60.1,69.8 60.2,71.0 60.3,69.7 60.4,70.8 60.5,70.3 60.6,69.9 60.7,69.5 60.8,69.4 60.9,71.0 61.0,69.8 61.1,71.4 61.2,70.5 61.3,70.0 61.4,70.6 61.5,71.0 61.6,69.7 61.7,70.1 61.8,71.0 61.9,70.7 62.0,70.5 62.1,69.6 62.2,70.7 62.3,70.4 62.4,71.0 62.5,71.0 62.6,71.1 62.7,70.6 62.8,70.8 62.9,71.4 63.0,69.7 63.1,71.2 63.2,71.6 63.3,70.7 63.4,71.1 63.5,70.7 63.6,71.5 63.7,71.7 63.8,70.4 63.9,70.2 64.0,70.2 64.1,70.2 64.2,71.3 64.3,70.8 64.4,69.3 64.5,70.5 64.6,69.6 64.7,71.0 64.8,71.3 64.9,69.9 65.0,71.0 65.1,71.4 65.2,70.0 65.3,70.5 65.4,70.3 65.5,70.6 65.6,71.1 65.7,72.1 65.8,72.1 65.9,71.8 66.0,71.0 66.1,71.3 66.2,69.9 66.3,71.9 66.4,71.2 66.5,71.9 66.6,72.2 66.7,71.8 66.8,71.0 66.9,71.9 67.0,70.4 67.1,71.9 67.2,71.5 67.3,71.2 67.4,71.5 67.5,71.4 67.6,70.7 67.7,70.8 67.8,72.1 67.9,71.0 68.0,71.7 68.1,70.7 68.2,70.7 68.3,72.2 68.4,71.1 68.5,70.9 68.6,68.3 68.7,71.1 68.8,71.5 68.9,71.5 69.0,70.9 69.1,72.0 69.2,72.4 69.3,71.5 69.4,71.0 69.5,70.9 69.6,72.0 69.7,71.0 69.8,72.1 69.9,69.8 70.0,71.2 70.1,71.8 70.2,70.7 70.3,71.6 70.4,70.2 70.5,71.7 70.6,71.6 70.7,70.8 70.8,70.5 70.9,70.7 71.0,69.8 71.1,69.1 71.2,70.3 71.3,69.4 71.4,69.0 71.5,68.6 71.6,67.0 71.7,67.3 71.8,65.7 71.9,65.3 72.0,65.2 72.1,65.7 72.2,65.9 72.3,65.9 72.4,66.5 72.5,66.9 72.6,67.8 72.7,68.8 72.8,69.3 72.9,70.1 73.0,69.9 73.1,70.3 73.2,69.5 73.3,69.8 73.4,69.3 73.5,69.9 73.6,70.1 73.7,68.4 73.8,69.1 73.9,68.7 74.0,68.2 74.1,66.3 74.2,66.3 74.3,65.6 74.4,65.2 74.5,65.2 74.6,65.3 74.7,64.7 74.8,66.4 74.9,68.1 75.0,69.2 75.1,68.8 75.2,69.1 75.3,70.7 75.4,71.1 75.5,71.0 75.6,70.7 75.7,71.2 75.8,72.0 75.9,72.3 76.0,71.7 76.1,72.5 76.2,73.4 76.3,72.1 76.4,71.6 76.5,70.6 76.6,71.8 76.7,71.7 76.8,71.1 76.9,70.9 77.0,71.0 77.1,70.8 77.2,72.3 77.3,71.8 77.4,71.4 77.5,71.5 77.6,72.1 77.7,72.0 77.8,72.1 77.9,72.0 78.0,71.5 78.1,72.6 78.2,72.0 78.3,72.7 78.4,72.9 78.5,71.0 78.6,72.4 78.7,71.8 78.8,72.0 78.9,72.2 79.0,71.8 79.1,71.4 79.2,73.1 79.3,72.1 79.4,73.1 79.5,71.1 79.6,71.1 79.7,72.3 79.8,71.6 79.9,72.3 80.0,71.7 80.1,73.4 80.2,72.6 80.3,72.0 80.4,73.2 80.5,72.5 80.6,71.7 80.7,71.8 80.8,71.9 80.9,73.4 81.0,72.7 81.1,72.6 81.2,73.5 81.3,73.3 81.4,72.5 81.5,73.6 81.6,72.4 81.7,72.0 81.8,73.8 81.9,72.9 82.0,73.6 82.1,72.6 82.2,73.5 82.3,74.2 82.4,74.0 82.5,72.8 82.6,73.1 82.7,74.3 82.8,73.6 82.9,73.1 83.0,74.0 83.1,72.1 83.2,72.9 83.3,73.5 83.4,73.4 83.5,72.2 83.6,73.1 83.7,72.7 83.8,71.9 83.9,72.2 84.0,73.0 84.1,72.3 84.2,72.3 84.3,72.1 84.4,72.1 84.5,71.5 84.6,72.3 84.7,72.0 84.8,72.3 84.9,71.8 85.0,71.4 85.1,72.6 85.2,72.1 85.3,72.8 85.4,72.3 85.5,73.1 85.6,73.6 85.7,73.2 85.8,72.9 85.9,73.9 86.0,73.8 86.1,73.3 86.2,73.5 86.3,72.6 86.4,72.6 86.5,73.6 86.6,72.8 86.7,72.7 86.8,73.8 86.9,73.9 87.0,73.5 87.1,72.5 87.2,73.1 87.3,73.1 87.4,72.5 87.5,73.2 87.6,72.8 87.7,73.4 87.8,72.9 87.9,73.5 88.0,72.2 88.1,72.8 88.2,72.9 88.3,73.1 88.4,72.3 88.5,72.3 88.6,71.4 88.7,72.8 88.8,73.1 88.9,73.4 89.0,71.5 89.1,72.7 89.2,72.5 89.3,73.0 89.4,72.9 89.5,72.5 89.6,72.0 89.7,71.4 89.8,73.0 89.9,71.9 90.0,71.6 90.1,72.2 90.2,73.4 90.3,73.6 90.4,73.3 90.5,73.0 90.6,72.2 90.7,72.2 90.8,72.5 90.9,72.5 91.0,73.6 91.1,73.9 91.2,71.6 91.3,73.0 91.4,73.1 91.5,72.3 91.6,73.4 91.7,72.8 91.8,73.4 91.9,72.6 92.0,74.0 92.1,72.6 92.2,72.8 92.3,72.6 92.4,73.6 92.5,73.3 92.6,73.4 92.7,73.3 92.8,72.1 92.9,73.4 93.0,74.2 93.1,73.9 93.2,73.3 93.3,73.3 93.4,73.6 93.5,74.3 93.6,73.6 93.7,73.2 93.8,73.5 93.9,73.8 94.0,73.6 94.1,72.7 94.2,72.9 94.3,74.0 94.4,72.9 94.5,73.8 94.6,73.3 94.7,73.5 94.8,73.6 94.9,73.4 95.0,72.6 95.1,73.0 95.2,73.3 95.3,73.1 95.4,72.8 95.5,73.3 95.6,72.9 95.7,73.8 95.8,73.0 95.9,72.0 96.0,72.5 96.1,72.4 96.2,71.6 96.3,72.4 96.4,72.3 96.5,73.1 96.6,73.0 96.7,73.0 96.8,73.2 96.9,72.3 97.0,73.1 97.1,72.8 97.2,71.7 97.3,73.8 97.4,73.1 97.5,73.8 97.6,72.9 97.7,71.8 97.8,72.3 97.9,73.2 98.0,73.7 98.1,73.6 98.2,73.9 98.3,72.7 98.4,72.4 98.5,73.2 98.6,71.9 98.7,72.9 98.8,72.6 98.9,72.4 99.0,73.0 99.1,72.4 99.2,72.6 99.3,72.5 99.4,72.1 99.5,72.4 99.6,72.6 99.7,72.3 99.8,73.6 99.9,72.2 100.0,71.5 100.1,72.4 100.2,73.2 100.3,72.9 100.4,74.0 100.5,73.4 100.6,73.4 100.7,73.1 100.8,73.1 100.9,73.1 101.0,73.1 101.1,73.1 101.2,73.1 101.3,72.7 101.4,73.5 101.5,73.1 101.6,73.3 101.7,73.3 101.8,73.3 101.9,73.9 102.0,73.3 102.1,74.0 102.2,73.4 102.3,72.9 102.4,74.1 102.5,73.5 102.6,72.8 102.7,74.1 102.8,73.8 102.9,74.2 103.0,73.2 103.1,75.2 103.2,73.4 103.3,73.8 103.4,73.3 103.5,73.3 103.6,73.1 103.7,73.2 103.8,73.4 103.9,73.3 104.0,72.4 104.1,73.4 104.2,73.2 104.3,73.9 104.4,72.9 104.5,72.9 104.6,72.7 104.7,74.2 104.8,73.0 104.9,72.9 105.0,73.5 105.1,74.1 105.2,73.1 105.3,73.4 105.4,72.9 105.5,73.8 105.6,73.0 105.7,74.0 105.8,72.9 105.9,73.6 106.0,73.7 106.1,73.8 106.2,72.6 106.3,72.4 106.4,72.4 106.5,73.3 106.6,72.3 106.7,71.8 106.8,72.3 106.9,72.1 107.0,71.7 107.1,73.0 107.2,72.7 107.3,72.8 107.4,73.1 107.5,72.6 107.6,72.8 107.7,73.8 107.8,73.0 107.9,73.8 108.0,72.6 108.1,74.0 108.2,73.7 108.3,73.3 108.4,72.8 108.5,72.0 108.6,72.7 108.7,72.4 108.8,72.6 108.9,72.1 109.0,72.8 109.1,72.2 109.2,72.5 109.3,71.4 109.4,72.6 109.5,72.2 109.6,72.8 109.7,71.0 109.8,72.1 109.9,72.3 110.0,71.8 110.1,72.2 110.2,72.6 110.3,71.9 110.4,72.3 110.5,73.0 110.6,72.1 110.7,73.8 110.8,72.6 110.9,72.7 111.0,72.2 111.1,73.3 111.2,72.3 111.3,72.9 111.4,72.5 111.5,72.5 111.6,72.0 111.7,72.1 111.8,72.0 111.9,72.3 112.0,72.5 112.1,72.1 112.2,72.4 112.3,72.1 112.4,72.0 112.5,73.2 112.6,72.6 112.7,72.8 112.8,73.6 112.9,73.2 113.0,72.6 113.1,73.6 113.2,73.3 113.3,74.5 113.4,73.3 113.5,73.1 113.6,73.2 113.7,73.4 113.8,73.0 113.9,73.3 114.0,72.8 114.1,72.7 114.2,73.0 114.3,72.4 114.4,72.7 114.5,72.5 114.6,71.3 114.7,71.7 114.8,72.6 114.9,72.0 115.0,72.5 115.1,72.0 115.2,72.2 115.3,72.1 115.4,72.2 115.5,72.1 115.6,72.9 115.7,72.1 115.8,72.6 115.9,72.5 116.0,73.0 116.1,71.8 116.2,72.8 116.3,72.3 116.4,72.2 116.5,72.3 116.6,72.1 116.7,72.6 116.8,72.8 116.9,72.6 117.0,73.0 117.1,72.8 117.2,73.1 117.3,71.9 117.4,72.4 117.5,72.7 117.6,72.9 117.7,72.6 117.8,73.2 117.9,72.9 118.0,72.0 118.1,72.9 118.2,74.2 118.3,72.5 118.4,72.7 118.5,72.4 118.6,73.0 118.7,73.5 118.8,73.7 118.9,72.6 119.0,72.4 119.1,72.1 119.2,71.8 119.3,72.4 119.4,71.6 119.5,71.5 119.6,70.9 119.7,72.2 119.8,71.7 119.9,72.2 120.0,71.2 120.1,71.2 120.2,70.6 120.3,70.2 120.4,70.3 120.5,69.0 120.6,69.9 120.7,69.3 120.8,69.5 120.9,69.4 121.0,68.4 121.1,68.8 121.2,68.5 121.3,67.7 121.4,68.2 121.5,67.1 121.6,67.3 121.7,67.3 121.8,66.5 121.9,67.1 122.0,66.2 122.1,66.8 122.2,66.7 122.3,66.9 122.4,67.5 122.5,66.8 122.6,66.8 122.7,68.5 122.8,68.0 122.9,68.0 123.0,69.5 123.1,69.1 123.2,69.7 123.3,70.2 123.4,70.0 123.5,69.7 123.6,69.7 123.7,71.0 123.8,70.9 123.9,70.8 124.0,71.0 124.1,70.8 124.2,71.3 124.3,72.1 124.4,72.0 124.5,72.6 124.6,71.6 124.7,72.5 124.8,73.1 124.9,72.2 125.0,73.0 125.1,73.8 125.2,72.1 125.3,72.4 125.4,72.9 125.5,72.9 125.6,73.0 125.7,72.7 125.8,72.2 125.9,71.6 126.0,73.2 126.1,72.1 126.2,72.3 126.3,72.2 126.4,72.3 126.5,73.0 126.6,73.1 126.7,72.6 126.8,72.9 126.9,73.0 127.0,71.8 127.1,73.6 127.2,73.7 127.3,72.4 127.4,72.0 127.5,73.7 127.6,73.6 127.7,73.4 127.8,72.8 127.9,74.0 128.0,73.0 128.1,73.5 128.2,73.4 128.3,73.0 128.4,73.5 128.5,72.4 128.6,73.5 128.7,73.2 128.8,72.7 128.9,73.2 129.0,73.0 129.1,73.0 129.2,72.7 129.3,72.3 129.4,73.7 129.5,73.3 129.6,74.0 129.7,72.8 129.8,73.4 129.9,73.6 130.0,73.0 130.1,72.8 130.2,71.7 130.3,72.8 130.4,73.9 130.5,72.5 130.6,72.1 130.7,72.8 130.8,72.4 130.9,73.2 131.0,72.9 131.1,73.6 131.2,72.2 131.3,73.6 131.4,72.0 131.5,72.0 131.6,73.3 131.7,72.5 131.8,73.2 131.9,72.8 132.0,71.7 132.1,72.0 132.2,72.3 132.3,72.9 132.4,72.3 132.5,72.7 132.6,74.0 132.7,73.0 132.8,73.0 132.9,73.6 133.0,72.2 133.1,73.1 133.2,73.6 133.3,73.3 133.4,72.6 133.5,74.1 133.6,72.7 133.7,72.9 133.8,72.7 133.9,73.2 134.0,73.9 134.1,72.6 134.2,73.1 134.3,72.5 134.4,73.1 134.5,72.6 134.6,73.1 134.7,73.8 134.8,72.6 134.9,73.7 135.0,73.3 135.1,72.4 135.2,73.6 135.3,73.8 135.4,73.1 135.5,73.6 135.6,73.6 135.7,73.0 135.8,72.6 135.9,72.6 136.0,73.3 136.1,72.9 136.2,72.8 136.3,72.7 136.4,71.3 136.5,72.2 136.6,72.7 136.7,72.8 136.8,73.0 136.9,71.9 137.0,72.0 137.1,72.5 137.2,72.1 137.3,71.9 137.4,72.2 137.5,72.6 137.6,73.2 137.7,73.1 137.8,72.7 137.9,72.7 138.0,72.8 138.1,73.4 138.2,73.6 138.3,73.9 138.4,72.6 138.5,73.3 138.6,72.9 138.7,73.8 138.8,73.1 138.9,73.3 139.0,73.2 139.1,72.8 139.2,73.0 139.3,72.4 139.4,72.8 139.5,72.9 139.6,73.2 139.7,73.6 139.8,73.2 139.9,73.4 140.0,74.4 140.1,73.0 140.2,73.8 140.3,74.1 140.4,75.0 140.5,73.9 140.6,74.0 140.7,74.2 140.8,73.9 140.9,74.3 141.0,74.9 141.1,74.4 141.2,73.6 141.3,75.2 141.4,74.4 141.5,74.9 141.6,74.6 141.7,75.2 141.8,74.6 141.9,74.6 142.0,74.4 142.1,74.8 142.2,73.8 142.3,74.1 142.4,74.5 142.5,74.0 142.6,75.1 142.7,74.0 142.8,73.9 142.9,74.1 143.0,74.6 143.1,73.9 143.2,74.2 143.3,74.6 143.4,74.5 143.5,73.9 143.6,73.8 143.7,74.3 143.8,74.7 143.9,74.0 144.0,74.8 144.1,74.3 144.2,75.9 144.3,74.4 144.4,74.3 144.5,74.8 144.6,74.5 144.7,74.5 144.8,74.0 144.9,74.6 145.0,75.4 145.1,74.5 145.2,73.9 145.3,74.6 145.4,74.2 145.5,74.2 145.6,74.2 145.7,74.6 145.8,74.4 145.9,74.6 146.0,74.8 146.1,75.4 146.2,75.4 146.3,74.3 146.4,74.4 146.5,74.1 146.6,74.7 146.7,74.6 146.8,72.6 146.9,73.7 147.0,73.5 147.1,74.1 147.2,73.3 147.3,74.4 147.4,73.4 147.5,73.8 147.6,73.3 147.7,72.9 147.8,74.0 147.9,75.1 148.0,75.2 148.1,73.9 148.2,73.7 148.3,74.0 148.4,74.2 148.5,74.7 148.6,75.1 148.7,74.6 148.8,74.9 148.9,74.4 149.0,74.4 149.1,75.1 149.2,75.2 149.3,74.9 149.4,74.8 149.5,74.7 149.6,74.4 149.7,75.5 149.8,74.5 149.9,73.6 150.0,74.8 150.1,74.5 150.2,74.5 150.3,74.5 150.4,73.2 150.5,73.9 150.6,73.9 150.7,74.7 150.8,74.4 150.9,73.7 151.0,72.9 151.1,73.7 151.2,74.0 151.3,74.5 151.4,74.2 151.5,74.5 151.6,74.4 151.7,73.7 151.8,74.2 151.9,74.0 152.0,73.8 152.1,74.0 152.2,74.1 152.3,73.6 152.4,73.8 152.5,75.1 152.6,74.2 152.7,73.1 152.8,73.4 152.9,74.1 153.0,73.5 153.1,73.2 153.2,74.2 153.3,73.6 153.4,74.6 153.5,73.7 153.6,73.7 153.7,74.5 153.8,74.1 153.9,73.7 154.0,74.2 154.1,74.0 154.2,74.0 154.3,74.5 154.4,73.1 154.5,73.5 154.6,73.8 154.7,72.5 154.8,73.1 154.9,72.8 155.0,71.8 155.1,71.7 155.2,72.9 155.3,72.7 155.4,72.2 155.5,71.9 155.6,71.7 155.7,72.2 155.8,71.4 155.9,72.4 156.0,72.3 156.1,71.3 156.2,71.0 156.3,71.9 156.4,72.1 156.5,71.2 156.6,70.8 156.7,72.2 156.8,70.9 156.9,70.0 157.0,70.7 157.1,70.1 157.2,69.9 157.3,69.5 157.4,70.1 157.5,69.9 157.6,70.1 157.7,69.6 157.8,68.0 157.9,69.4 158.0,68.2 158.1,70.0 158.2,68.2 158.3,68.1 158.4,68.1 158.5,67.4 158.6,67.2 158.7,68.2 158.8,67.6 158.9,66.7 159.0,67.0 159.1,66.7 159.2,65.9 159.3,67.3 159.4,67.4 159.5,66.5 159.6,65.7 159.7,66.8 159.8,66.8 159.9,65.6 160.0,66.7 160.1,66.4 160.2,66.8 160.3,66.6 160.4,67.7 160.5,66.7 160.6,66.4 160.7,65.7 160.8,65.5 160.9,66.2 161.0,65.0 161.1,64.4 161.2,64.3 161.3,63.5 161.4,63.1 161.5,62.0 161.6,62.0 161.7,60.1 161.8,59.9 161.9,59.4 162.0,58.0 162.1,58.4 162.2,57.2 162.3,56.0 162.4,58.4 162.5,58.2 162.6,59.4 162.7,59.3 162.8,60.1 162.9,60.4 163.0,62.5 163.1,63.4 163.2,64.0 163.3,63.8 163.4,66.1 163.5,65.9 163.6,66.2 163.7,66.7 163.8,67.4 163.9,68.3 164.0,67.9 164.1,69.7 164.2,68.5 164.3,69.4 164.4,69.1 164.5,69.5 164.6,69.8 164.7,70.4 164.8,70.2 164.9,70.7 165.0,70.4 165.1,70.9 165.2,70.5 165.3,70.7 165.4,70.9 165.5,70.5 165.6,71.6 165.7,70.8 165.8,71.3 165.9,71.9 166.0,71.6 166.1,72.2 166.2,72.1 166.3,72.4 166.4,71.4 166.5,72.6 166.6,71.8 166.7,71.8 166.8,71.9 166.9,71.8 167.0,72.3 167.1,71.4 167.2,72.2 167.3,71.5 167.4,72.1 167.5,72.6 167.6,72.4 167.7,72.8 167.8,72.7 167.9,72.2 168.0,72.4 168.1,72.4 168.2,73.2 168.3,72.7 168.4,72.9 168.5,73.7 168.6,73.0 168.7,73.1 168.8,73.6 168.9,73.0 169.0,73.4 169.1,73.2 169.2,73.0 169.3,73.4 169.4,73.1 169.5,74.5 169.6,74.1 169.7,73.7 169.8,74.3 169.9,74.1 170.0,73.4 170.1,73.6 170.2,73.4 170.3,73.6 170.4,73.3 170.5,73.8 170.6,72.7 170.7,72.7 170.8,73.6 170.9,74.4 171.0,73.9 171.1,74.1 171.2,74.1 171.3,73.8 171.4,74.0 171.5,73.5 171.6,74.0 171.7,73.5 171.8,74.1 171.9,73.0 172.0,73.6 172.1,73.0 172.2,73.6 172.3,73.6 172.4,73.2 172.5,73.7 172.6,74.8 172.7,73.4 172.8,74.4 172.9,73.2 173.0,73.7 173.1,73.9 173.2,74.7 173.3,73.1 173.4,73.2 173.5,74.0 173.6,74.1 173.7,73.8 173.8,73.6 173.9,73.3 174.0,73.9 174.1,73.2 174.2,73.7 174.3,73.5 174.4,73.2 174.5,72.2 174.6,73.0 174.7,72.8 174.8,74.0 174.9,72.9 175.0,72.6 175.1,73.8 175.2,74.2 175.3,73.7 175.4,73.2 175.5,72.8 175.6,73.2 175.7,73.0 175.8,73.2 175.9,73.7 176.0,72.8 176.1,73.4 176.2,73.8 176.3,73.6 176.4,73.5 176.5,72.9 176.6,73.1 176.7,72.5 176.8,72.3 176.9,73.0 177.0,73.2 177.1,73.2 177.2,72.5 177.3,72.7 177.4,72.6 177.5,74.1 177.6,73.5 177.7,72.3 177.8,73.2 177.9,72.4 178.0,73.1 178.1,72.1 178.2,72.5 178.3,72.2 178.4,72.6 178.5,72.7 178.6,73.7 178.7,72.7 178.8,72.5 178.9,72.6 179.0,72.7 179.1,72.7 179.2,72.8 179.3,72.6 179.4,73.3 179.5,72.4 179.6,73.5 179.7,73.4 179.8,72.9 179.9,73.1 180.0,71.8 180.1,71.8 180.2,71.9 180.3,71.6 180.4,72.2 180.5,71.5 180.6,70.8 180.7,71.2 180.8,70.7 180.9,70.5 181.0,70.4 181.1,70.2 181.2,71.3 181.3,69.9 181.4,70.8 181.5,70.7 181.6,70.6 181.7,70.4 181.8,70.6 181.9,70.3 182.0,70.0 182.1,70.6 182.2,70.8 182.3,69.4 182.4,69.9 182.5,70.5 182.6,70.9 182.7,70.7 182.8,72.2 182.9,71.5 183.0,72.3 183.1,72.1 183.2,71.3 183.3,71.6 183.4,72.2 183.5,72.7 183.6,73.2 183.7,73.1 183.8,73.0 183.9,73.2 184.0,73.4 184.1,73.0 184.2,72.4 184.3,73.1 184.4,73.4 184.5,73.6 184.6,73.7 184.7,74.0 184.8,73.1 184.9,73.9 185.0,73.5 185.1,73.5 185.2,74.4 185.3,73.5 185.4,74.3 185.5,73.7 185.6,74.5 185.7,73.7 185.8,73.9 185.9,74.4 186.0,74.1 186.1,74.2 186.2,74.3 186.3,74.0 186.4,74.1 186.5,74.5 186.6,74.3 186.7,74.8 186.8,74.6 186.9,73.4 187.0,74.1 187.1,73.7 187.2,73.4 187.3,74.6 187.4,74.0 187.5,74.0 187.6,74.5 187.7,74.4 187.8,74.5 187.9,74.2 188.0,74.5 188.1,74.9 188.2,74.8 188.3,74.4 188.4,74.9 188.5,74.2 188.6,74.5 188.7,75.1 188.8,74.7 188.9,74.3 189.0,75.4 189.1,74.9 189.2,75.0 189.3,73.8 189.4,74.1 189.5,74.1 189.6,74.1 189.7,74.9 189.8,74.2 189.9,75.0 190.0,74.0 190.1,74.2 190.2,73.8 190.3,73.8 190.4,75.4 190.5,74.9 190.6,74.2 190.7,74.3 190.8,75.0 190.9,74.9 191.0,75.3 191.1,74.4 191.2,74.4 191.3,74.7 191.4,74.6 191.5,74.8 191.6,74.9 191.7,74.7 191.8,74.7 191.9,75.6 192.0,75.2 192.1,75.0 192.2,75.2 192.3,75.3 192.4,75.4 192.5,74.5 192.6,75.6 192.7,74.9 192.8,75.5 192.9,75.3 193.0,75.9 193.1,74.6 193.2,75.4 193.3,75.9 193.4,74.9 193.5,74.8 193.6,75.5 193.7,74.6 193.8,74.6 193.9,75.5 194.0,75.6 194.1,74.6 194.2,73.9 194.3,75.1 194.4,75.2 194.5,75.0 194.6,75.8 194.7,75.7 194.8,75.6 194.9,74.6 195.0,75.1 195.1,75.6 195.2,75.6 195.3,75.3 195.4,75.2 195.5,75.9 195.6,75.4 195.7,76.0 195.8,75.3 195.9,74.9 196.0,75.0 196.1,75.3 196.2,74.8 196.3,75.0 196.4,75.6 196.5,74.5 196.6,75.1 196.7,74.8 196.8,74.4 196.9,74.9 197.0,75.5 197.1,75.6 197.2,75.3 197.3,75.0 197.4,76.0 197.5,75.0 197.6,75.4 197.7,74.9 197.8,74.8 197.9,75.6 198.0,75.5 198.1,75.9 198.2,75.1 198.3,75.1 198.4,75.5 198.5,76.1 198.6,76.1 198.7,74.9 198.8,75.4 198.9,75.9 199.0,75.7 199.1,74.9 199.2,76.1 199.3,75.0 199.4,75.2 199.5,75.4 199.6,76.0 199.7,75.2 199.8,75.6 199.9,74.9 200.0,75.7 200.1,75.7 200.2,74.4 200.3,75.5 200.4,74.8 200.5,75.4 200.6,74.7 200.7,75.3 200.8,75.5 200.9,75.2 201.0,75.0 201.1,74.8 201.2,75.0 201.3,74.5 201.4,74.5 201.5,75.7 201.6,74.6 201.7,74.4 201.8,75.3 201.9,75.5 202.0,75.4 202.1,75.8 202.2,75.9 202.3,76.2 202.4,75.2 202.5,76.2 202.6,75.9 202.7,75.9 202.8,75.0 202.9,75.4 203.0,75.9 203.1,76.1 203.2,75.3 203.3,75.2 203.4,75.5 203.5,75.2 203.6,75.5 203.7,75.3 203.8,75.2 203.9,75.2 204.0,75.5 204.1,74.6 204.2,74.3 204.3,74.6 204.4,75.7 204.5,75.0 204.6,75.4 204.7,75.5 204.8,75.3 204.9,74.6 205.0,74.6 205.1,74.5 205.2,74.1 205.3,75.1 205.4,75.6 205.5,75.6 205.6,75.2 205.7,75.4 205.8,75.4 205.9,75.8 206.0,75.4 206.1,74.9 206.2,75.3 206.3,75.5 206.4,75.8 206.5,76.3 206.6,76.2 206.7,75.5 206.8,76.3 206.9,75.8 207.0,76.0 207.1,76.0 207.2,76.1 207.3,75.6 207.4,76.2 207.5,75.8 207.6,76.3 207.7,75.7 207.8,75.1 207.9,75.6 208.0,75.0 208.1,75.9 208.2,74.7 208.3,75.5 208.4,73.9 208.5,75.3 208.6,74.7 208.7,75.4 208.8,74.9 208.9,75.1 209.0,75.4 209.1,74.8 209.2,75.5 209.3,75.3 209.4,75.5 209.5,75.7 209.6,76.3 209.7,76.1 209.8,75.7 209.9,75.7 210.0,75.9 210.1,75.6 210.2,75.6 210.3,75.7 210.4,75.6 210.5,75.5 210.6,76.1 210.7,74.9 210.8,75.6 210.9,75.6 211.0,75.8 211.1,76.2 211.2,75.1 211.3,76.2 211.4,75.8 211.5,75.7 211.6,76.0 211.7,76.2 211.8,76.8 211.9,76.2 212.0,75.9 212.1,75.9 212.2,76.0 212.3,76.6 212.4,76.6 212.5,76.5 212.6,76.5 212.7,75.4 212.8,75.9 212.9,75.9 213.0,76.0 213.1,75.4 213.2,75.3 213.3,76.3 213.4,74.4 213.5,75.6 213.6,75.2 213.7,75.2 213.8,75.4 213.9,76.0 214.0,75.3 214.1,74.6 214.2,75.8 214.3,75.5 214.4,75.5 214.5,75.5 214.6,76.0 214.7,76.2 214.8,75.5 214.9,74.7 215.0,74.5 215.1,75.0 215.2,75.0 215.3,74.8 215.4,75.2 215.5,75.7 215.6,75.7 215.7,75.5 215.8,75.0 215.9,74.9 216.0,75.4 216.1,74.9 216.2,75.8 216.3,75.1 216.4,75.5 216.5,75.2 216.6,75.4 216.7,74.5 216.8,74.5 216.9,75.1 217.0,74.8 217.1,74.4 217.2,75.3 217.3,74.7 217.4,74.3 217.5,73.4 217.6,73.2 217.7,73.1 217.8,74.5 217.9,74.2 218.0,72.1 218.1,73.6 218.2,73.5 218.3,73.8 218.4,73.9 218.5,74.7 218.6,73.5 218.7,73.7 218.8,73.5 218.9,73.7 219.0,72.6 219.1,73.4 219.2,72.9 219.3,73.6 219.4,73.0 219.5,72.8 219.6,73.6 219.7,72.9 219.8,73.0 219.9,72.9 220.0,73.1 220.1,73.4 220.2,73.1 220.3,73.0 220.4,73.2 220.5,73.0 220.6,73.6 220.7,74.6 220.8,73.9 220.9,74.1 221.0,74.6 221.1,74.1 221.2,74.1 221.3,74.7 221.4,74.1 221.5,74.4 221.6,74.2 221.7,74.8 221.8,74.2 221.9,74.3 222.0,74.8 222.1,74.8 222.2,74.9 222.3,75.2 222.4,74.5 222.5,74.7 222.6,73.9 222.7,74.5 222.8,74.7 222.9,74.5 223.0,74.6 223.1,74.6 223.2,74.3 223.3,74.1 223.4,74.7 223.5,74.1 223.6,74.1 223.7,74.4 223.8,74.2 223.9,74.4 224.0,73.9 224.1,74.6 224.2,74.1 224.3,74.8 224.4,74.4 224.5,75.7 224.6,74.8 224.7,75.6 224.8,75.0 224.9,75.0 225.0,75.9 225.1,76.0 225.2,75.4 225.3,75.3 225.4,76.3 225.5,75.4 225.6,75.5 225.7,74.6 225.8,75.9 225.9,76.0 226.0,75.4 226.1,75.4 226.2,74.9 226.3,75.9 226.4,75.0 226.5,75.1 226.6,75.5 226.7,76.2 226.8,75.3 226.9,75.7 227.0,76.2 227.1,76.1 227.2,75.8 227.3,75.0 227.4,75.6 227.5,76.1 227.6,76.2 227.7,75.4 227.8,75.7 227.9,76.5 228.0,76.0 228.1,75.5 228.2,75.6 228.3,75.7 228.4,75.4 228.5,75.4 228.6,75.3 228.7,75.1 228.8,74.8 228.9,75.4 229.0,76.1 229.1,75.3 229.2,75.8 229.3,75.4 229.4,75.2 229.5,75.7 229.6,75.9 229.7,75.6 229.8,76.1 229.9,75.5 230.0,75.5 230.1,75.6 230.2,76.3 230.3,75.9 230.4,75.8 230.5,76.6 230.6,75.0 230.7,74.8 230.8,76.2 230.9,75.3 231.0,75.4 231.1,75.7 231.2,75.5 231.3,75.3 231.4,75.8 231.5,74.6 231.6,75.3 231.7,75.6 231.8,74.7 231.9,74.5 232.0,75.9 232.1,74.5 232.2,74.6 232.3,74.9 232.4,75.2 232.5,75.1 232.6,74.1 232.7,74.6 232.8,74.5 232.9,74.9 233.0,74.9 233.1,74.4 233.2,75.1 233.3,74.4 233.4,75.1 233.5,75.6 233.6,74.7 233.7,74.7 233.8,75.2 233.9,75.1 234.0,75.7 234.1,76.2 234.2,74.6 234.3,74.4 234.4,75.4 234.5,74.9 234.6,76.5 234.7,74.7 234.8,76.2 234.9,75.7 235.0,75.6 235.1,74.8 235.2,74.9 235.3,75.6 235.4,75.7 235.5,75.8 235.6,75.9 235.7,75.2 235.8,76.1 235.9,75.1 236.0,74.9 236.1,73.9 236.2,74.9 236.3,75.5 236.4,74.7 236.5,75.0 236.6,74.9 236.7,75.0 236.8,75.2 236.9,75.4 237.0,74.5 237.1,74.3 237.2,74.6 237.3,75.3 237.4,75.3 237.5,73.8 237.6,75.5 237.7,75.4 237.8,74.8 237.9,75.2 238.0,74.1 238.1,75.4 238.2,75.3 238.3,75.7 238.4,75.7 238.5,75.5 238.6,75.7 238.7,74.4 238.8,75.2 238.9,75.0 239.0,75.6 239.1,75.6 239.2,75.2 239.3,74.9 239.4,75.8 239.5,75.1 239.6,75.1 239.7,75.6 239.8,74.8 239.9,75.1 240.0,76.1 240.1,75.1 240.2,75.7 240.3,74.9 240.4,75.0 240.5,75.1 240.6,74.7 240.7,74.7 240.8,74.9 240.9,75.0 241.0,74.8 241.1,74.6 241.2,74.4 241.3,74.7 241.4,75.0 241.5,74.1 241.6,75.0 241.7,74.6 241.8,75.2 241.9,74.7 242.0,75.0 242.1,75.3 242.2,74.8 242.3,75.7 242.4,74.1 242.5,75.2 242.6,74.7 242.7,74.2 242.8,75.2 242.9,74.8 243.0,75.1 243.1,74.2 243.2,74.6 243.3,74.1 243.4,74.3 243.5,73.6 243.6,74.5 243.7,73.8 243.8,73.5 243.9,74.3 244.0,73.6 244.1,74.3 244.2,74.4 244.3,73.3 244.4,73.5 244.5,73.4 244.6,73.1 244.7,73.2 244.8,73.1 244.9,72.9 245.0,73.0 245.1,73.8 245.2,73.3 245.3,73.0 245.4,73.1 245.5,73.5 245.6,72.6 245.7,72.9 245.8,73.7 245.9,73.4 246.0,72.8 246.1,73.8 246.2,73.1 246.3,73.2 246.4,74.8 246.5,73.9 246.6,74.1 246.7,74.6 246.8,73.8 246.9,74.2 247.0,73.6 247.1,74.3 247.2,72.9 247.3,74.5 247.4,73.5 247.5,74.8 247.6,73.3 247.7,73.2 247.8,74.2 247.9,73.6 248.0,73.4 248.1,73.7 248.2,73.3 248.3,73.8 248.4,73.3 248.5,73.0 248.6,74.1 248.7,74.6 248.8,73.3 248.9,73.8 249.0,73.9 249.1,74.4 249.2,73.1 249.3,74.2 249.4,74.0 249.5,74.2 249.6,74.4 249.7,74.2 249.8,74.3 249.9,74.2 250.0,73.9 250.1,74.5 250.2,73.9 250.3,74.2 250.4,74.6 250.5,73.7 250.6,73.9 250.7,74.8 250.8,74.2 250.9,73.2 251.0,74.1 251.1,73.8 251.2,74.4 251.3,74.0 251.4,73.6 251.5,74.1 251.6,74.0 251.7,74.0 251.8,73.8 251.9,74.6 252.0,74.2 252.1,74.3 252.2,74.1 252.3,74.4 252.4,74.3 252.5,74.5 252.6,74.2 252.7,74.4 252.8,74.7 252.9,75.4 253.0,74.5 253.1,74.8 253.2,75.1 253.3,75.2 253.4,74.9 253.5,74.9 253.6,75.5 253.7,76.0 253.8,74.2 253.9,75.8 254.0,74.7 254.1,75.2 254.2,75.5 254.3,75.3 254.4,75.9 254.5,75.1 254.6,75.2 254.7,74.5 254.8,75.4 254.9,75.7 255.0,74.5 255.1,75.4 255.2,75.1 255.3,75.0 255.4,74.6 255.5,75.2 255.6,75.6 255.7,75.1 255.8,74.8 255.9,74.6 256.0,74.6 256.1,75.3 256.2,75.1 256.3,75.4 256.4,75.5 256.5,74.8 256.6,75.9 256.7,75.4 256.8,75.6 256.9,75.9 257.0,75.7 257.1,75.5 257.2,76.2 257.3,75.4 257.4,75.2 257.5,75.7 257.6,75.5 257.7,75.3 257.8,76.2 257.9,75.5 258.0,75.1 258.1,74.5 258.2,75.2 258.3,74.9 258.4,74.8 258.5,75.9 258.6,75.2 258.7,75.4 258.8,75.0 258.9,75.0 259.0,75.3 259.1,75.4 259.2,75.8 259.3,76.5 259.4,75.5 259.5,75.6 259.6,76.2 259.7,76.7 259.8,76.1 259.9,76.3 260.0,76.1 260.1,76.0 260.2,75.8 260.3,75.7 260.4,75.6 260.5,76.2 260.6,75.1 260.7,75.8 260.8,76.0 260.9,75.6 261.0,75.9 261.1,75.0 261.2,75.5 261.3,75.7 261.4,76.0 261.5,75.6 261.6,75.7 261.7,75.3 261.8,75.5 261.9,74.9 262.0,74.9 262.1,75.0 262.2,75.3 262.3,75.1 262.4,75.8 262.5,74.5 262.6,75.5 262.7,75.0 262.8,74.9 262.9,75.4 263.0,75.6 263.1,75.4 263.2,75.8 263.3,75.1 263.4,75.1 263.5,76.0 263.6,75.3 263.7,75.2 263.8,75.6 263.9,75.4 264.0,74.7 264.1,74.6 264.2,74.3 264.3,74.5 264.4,74.8 264.5,75.2 264.6,75.0 264.7,74.4 264.8,74.6 264.9,73.9 265.0,75.0 265.1,74.2 265.2,73.9 265.3,74.0 265.4,73.8 265.5,74.3 265.6,74.3 265.7,73.8 265.8,73.9 265.9,73.3 266.0,73.8 266.1,73.3 266.2,73.0 266.3,73.9 266.4,72.7 266.5,72.4 266.6,71.8 266.7,72.1 266.8,72.3 266.9,71.8 267.0,72.1 267.1,72.7 267.2,73.2 267.3,72.0 267.4,73.0 267.5,73.3 267.6,72.3 267.7,73.3 267.8,73.4 267.9,73.4 268.0,73.8 268.1,73.7 268.2,73.9 268.3,73.9 268.4,74.2 268.5,73.9 268.6,73.9 268.7,74.9 268.8,74.7 268.9,75.9 269.0,75.7 269.1,75.0 269.2,74.8 269.3,75.3 269.4,75.3 269.5,75.4 269.6,75.2 269.7,76.4 269.8,76.1 269.9,76.3 270.0,74.6 270.1,76.1 270.2,75.3 270.3,76.2 270.4,75.5 270.5,75.5 270.6,75.6 270.7,76.7 270.8,75.0 270.9,75.6 271.0,75.6 271.1,76.1 271.2,76.3 271.3,75.9 271.4,75.7 271.5,75.4 271.6,75.6 271.7,75.1 271.8,75.1 271.9,76.0 272.0,75.0 272.1,75.8 272.2,75.2 272.3,74.4 272.4,75.6 272.5,75.1 272.6,75.3 272.7,75.8 272.8,75.6 272.9,75.1 273.0,75.8 273.1,75.9 273.2,75.2 273.3,75.5 273.4,75.4 273.5,75.4 273.6,76.1 273.7,75.6 273.8,75.6 273.9,76.8 274.0,76.0 274.1,76.2 274.2,76.4 274.3,75.2 274.4,75.7 274.5,76.4 274.6,75.5 274.7,75.8 274.8,76.1 274.9,75.9 275.0,76.4 275.1,76.3 275.2,76.9 275.3,76.3 275.4,76.5 275.5,75.5 275.6,76.0 275.7,77.0 275.8,76.0 275.9,75.9 276.0,77.1 276.1,76.2 276.2,76.0 276.3,76.6 276.4,75.6 276.5,76.0 276.6,75.9 276.7,76.6 276.8,76.1 276.9,76.3 277.0,76.3 277.1,76.0 277.2,76.7 277.3,76.5 277.4,77.3 277.5,76.4 277.6,76.3 277.7,76.4 277.8,76.0 277.9,75.8 278.0,76.7 278.1,76.2 278.2,76.4 278.3,76.5 278.4,76.2 278.5,75.3 278.6,76.1 278.7,76.5 278.8,76.3 278.9,75.8 279.0,76.2 279.1,75.4 279.2,76.3 279.3,75.0 279.4,75.2 279.5,75.5 279.6,76.5 279.7,75.9 279.8,75.4 279.9,75.1 280.0,75.6 280.1,76.7 280.2,75.8 280.3,76.8 280.4,76.0 280.5,76.5 280.6,75.6 280.7,76.3 280.8,76.7 280.9,76.9 281.0,77.0 281.1,77.5 281.2,76.7 281.3,76.9 281.4,76.4 281.5,76.2 281.6,76.6 281.7,76.3 281.8,76.1 281.9,76.4 282.0,75.9 282.1,76.3 282.2,76.2 282.3,75.8 282.4,76.5 282.5,75.6 282.6,76.2 282.7,75.9 282.8,76.0 282.9,76.6 283.0,76.2 283.1,76.5 283.2,76.3 283.3,75.8 283.4,76.3 283.5,76.4 283.6,77.0 283.7,76.7 283.8,76.7 283.9,76.1 284.0,75.9 284.1,75.5 284.2,76.9 284.3,76.5 284.4,76.3 284.5,76.3 284.6,76.6 284.7,76.3 284.8,76.9 284.9,76.3 285.0,75.8 285.1,76.0 285.2,76.3 285.3,76.8 285.4,75.4 285.5,76.0 285.6,76.3 285.7,76.4 285.8,75.9 285.9,76.5 286.0,75.7 286.1,76.3 286.2,75.8 286.3,76.8 286.4,75.0 286.5,75.2 286.6,75.0 286.7,75.4 286.8,76.2 286.9,75.0 287.0,76.7 287.1,75.8 287.2,75.9 287.3,74.6 287.4,75.2 287.5,75.9 287.6,75.7 287.7,75.0 287.8,75.1 287.9,74.9 288.0,75.5 288.1,75.0 288.2,74.9 288.3,75.5 288.4,75.1 288.5,75.2 288.6,74.6 288.7,75.3 288.8,75.6 288.9,74.8 289.0,74.5 289.1,75.4 289.2,75.1 289.3,74.9 289.4,75.4 289.5,75.7 289.6,75.3 289.7,76.1 289.8,74.8 289.9,76.1 290.0,75.8 290.1,76.2 290.2,76.4 290.3,75.5 290.4,76.5 290.5,75.7 290.6,76.0 290.7,77.2 290.8,76.3 290.9,75.3 291.0,76.6 291.1,75.7 291.2,76.0 291.3,76.6 291.4,75.9 291.5,76.1 291.6,76.3 291.7,76.0 291.8,76.2 291.9,76.0 292.0,76.2 292.1,76.3 292.2,75.6 292.3,75.5 292.4,76.3 292.5,76.2 292.6,75.5 292.7,75.7 292.8,75.7 292.9,75.5 293.0,75.8 293.1,75.5 293.2,75.4 293.3,75.9 293.4,75.5 293.5,75.9 293.6,76.0 293.7,75.5 293.8,75.8 293.9,75.6 294.0,75.4 294.1,75.9 294.2,77.0 294.3,76.4 294.4,76.7 294.5,76.8 294.6,75.6 294.7,75.4 294.8,76.6 294.9,76.3 295.0,77.1 295.1,76.4 295.2,76.2 295.3,76.3 295.4,75.4 295.5,76.4 295.6,75.6 295.7,76.1 295.8,76.0 295.9,76.7 296.0,76.2 296.1,77.1 296.2,76.5 296.3,76.4 296.4,77.4 296.5,76.4 296.6,76.3 296.7,76.6 296.8,76.1 296.9,76.0 297.0,76.3 297.1,75.9 297.2,76.0 297.3,75.7 297.4,75.6 297.5,75.1 297.6,75.2 297.7,75.9 297.8,75.2 297.9,75.9 298.0,75.9 298.1,76.5 298.2,76.4 298.3,76.2 298.4,76.5 298.5,76.0 298.6,76.3 298.7,76.1 298.8,76.2 298.9,76.6 299.0,75.4 299.1,76.0 299.2,76.1 299.3,76.0 299.4,76.3 299.5,77.2 299.6,76.3 299.7,77.0 299.8,77.0 299.9,76.7 300.0,76.7 300.1,77.0 300.2,76.2 300.3,77.7 300.4,76.6 300.5,76.3 300.6,76.5 300.7,76.0 300.8,76.0 300.9,76.2 301.0,76.2 301.1,75.3 301.2,76.9 301.3,76.7 301.4,76.2 301.5,76.4 301.6,76.1 301.7,76.4 301.8,75.8 301.9,76.1 302.0,76.1 302.1,76.8 302.2,75.5 302.3,76.5 302.4,76.3 302.5,77.1 302.6,75.7 302.7,77.1 302.8,76.3 302.9,77.7 303.0,75.7 303.1,77.2 303.2,76.5 303.3,75.8 303.4,75.9 303.5,76.4 303.6,76.0 303.7,76.7 303.8,75.9 303.9,75.9 304.0,76.7 304.1,75.6 304.2,75.9 304.3,76.0 304.4,75.5 304.5,75.6 304.6,75.5 304.7,75.7 304.8,76.6 304.9,75.3 305.0,76.2 305.1,75.4 305.2,77.8 305.3,76.7 305.4,76.4 305.5,76.7 305.6,77.0 305.7,76.7 305.8,76.8 305.9,75.6 306.0,76.9 306.1,77.3 306.2,76.7 306.3,76.5 306.4,75.9 306.5,76.2 306.6,76.4 306.7,75.9 306.8,75.2 306.9,75.2 307.0,75.3 307.1,74.4 307.2,75.4 307.3,75.6 307.4,74.9 307.5,75.1 307.6,75.0 307.7,74.8 307.8,75.5 307.9,74.3 308.0,74.9 308.1,75.0 308.2,74.9 308.3,74.5 308.4,74.4 308.5,75.1 308.6,75.0 308.7,75.1 308.8,74.5 308.9,74.5 309.0,75.5 309.1,74.5 309.2,74.0 309.3,74.8 309.4,74.1 309.5,75.1 309.6,75.9 309.7,75.0 309.8,75.3 309.9,75.8 310.0,75.2 310.1,75.1 310.2,75.0 310.3,75.1 310.4,75.6 310.5,74.9 310.6,76.2 310.7,75.5 310.8,76.2 310.9,75.2 311.0,75.3 311.1,75.6 311.2,75.9 311.3,75.7 311.4,75.7 311.5,75.9 311.6,75.8 311.7,75.5 311.8,75.7 311.9,75.5 312.0,75.3 312.1,75.0 312.2,75.0 312.3,76.1 312.4,75.9 312.5,75.6 312.6,76.2 312.7,75.8 312.8,76.4 312.9,76.1 313.0,76.1 313.1,76.1 313.2,75.7 313.3,75.8 313.4,76.5 313.5,76.5 313.6,76.7 313.7,76.3 313.8,76.2 313.9,76.5 314.0,76.8 314.1,76.3 314.2,76.7 314.3,76.4 314.4,76.9 314.5,76.8 314.6,76.2 314.7,76.3 314.8,76.7 314.9,76.2 315.0,76.5 315.1,76.5 315.2,76.5 315.3,75.9 315.4,76.8 315.5,77.3 315.6,76.5 315.7,76.1 315.8,76.8 315.9,76.6 316.0,76.8 316.1,77.2 316.2,75.6 316.3,76.8 316.4,76.9 316.5,76.3 316.6,77.3 316.7,77.2 316.8,77.0 316.9,76.3 317.0,76.2 317.1,76.0 317.2,76.4 317.3,76.3 317.4,76.6 317.5,76.3 317.6,76.5 317.7,75.8 317.8,75.5 317.9,75.8 318.0,76.9 318.1,76.4 318.2,75.8 318.3,76.5 318.4,76.1 318.5,76.6 318.6,76.3 318.7,76.8 318.8,77.0 318.9,76.8 319.0,76.8 319.1,76.8 319.2,77.0 319.3,78.1 319.4,77.0 319.5,76.1 319.6,76.2 319.7,76.3 319.8,76.1 319.9,77.1 320.0,76.6 320.1,76.2 320.2,77.2 320.3,77.3 320.4,76.3 320.5,76.3 320.6,76.5 320.7,76.6 320.8,77.2 320.9,76.7 321.0,76.4 321.1,76.4 321.2,76.7 321.3,76.4 321.4,76.1 321.5,77.0 321.6,77.4 321.7,76.5 321.8,77.1 321.9,77.1 322.0,75.8 322.1,76.4 322.2,75.9 322.3,76.5 322.4,76.1 322.5,76.2 322.6,76.9 322.7,75.9 322.8,75.9 322.9,76.3 323.0,76.2 323.1,75.6 323.2,76.1 323.3,76.3 323.4,75.5 323.5,75.9 323.6,75.0 323.7,76.6 323.8,76.2 323.9,76.7 324.0,76.5 324.1,75.6 324.2,76.9 324.3,76.2 324.4,75.7 324.5,75.8 324.6,76.0 324.7,75.8 324.8,75.7 324.9,76.1 325.0,76.0 325.1,76.2 325.2,75.8 325.3,76.3 325.4,75.3 325.5,76.3 325.6,75.8 325.7,75.7 325.8,75.7 325.9,76.2 326.0,76.2 326.1,75.9 326.2,75.4 326.3,75.0 326.4,76.3 326.5,75.7 326.6,76.0 326.7,76.5 326.8,75.0 326.9,75.9 327.0,75.6 327.1,75.4 327.2,75.9 327.3,75.8 327.4,76.0 327.5,75.2 327.6,75.3 327.7,75.7 327.8,76.1 327.9,76.4 328.0,75.9 328.1,76.2 328.2,76.0 328.3,77.0 328.4,76.8 328.5,76.9 328.6,77.1 328.7,76.4 328.8,76.5 328.9,76.4 329.0,76.9 329.1,77.5 329.2,76.8 329.3,76.7 329.4,77.4 329.5,76.3 329.6,76.7 329.7,76.7 329.8,76.7 329.9,76.1 330.0,75.8 330.1,76.1 330.2,76.2 330.3,75.4 330.4,76.7 330.5,76.9 330.6,77.0 330.7,77.0 330.8,76.8 330.9,76.7 331.0,76.5 331.1,76.2 331.2,76.9 331.3,75.6 331.4,76.7 331.5,77.2 331.6,76.6 331.7,75.3 331.8,76.6 331.9,76.1 332.0,76.5 332.1,76.6 332.2,76.4 332.3,76.0 332.4,76.2 332.5,75.6 332.6,76.0 332.7,76.4 332.8,76.3 332.9,76.7 333.0,76.6 333.1,76.7 333.2,76.6 333.3,75.5 333.4,77.4 333.5,76.7 333.6,76.2 333.7,75.9 333.8,77.1 333.9,76.2 334.0,76.6 334.1,76.7 334.2,76.0 334.3,76.6 334.4,76.4 334.5,76.7 334.6,76.9 334.7,76.1 334.8,77.1 334.9,76.9 335.0,76.1 335.1,77.2 335.2,76.5 335.3,76.0 335.4,76.0 335.5,76.5 335.6,76.6 335.7,75.5 335.8,76.6 335.9,76.3 336.0,76.4 336.1,76.6 336.2,76.3 336.3,76.4 336.4,76.2 336.5,76.9 336.6,76.6 336.7,76.3 336.8,76.7 336.9,76.3 337.0,76.9 337.1,77.0 337.2,76.6 337.3,75.9 337.4,76.8 337.5,77.2 337.6,77.8 337.7,77.4 337.8,76.3 337.9,76.5 338.0,76.8 338.1,77.3 338.2,77.3 338.3,77.1 338.4,77.1 338.5,76.4 338.6,77.3 338.7,76.7 338.8,76.3 338.9,76.1 339.0,76.4 339.1,76.6 339.2,76.0 339.3,76.8 339.4,76.3 339.5,76.1 339.6,76.1 339.7,76.5 339.8,76.7 339.9,76.4 340.0,76.8 340.1,76.7 340.2,76.3 340.3,76.9 340.4,76.6 340.5,77.0 340.6,77.2 340.7,76.6 340.8,77.5 340.9,77.5 341.0,77.4 341.1,77.6 341.2,77.1 341.3,77.4 341.4,77.0 341.5,77.1 341.6,76.4 341.7,77.5 341.8,76.5 341.9,76.9 342.0,75.9 342.1,76.8 342.2,77.2 342.3,76.6 342.4,76.6 342.5,76.2 342.6,76.9 342.7,76.9 342.8,76.8 342.9,77.3 343.0,77.2 343.1,77.7 343.2,76.2 343.3,76.3 343.4,76.6 343.5,76.9 343.6,76.0 343.7,76.1 343.8,76.7 343.9,75.6 344.0,75.4 344.1,76.6 344.2,76.7 344.3,76.1 344.4,77.0 344.5,77.0 344.6,76.0 344.7,76.4 344.8,76.9 344.9,77.5 345.0,76.7 345.1,77.6 345.2,76.9 345.3,76.7 345.4,77.0 345.5,76.8 345.6,77.3 345.7,77.7 345.8,77.2 345.9,76.9 346.0,76.7 346.1,77.5 346.2,76.4 346.3,77.4 346.4,78.0 346.5,77.3 346.6,77.2 346.7,76.4 346.8,77.1 346.9,76.8 347.0,76.8 347.1,77.7 347.2,76.2 347.3,76.8 347.4,76.4 347.5,76.4 347.6,76.9 347.7,76.6 347.8,76.7 347.9,76.8 348.0,76.7 348.1,77.2 348.2,77.2 348.3,76.8 348.4,76.9 348.5,76.9 348.6,78.1 348.7,77.3 348.8,77.3 348.9,76.7 349.0,77.4 349.1,76.7 349.2,76.1 349.3,76.1 349.4,76.5 349.5,76.2 349.6,76.6 349.7,76.3 349.8,76.8 349.9,76.2 350.0,76.1 350.1,76.0 350.2,76.0 350.3,76.7 350.4,76.0 350.5,76.3 350.6,76.3 350.7,75.6 350.8,76.5 350.9,76.3 351.0,76.7 351.1,75.2 351.2,75.8 351.3,76.8 351.4,76.3 351.5,76.4 351.6,75.4 351.7,76.5 351.8,75.7 351.9,76.1 352.0,76.0 352.1,75.9 352.2,76.2 352.3,75.3 352.4,76.2 352.5,76.4 352.6,75.9 352.7,76.5 352.8,75.9 352.9,76.3 353.0,76.1 353.1,76.5 353.2,76.9 353.3,77.0 353.4,76.0 353.5,75.9 353.6,76.1 353.7,76.3 353.8,75.6 353.9,76.5 354.0,76.9 354.1,76.4 354.2,76.8 354.3,76.2 354.4,76.5 354.5,76.5 354.6,76.5 354.7,75.9 354.8,77.1 354.9,76.6 355.0,76.9 355.1,76.8 355.2,76.7 355.3,76.9 355.4,77.1 355.5,76.5 355.6,77.2 355.7,77.0 355.8,77.2 355.9,77.0 356.0,77.3 356.1,77.8 356.2,77.3 356.3,76.6 356.4,76.1 356.5,77.6 356.6,77.3 356.7,77.1 356.8,76.2 356.9,77.0 357.0,77.1 357.1,77.6 357.2,76.7 357.3,76.0"/>

<rect x="35.2" y="3.5" width="321.7" height="235.9" fill="none" stroke="#050b0e" stroke-width="2.0"/>
<line x1="35.2" y1="239.4" x2="35.2" y2="244.6" stroke="#050b0e" stroke-width="1.9"/>
<line x1="58.2" y1="239.4" x2="58.2" y2="243.0" stroke="#050b0e" stroke-width="1.8"/>
<line x1="81.2" y1="239.4" x2="81.2" y2="244.6" stroke="#050b0e" stroke-width="1.9"/>
<line x1="104.1" y1="239.4" x2="104.1" y2="243.0" stroke="#050b0e" stroke-width="1.8"/>
<line x1="127.1" y1="239.4" x2="127.1" y2="244.6" stroke="#050b0e" stroke-width="1.9"/>
<line x1="150.1" y1="239.4" x2="150.1" y2="243.0" stroke="#050b0e" stroke-width="1.8"/>
<line x1="173.1" y1="239.4" x2="173.1" y2="244.6" stroke="#050b0e" stroke-width="1.9"/>
<line x1="196.1" y1="239.4" x2="196.1" y2="243.0" stroke="#050b0e" stroke-width="1.8"/>
<line x1="219.0" y1="239.4" x2="219.0" y2="244.6" stroke="#050b0e" stroke-width="1.9"/>
<line x1="242.0" y1="239.4" x2="242.0" y2="243.0" stroke="#050b0e" stroke-width="1.8"/>
<line x1="265.0" y1="239.4" x2="265.0" y2="244.6" stroke="#050b0e" stroke-width="1.9"/>
<line x1="288.0" y1="239.4" x2="288.0" y2="243.0" stroke="#050b0e" stroke-width="1.8"/>
<line x1="310.9" y1="239.4" x2="310.9" y2="244.6" stroke="#050b0e" stroke-width="1.9"/>
<line x1="333.9" y1="239.4" x2="333.9" y2="243.0" stroke="#050b0e" stroke-width="1.8"/>
<line x1="356.9" y1="239.4" x2="356.9" y2="244.6" stroke="#050b0e" stroke-width="1.9"/>

<text x="28.0" y="256.9" font-size="11.4" stroke="#0c1216" stroke-width="0.3" textLength="14.5" lengthAdjust="spacingAndGlyphs">10</text>
<text x="73.9" y="256.9" font-size="11.4" stroke="#0c1216" stroke-width="0.3" textLength="14.5" lengthAdjust="spacingAndGlyphs">20</text>
<text x="119.9" y="256.9" font-size="11.4" stroke="#0c1216" stroke-width="0.3" textLength="14.5" lengthAdjust="spacingAndGlyphs">30</text>
<text x="165.8" y="256.9" font-size="11.4" stroke="#0c1216" stroke-width="0.3" textLength="14.5" lengthAdjust="spacingAndGlyphs">40</text>
<text x="211.8" y="256.9" font-size="11.4" stroke="#0c1216" stroke-width="0.3" textLength="14.5" lengthAdjust="spacingAndGlyphs">50</text>
<text x="257.7" y="256.9" font-size="11.4" stroke="#0c1216" stroke-width="0.3" textLength="14.5" lengthAdjust="spacingAndGlyphs">60</text>
<text x="303.7" y="256.9" font-size="11.4" stroke="#0c1216" stroke-width="0.3" textLength="14.5" lengthAdjust="spacingAndGlyphs">70</text>
<text x="349.6" y="256.9" font-size="11.4" stroke="#0c1216" stroke-width="0.3" textLength="14.5" lengthAdjust="spacingAndGlyphs">80</text>

<line x1="239.6" y1="17.4" x2="262.4" y2="17.4" stroke="#26323a" stroke-width="1.5"/>
<text x="265.3" y="20.0" font-size="8.8" textLength="62.0" lengthAdjust="spacingAndGlyphs" stroke="#0c1216" stroke-width="0.25">Pt/MnO<tspan font-size="5.8" dy="2.3">2</tspan><tspan dy="-2.3">-s-WI</tspan></text>
<line x1="239.6" y1="32.4" x2="262.4" y2="32.4" stroke="#f4386a" stroke-width="1.5"/>
<text x="265.3" y="35.0" font-size="8.8" textLength="62.0" lengthAdjust="spacingAndGlyphs" stroke="#0c1216" stroke-width="0.25">Pt/MnO<tspan font-size="5.8" dy="2.3">2</tspan><tspan dy="-2.3">-r-WI</tspan></text>
<line x1="239.6" y1="47.4" x2="262.4" y2="47.4" stroke="#4a68ec" stroke-width="1.5"/>
<text x="265.3" y="50.0" font-size="8.8" textLength="62.0" lengthAdjust="spacingAndGlyphs" stroke="#0c1216" stroke-width="0.25">Pt/MnO<tspan font-size="5.8" dy="2.3">2</tspan><tspan dy="-2.3">-r-IW</tspan></text>
<line x1="239.6" y1="62.4" x2="262.4" y2="62.4" stroke="#d27af0" stroke-width="1.5"/>
<text x="265.3" y="65.0" font-size="8.8" textLength="30.2" lengthAdjust="spacingAndGlyphs" stroke="#0c1216" stroke-width="0.25">MnO<tspan font-size="5.8" dy="2.3">2</tspan><tspan dy="-2.3">-r</tspan></text>

<text transform="translate(18.3,173.2) rotate(-90)" font-family="&quot;DejaVu Sans&quot;, sans-serif" font-size="19.7" stroke="#0c1216" stroke-width="0.9" textLength="149.5" lengthAdjust="spacingAndGlyphs">Intensity (a.u.)</text>
<text x="177.8" y="285.2" font-size="17.2" stroke="#0c1216" stroke-width="0.5" textLength="45.5" lengthAdjust="spacingAndGlyphs">2θ (°)</text>
</g>
</svg>
</body></html>
